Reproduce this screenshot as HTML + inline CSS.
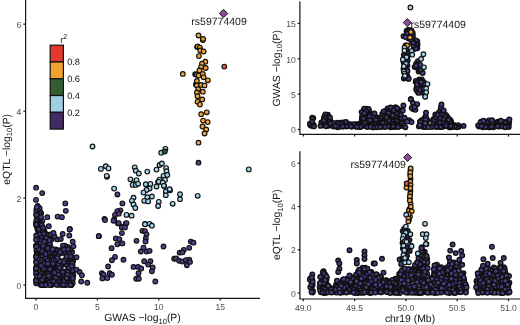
<!DOCTYPE html>
<html><head><meta charset="utf-8"><style>
html,body{margin:0;padding:0;background:#fff;}
svg{display:block;text-rendering:geometricPrecision;}
.tk{font-family:"Liberation Sans",Arial,sans-serif;font-size:8.6px;fill:#4d4d4d;}
.ti{font-family:"Liberation Sans",Arial,sans-serif;font-size:10.4px;fill:#111;}
.lb{font-family:"Liberation Sans",Arial,sans-serif;font-size:10.5px;fill:#1a1a1a;}
.lg{font-family:"Liberation Sans",Arial,sans-serif;font-size:9.2px;fill:#111;}
</style></head><body>
<svg width="520" height="325" viewBox="0 0 520 325">
<rect width="520" height="325" fill="#fff"/>
<g stroke="#111" stroke-width="1.15">
<circle cx="50.8" cy="272.6" r="2.35" fill="#45367c" stroke-width="1.2"/>
<circle cx="62.6" cy="264.2" r="2.35" fill="#45367c" stroke-width="1.2"/>
<circle cx="40.8" cy="222.2" r="2.35" fill="#45367c" stroke-width="1.2"/>
<circle cx="43.0" cy="232.9" r="2.35" fill="#45367c" stroke-width="1.2"/>
<circle cx="68.8" cy="261.2" r="2.35" fill="#45367c" stroke-width="1.2"/>
<circle cx="43.5" cy="274.4" r="2.35" fill="#45367c" stroke-width="1.2"/>
<circle cx="53.3" cy="254.8" r="2.35" fill="#45367c" stroke-width="1.2"/>
<circle cx="52.2" cy="283.2" r="2.35" fill="#45367c" stroke-width="1.2"/>
<circle cx="54.1" cy="261.3" r="2.35" fill="#45367c" stroke-width="1.2"/>
<circle cx="37.9" cy="234.5" r="2.35" fill="#45367c" stroke-width="1.2"/>
<circle cx="68.0" cy="246.9" r="2.35" fill="#45367c" stroke-width="1.2"/>
<circle cx="49.5" cy="277.7" r="2.35" fill="#45367c" stroke-width="1.2"/>
<circle cx="65.4" cy="271.5" r="2.35" fill="#45367c" stroke-width="1.2"/>
<circle cx="70.5" cy="268.9" r="2.35" fill="#45367c" stroke-width="1.2"/>
<circle cx="39.8" cy="273.0" r="2.35" fill="#45367c" stroke-width="1.2"/>
<circle cx="69.0" cy="268.7" r="2.35" fill="#45367c" stroke-width="1.2"/>
<circle cx="46.2" cy="234.2" r="2.35" fill="#45367c" stroke-width="1.2"/>
<circle cx="40.2" cy="225.7" r="2.35" fill="#45367c" stroke-width="1.2"/>
<circle cx="53.2" cy="278.5" r="2.35" fill="#45367c" stroke-width="1.2"/>
<circle cx="64.8" cy="245.7" r="2.35" fill="#45367c" stroke-width="1.2"/>
<circle cx="41.1" cy="266.0" r="2.35" fill="#45367c" stroke-width="1.2"/>
<circle cx="55.9" cy="279.1" r="2.35" fill="#45367c" stroke-width="1.2"/>
<circle cx="61.0" cy="278.1" r="2.35" fill="#45367c" stroke-width="1.2"/>
<circle cx="38.4" cy="267.5" r="2.35" fill="#45367c" stroke-width="1.2"/>
<circle cx="50.6" cy="236.8" r="2.35" fill="#45367c" stroke-width="1.2"/>
<circle cx="66.1" cy="276.8" r="2.35" fill="#45367c" stroke-width="1.2"/>
<circle cx="65.7" cy="284.6" r="2.35" fill="#45367c" stroke-width="1.2"/>
<circle cx="39.3" cy="250.6" r="2.35" fill="#45367c" stroke-width="1.2"/>
<circle cx="60.9" cy="284.3" r="2.35" fill="#45367c" stroke-width="1.2"/>
<circle cx="50.3" cy="247.3" r="2.35" fill="#45367c" stroke-width="1.2"/>
<circle cx="67.7" cy="266.1" r="2.35" fill="#45367c" stroke-width="1.2"/>
<circle cx="38.0" cy="273.8" r="2.35" fill="#45367c" stroke-width="1.2"/>
<circle cx="72.1" cy="252.0" r="2.35" fill="#45367c" stroke-width="1.2"/>
<circle cx="44.3" cy="254.2" r="2.35" fill="#45367c" stroke-width="1.2"/>
<circle cx="66.5" cy="252.5" r="2.35" fill="#45367c" stroke-width="1.2"/>
<circle cx="54.6" cy="266.4" r="2.35" fill="#45367c" stroke-width="1.2"/>
<circle cx="37.9" cy="282.1" r="2.35" fill="#45367c" stroke-width="1.2"/>
<circle cx="66.0" cy="273.2" r="2.35" fill="#45367c" stroke-width="1.2"/>
<circle cx="59.2" cy="273.2" r="2.35" fill="#45367c" stroke-width="1.2"/>
<circle cx="49.2" cy="262.0" r="2.35" fill="#45367c" stroke-width="1.2"/>
<circle cx="40.4" cy="226.8" r="2.35" fill="#45367c" stroke-width="1.2"/>
<circle cx="57.7" cy="255.9" r="2.35" fill="#45367c" stroke-width="1.2"/>
<circle cx="53.4" cy="277.3" r="2.35" fill="#45367c" stroke-width="1.2"/>
<circle cx="37.6" cy="239.1" r="2.35" fill="#45367c" stroke-width="1.2"/>
<circle cx="69.2" cy="272.5" r="2.35" fill="#45367c" stroke-width="1.2"/>
<circle cx="67.7" cy="281.8" r="2.35" fill="#45367c" stroke-width="1.2"/>
<circle cx="49.5" cy="259.4" r="2.35" fill="#45367c" stroke-width="1.2"/>
<circle cx="73.1" cy="261.3" r="2.35" fill="#45367c" stroke-width="1.2"/>
<circle cx="53.9" cy="254.6" r="2.35" fill="#45367c" stroke-width="1.2"/>
<circle cx="37.8" cy="241.1" r="2.35" fill="#45367c" stroke-width="1.2"/>
<circle cx="47.2" cy="273.4" r="2.35" fill="#45367c" stroke-width="1.2"/>
<circle cx="42.1" cy="267.1" r="2.35" fill="#45367c" stroke-width="1.2"/>
<circle cx="71.1" cy="278.5" r="2.35" fill="#45367c" stroke-width="1.2"/>
<circle cx="41.9" cy="243.2" r="2.35" fill="#45367c" stroke-width="1.2"/>
<circle cx="47.4" cy="284.2" r="2.35" fill="#45367c" stroke-width="1.2"/>
<circle cx="38.0" cy="247.2" r="2.35" fill="#45367c" stroke-width="1.2"/>
<circle cx="53.1" cy="257.7" r="2.35" fill="#45367c" stroke-width="1.2"/>
<circle cx="53.3" cy="252.7" r="2.35" fill="#45367c" stroke-width="1.2"/>
<circle cx="62.8" cy="279.7" r="2.35" fill="#45367c" stroke-width="1.2"/>
<circle cx="42.3" cy="270.7" r="2.35" fill="#45367c" stroke-width="1.2"/>
<circle cx="41.1" cy="213.1" r="2.35" fill="#45367c" stroke-width="1.2"/>
<circle cx="67.8" cy="265.3" r="2.35" fill="#45367c" stroke-width="1.2"/>
<circle cx="46.2" cy="272.2" r="2.35" fill="#45367c" stroke-width="1.2"/>
<circle cx="69.6" cy="280.4" r="2.35" fill="#45367c" stroke-width="1.2"/>
<circle cx="46.3" cy="280.2" r="2.35" fill="#45367c" stroke-width="1.2"/>
<circle cx="39.7" cy="215.1" r="2.35" fill="#45367c" stroke-width="1.2"/>
<circle cx="56.1" cy="281.5" r="2.35" fill="#45367c" stroke-width="1.2"/>
<circle cx="69.4" cy="276.5" r="2.35" fill="#45367c" stroke-width="1.2"/>
<circle cx="38.2" cy="236.1" r="2.35" fill="#45367c" stroke-width="1.2"/>
<circle cx="37.6" cy="255.9" r="2.35" fill="#45367c" stroke-width="1.2"/>
<circle cx="36.6" cy="252.1" r="2.35" fill="#45367c" stroke-width="1.2"/>
<circle cx="43.4" cy="264.5" r="2.35" fill="#45367c" stroke-width="1.2"/>
<circle cx="57.0" cy="267.7" r="2.35" fill="#45367c" stroke-width="1.2"/>
<circle cx="53.8" cy="263.7" r="2.35" fill="#45367c" stroke-width="1.2"/>
<circle cx="56.0" cy="282.6" r="2.35" fill="#45367c" stroke-width="1.2"/>
<circle cx="36.1" cy="279.9" r="2.35" fill="#45367c" stroke-width="1.2"/>
<circle cx="47.9" cy="245.2" r="2.35" fill="#45367c" stroke-width="1.2"/>
<circle cx="36.2" cy="274.4" r="2.35" fill="#45367c" stroke-width="1.2"/>
<circle cx="39.7" cy="252.1" r="2.35" fill="#45367c" stroke-width="1.2"/>
<circle cx="55.2" cy="269.9" r="2.35" fill="#45367c" stroke-width="1.2"/>
<circle cx="60.5" cy="281.4" r="2.35" fill="#45367c" stroke-width="1.2"/>
<circle cx="45.2" cy="238.7" r="2.35" fill="#45367c" stroke-width="1.2"/>
<circle cx="72.6" cy="265.4" r="2.35" fill="#45367c" stroke-width="1.2"/>
<circle cx="43.3" cy="236.6" r="2.35" fill="#45367c" stroke-width="1.2"/>
<circle cx="60.5" cy="276.6" r="2.35" fill="#45367c" stroke-width="1.2"/>
<circle cx="37.5" cy="229.6" r="2.35" fill="#45367c" stroke-width="1.2"/>
<circle cx="40.4" cy="232.9" r="2.35" fill="#45367c" stroke-width="1.2"/>
<circle cx="61.7" cy="253.4" r="2.35" fill="#45367c" stroke-width="1.2"/>
<circle cx="36.8" cy="226.5" r="2.35" fill="#45367c" stroke-width="1.2"/>
<circle cx="51.1" cy="256.6" r="2.35" fill="#45367c" stroke-width="1.2"/>
<circle cx="73.3" cy="275.2" r="2.35" fill="#45367c" stroke-width="1.2"/>
<circle cx="67.3" cy="256.1" r="2.35" fill="#45367c" stroke-width="1.2"/>
<circle cx="64.7" cy="277.5" r="2.35" fill="#45367c" stroke-width="1.2"/>
<circle cx="36.9" cy="254.3" r="2.35" fill="#45367c" stroke-width="1.2"/>
<circle cx="66.8" cy="265.1" r="2.35" fill="#45367c" stroke-width="1.2"/>
<circle cx="53.3" cy="259.7" r="2.35" fill="#45367c" stroke-width="1.2"/>
<circle cx="40.7" cy="246.3" r="2.35" fill="#45367c" stroke-width="1.2"/>
<circle cx="43.6" cy="249.7" r="2.35" fill="#45367c" stroke-width="1.2"/>
<circle cx="41.8" cy="256.7" r="2.35" fill="#45367c" stroke-width="1.2"/>
<circle cx="48.4" cy="281.3" r="2.35" fill="#45367c" stroke-width="1.2"/>
<circle cx="62.9" cy="245.6" r="2.35" fill="#45367c" stroke-width="1.2"/>
<circle cx="71.8" cy="284.5" r="2.35" fill="#45367c" stroke-width="1.2"/>
<circle cx="47.9" cy="266.5" r="2.35" fill="#45367c" stroke-width="1.2"/>
<circle cx="54.4" cy="273.4" r="2.35" fill="#45367c" stroke-width="1.2"/>
<circle cx="51.6" cy="269.3" r="2.35" fill="#45367c" stroke-width="1.2"/>
<circle cx="73.5" cy="270.8" r="2.35" fill="#45367c" stroke-width="1.2"/>
<circle cx="47.8" cy="249.9" r="2.35" fill="#45367c" stroke-width="1.2"/>
<circle cx="40.4" cy="258.3" r="2.35" fill="#45367c" stroke-width="1.2"/>
<circle cx="58.6" cy="262.0" r="2.35" fill="#45367c" stroke-width="1.2"/>
<circle cx="37.6" cy="264.7" r="2.35" fill="#45367c" stroke-width="1.2"/>
<circle cx="40.2" cy="211.9" r="2.35" fill="#45367c" stroke-width="1.2"/>
<circle cx="58.8" cy="281.0" r="2.35" fill="#45367c" stroke-width="1.2"/>
<circle cx="39.0" cy="232.8" r="2.35" fill="#45367c" stroke-width="1.2"/>
<circle cx="55.1" cy="271.3" r="2.35" fill="#45367c" stroke-width="1.2"/>
<circle cx="37.5" cy="271.4" r="2.35" fill="#45367c" stroke-width="1.2"/>
<circle cx="44.4" cy="230.9" r="2.35" fill="#45367c" stroke-width="1.2"/>
<circle cx="37.8" cy="227.2" r="2.35" fill="#45367c" stroke-width="1.2"/>
<circle cx="58.4" cy="278.0" r="2.35" fill="#45367c" stroke-width="1.2"/>
<circle cx="70.1" cy="249.4" r="2.35" fill="#45367c" stroke-width="1.2"/>
<circle cx="37.7" cy="278.8" r="2.35" fill="#45367c" stroke-width="1.2"/>
<circle cx="36.8" cy="218.6" r="2.35" fill="#45367c" stroke-width="1.2"/>
<circle cx="38.0" cy="244.0" r="2.35" fill="#45367c" stroke-width="1.2"/>
<circle cx="50.3" cy="256.3" r="2.35" fill="#45367c" stroke-width="1.2"/>
<circle cx="47.9" cy="280.0" r="2.35" fill="#45367c" stroke-width="1.2"/>
<circle cx="40.4" cy="242.2" r="2.35" fill="#45367c" stroke-width="1.2"/>
<circle cx="65.2" cy="252.4" r="2.35" fill="#45367c" stroke-width="1.2"/>
<circle cx="43.3" cy="240.0" r="2.35" fill="#45367c" stroke-width="1.2"/>
<circle cx="36.6" cy="208.9" r="2.35" fill="#45367c" stroke-width="1.2"/>
<circle cx="36.4" cy="257.2" r="2.35" fill="#45367c" stroke-width="1.2"/>
<circle cx="58.0" cy="271.1" r="2.35" fill="#45367c" stroke-width="1.2"/>
<circle cx="46.7" cy="248.6" r="2.35" fill="#45367c" stroke-width="1.2"/>
<circle cx="70.7" cy="264.2" r="2.35" fill="#45367c" stroke-width="1.2"/>
<circle cx="70.9" cy="273.6" r="2.35" fill="#45367c" stroke-width="1.2"/>
<circle cx="58.5" cy="284.7" r="2.35" fill="#45367c" stroke-width="1.2"/>
<circle cx="51.6" cy="237.9" r="2.35" fill="#45367c" stroke-width="1.2"/>
<circle cx="67.9" cy="271.7" r="2.35" fill="#45367c" stroke-width="1.2"/>
<circle cx="67.7" cy="278.6" r="2.35" fill="#45367c" stroke-width="1.2"/>
<circle cx="68.2" cy="261.5" r="2.35" fill="#45367c" stroke-width="1.2"/>
<circle cx="51.4" cy="239.4" r="2.35" fill="#45367c" stroke-width="1.2"/>
<circle cx="62.3" cy="284.7" r="2.35" fill="#45367c" stroke-width="1.2"/>
<circle cx="48.1" cy="235.2" r="2.35" fill="#45367c" stroke-width="1.2"/>
<circle cx="49.3" cy="238.2" r="2.35" fill="#45367c" stroke-width="1.2"/>
<circle cx="56.9" cy="260.7" r="2.35" fill="#45367c" stroke-width="1.2"/>
<circle cx="46.6" cy="268.2" r="2.35" fill="#45367c" stroke-width="1.2"/>
<circle cx="38.9" cy="229.3" r="2.35" fill="#45367c" stroke-width="1.2"/>
<circle cx="49.3" cy="265.6" r="2.35" fill="#45367c" stroke-width="1.2"/>
<circle cx="50.7" cy="267.1" r="2.35" fill="#45367c" stroke-width="1.2"/>
<circle cx="40.4" cy="242.7" r="2.35" fill="#45367c" stroke-width="1.2"/>
<circle cx="40.7" cy="239.5" r="2.35" fill="#45367c" stroke-width="1.2"/>
<circle cx="50.6" cy="253.2" r="2.35" fill="#45367c" stroke-width="1.2"/>
<circle cx="39.6" cy="214.1" r="2.35" fill="#45367c" stroke-width="1.2"/>
<circle cx="51.2" cy="280.7" r="2.35" fill="#45367c" stroke-width="1.2"/>
<circle cx="42.3" cy="221.1" r="2.35" fill="#45367c" stroke-width="1.2"/>
<circle cx="42.8" cy="271.2" r="2.35" fill="#45367c" stroke-width="1.2"/>
<circle cx="73.0" cy="270.4" r="2.35" fill="#45367c" stroke-width="1.2"/>
<circle cx="46.2" cy="237.9" r="2.35" fill="#45367c" stroke-width="1.2"/>
<circle cx="48.3" cy="242.6" r="2.35" fill="#45367c" stroke-width="1.2"/>
<circle cx="47.9" cy="257.1" r="2.35" fill="#45367c" stroke-width="1.2"/>
<circle cx="36.9" cy="276.6" r="2.35" fill="#45367c" stroke-width="1.2"/>
<circle cx="56.6" cy="262.2" r="2.35" fill="#45367c" stroke-width="1.2"/>
<circle cx="58.9" cy="275.7" r="2.35" fill="#45367c" stroke-width="1.2"/>
<circle cx="39.0" cy="262.2" r="2.35" fill="#45367c" stroke-width="1.2"/>
<circle cx="50.1" cy="263.5" r="2.35" fill="#45367c" stroke-width="1.2"/>
<circle cx="49.4" cy="250.4" r="2.35" fill="#45367c" stroke-width="1.2"/>
<circle cx="65.0" cy="259.9" r="2.35" fill="#45367c" stroke-width="1.2"/>
<circle cx="69.4" cy="282.7" r="2.35" fill="#45367c" stroke-width="1.2"/>
<circle cx="39.3" cy="221.1" r="2.35" fill="#45367c" stroke-width="1.2"/>
<circle cx="39.6" cy="208.2" r="2.35" fill="#45367c" stroke-width="1.2"/>
<circle cx="43.4" cy="277.9" r="2.35" fill="#45367c" stroke-width="1.2"/>
<circle cx="48.8" cy="252.9" r="2.35" fill="#45367c" stroke-width="1.2"/>
<circle cx="50.3" cy="246.1" r="2.35" fill="#45367c" stroke-width="1.2"/>
<circle cx="60.9" cy="265.8" r="2.35" fill="#45367c" stroke-width="1.2"/>
<circle cx="71.6" cy="276.0" r="2.35" fill="#45367c" stroke-width="1.2"/>
<circle cx="67.6" cy="274.6" r="2.35" fill="#45367c" stroke-width="1.2"/>
<circle cx="39.5" cy="222.0" r="2.35" fill="#45367c" stroke-width="1.2"/>
<circle cx="44.4" cy="282.5" r="2.35" fill="#45367c" stroke-width="1.2"/>
<circle cx="46.5" cy="256.5" r="2.35" fill="#45367c" stroke-width="1.2"/>
<circle cx="40.5" cy="273.4" r="2.35" fill="#45367c" stroke-width="1.2"/>
<circle cx="46.0" cy="243.3" r="2.35" fill="#45367c" stroke-width="1.2"/>
<circle cx="36.3" cy="210.9" r="2.35" fill="#45367c" stroke-width="1.2"/>
<circle cx="69.0" cy="267.7" r="2.35" fill="#45367c" stroke-width="1.2"/>
<circle cx="40.9" cy="236.6" r="2.35" fill="#45367c" stroke-width="1.2"/>
<circle cx="41.4" cy="282.4" r="2.35" fill="#45367c" stroke-width="1.2"/>
<circle cx="70.9" cy="261.7" r="2.35" fill="#45367c" stroke-width="1.2"/>
<circle cx="39.7" cy="276.3" r="2.35" fill="#45367c" stroke-width="1.2"/>
<circle cx="57.2" cy="239.4" r="2.35" fill="#45367c" stroke-width="1.2"/>
<circle cx="43.8" cy="233.4" r="2.35" fill="#45367c" stroke-width="1.2"/>
<circle cx="46.0" cy="263.7" r="2.35" fill="#45367c" stroke-width="1.2"/>
<circle cx="60.7" cy="268.5" r="2.35" fill="#45367c" stroke-width="1.2"/>
<circle cx="62.7" cy="274.3" r="2.35" fill="#45367c" stroke-width="1.2"/>
<circle cx="55.2" cy="252.6" r="2.35" fill="#45367c" stroke-width="1.2"/>
<circle cx="47.1" cy="241.9" r="2.35" fill="#45367c" stroke-width="1.2"/>
<circle cx="44.5" cy="259.4" r="2.35" fill="#45367c" stroke-width="1.2"/>
<circle cx="56.1" cy="250.2" r="2.35" fill="#45367c" stroke-width="1.2"/>
<circle cx="36.4" cy="261.1" r="2.35" fill="#45367c" stroke-width="1.2"/>
<circle cx="43.1" cy="229.7" r="2.35" fill="#45367c" stroke-width="1.2"/>
<circle cx="47.8" cy="248.3" r="2.35" fill="#45367c" stroke-width="1.2"/>
<circle cx="51.7" cy="251.3" r="2.35" fill="#45367c" stroke-width="1.2"/>
<circle cx="70.2" cy="259.9" r="2.35" fill="#45367c" stroke-width="1.2"/>
<circle cx="52.6" cy="273.4" r="2.35" fill="#45367c" stroke-width="1.2"/>
<circle cx="38.0" cy="220.3" r="2.35" fill="#45367c" stroke-width="1.2"/>
<circle cx="37.0" cy="214.0" r="2.35" fill="#45367c" stroke-width="1.2"/>
<circle cx="38.0" cy="218.1" r="2.35" fill="#45367c" stroke-width="1.2"/>
<circle cx="53.4" cy="281.4" r="2.35" fill="#45367c" stroke-width="1.2"/>
<circle cx="60.8" cy="261.2" r="2.35" fill="#45367c" stroke-width="1.2"/>
<circle cx="56.0" cy="277.4" r="2.35" fill="#45367c" stroke-width="1.2"/>
<circle cx="45.5" cy="258.0" r="2.35" fill="#45367c" stroke-width="1.2"/>
<circle cx="39.3" cy="234.3" r="2.35" fill="#45367c" stroke-width="1.2"/>
<circle cx="45.1" cy="275.7" r="2.35" fill="#45367c" stroke-width="1.2"/>
<circle cx="64.3" cy="280.5" r="2.35" fill="#45367c" stroke-width="1.2"/>
<circle cx="69.7" cy="258.2" r="2.35" fill="#45367c" stroke-width="1.2"/>
<circle cx="49.5" cy="282.4" r="2.35" fill="#45367c" stroke-width="1.2"/>
<circle cx="69.5" cy="253.0" r="2.35" fill="#45367c" stroke-width="1.2"/>
<circle cx="72.1" cy="263.2" r="2.35" fill="#45367c" stroke-width="1.2"/>
<circle cx="49.6" cy="277.5" r="2.35" fill="#45367c" stroke-width="1.2"/>
<circle cx="41.0" cy="247.9" r="2.35" fill="#45367c" stroke-width="1.2"/>
<circle cx="36.9" cy="237.1" r="2.35" fill="#45367c" stroke-width="1.2"/>
<circle cx="44.2" cy="241.7" r="2.35" fill="#45367c" stroke-width="1.2"/>
<circle cx="36.3" cy="214.7" r="2.35" fill="#45367c" stroke-width="1.2"/>
<circle cx="45.8" cy="269.5" r="2.35" fill="#45367c" stroke-width="1.2"/>
<circle cx="37.7" cy="206.0" r="2.35" fill="#45367c" stroke-width="1.2"/>
<circle cx="71.8" cy="266.1" r="2.35" fill="#45367c" stroke-width="1.2"/>
<circle cx="55.7" cy="249.5" r="2.35" fill="#45367c" stroke-width="1.2"/>
<circle cx="58.6" cy="264.2" r="2.35" fill="#45367c" stroke-width="1.2"/>
<circle cx="43.7" cy="263.4" r="2.35" fill="#45367c" stroke-width="1.2"/>
<circle cx="58.3" cy="274.3" r="2.35" fill="#45367c" stroke-width="1.2"/>
<circle cx="37.7" cy="283.4" r="2.35" fill="#45367c" stroke-width="1.2"/>
<circle cx="52.6" cy="249.2" r="2.35" fill="#45367c" stroke-width="1.2"/>
<circle cx="49.8" cy="243.2" r="2.35" fill="#45367c" stroke-width="1.2"/>
<circle cx="72.3" cy="257.2" r="2.35" fill="#45367c" stroke-width="1.2"/>
<circle cx="62.8" cy="272.0" r="2.35" fill="#45367c" stroke-width="1.2"/>
<circle cx="42.4" cy="248.2" r="2.35" fill="#45367c" stroke-width="1.2"/>
<circle cx="41.0" cy="216.9" r="2.35" fill="#45367c" stroke-width="1.2"/>
<circle cx="72.4" cy="280.2" r="2.35" fill="#45367c" stroke-width="1.2"/>
<circle cx="63.8" cy="262.1" r="2.35" fill="#45367c" stroke-width="1.2"/>
<circle cx="54.4" cy="236.4" r="2.35" fill="#45367c" stroke-width="1.2"/>
<circle cx="43.4" cy="280.0" r="2.35" fill="#45367c" stroke-width="1.2"/>
<circle cx="42.4" cy="255.4" r="2.35" fill="#45367c" stroke-width="1.2"/>
<circle cx="41.8" cy="225.2" r="2.35" fill="#45367c" stroke-width="1.2"/>
<circle cx="58.2" cy="270.3" r="2.35" fill="#45367c" stroke-width="1.2"/>
<circle cx="36.5" cy="249.7" r="2.35" fill="#45367c" stroke-width="1.2"/>
<circle cx="58.0" cy="250.3" r="2.35" fill="#45367c" stroke-width="1.2"/>
<circle cx="50.6" cy="234.4" r="2.35" fill="#45367c" stroke-width="1.2"/>
<circle cx="36.5" cy="261.4" r="2.35" fill="#45367c" stroke-width="1.2"/>
<circle cx="62.2" cy="249.9" r="2.35" fill="#45367c" stroke-width="1.2"/>
<circle cx="68.4" cy="250.1" r="2.35" fill="#45367c" stroke-width="1.2"/>
<circle cx="43.2" cy="246.1" r="2.35" fill="#45367c" stroke-width="1.2"/>
<circle cx="65.0" cy="251.8" r="2.35" fill="#45367c" stroke-width="1.2"/>
<circle cx="49.3" cy="270.8" r="2.35" fill="#45367c" stroke-width="1.2"/>
<circle cx="38.3" cy="270.6" r="2.35" fill="#45367c" stroke-width="1.2"/>
<circle cx="42.1" cy="252.5" r="2.35" fill="#45367c" stroke-width="1.2"/>
<circle cx="48.3" cy="273.7" r="2.35" fill="#45367c" stroke-width="1.2"/>
<circle cx="36.8" cy="264.6" r="2.35" fill="#45367c" stroke-width="1.2"/>
<circle cx="47.5" cy="260.7" r="2.35" fill="#45367c" stroke-width="1.2"/>
<circle cx="66.5" cy="278.1" r="2.35" fill="#45367c" stroke-width="1.2"/>
<circle cx="72.7" cy="283.1" r="2.35" fill="#45367c" stroke-width="1.2"/>
<circle cx="60.8" cy="239.1" r="2.35" fill="#45367c" stroke-width="1.2"/>
<circle cx="43.6" cy="277.7" r="2.35" fill="#45367c" stroke-width="1.2"/>
<circle cx="59.7" cy="267.8" r="2.35" fill="#45367c" stroke-width="1.2"/>
<circle cx="43.1" cy="227.8" r="2.35" fill="#45367c" stroke-width="1.2"/>
<circle cx="49.5" cy="240.2" r="2.35" fill="#45367c" stroke-width="1.2"/>
<circle cx="41.0" cy="259.9" r="2.35" fill="#45367c" stroke-width="1.2"/>
<circle cx="42.0" cy="251.1" r="2.35" fill="#45367c" stroke-width="1.2"/>
<circle cx="50.0" cy="269.3" r="2.35" fill="#45367c" stroke-width="1.2"/>
<circle cx="52.8" cy="263.7" r="2.35" fill="#45367c" stroke-width="1.2"/>
<circle cx="59.8" cy="261.2" r="2.35" fill="#45367c" stroke-width="1.2"/>
<circle cx="68.0" cy="249.2" r="2.35" fill="#45367c" stroke-width="1.2"/>
<circle cx="54.4" cy="272.8" r="2.35" fill="#45367c" stroke-width="1.2"/>
<circle cx="60.4" cy="250.5" r="2.35" fill="#45367c" stroke-width="1.2"/>
<circle cx="45.6" cy="254.0" r="2.35" fill="#45367c" stroke-width="1.2"/>
<circle cx="36.9" cy="225.1" r="2.35" fill="#45367c" stroke-width="1.2"/>
<circle cx="43.5" cy="268.5" r="2.35" fill="#45367c" stroke-width="1.2"/>
<circle cx="41.1" cy="265.8" r="2.35" fill="#45367c" stroke-width="1.2"/>
<circle cx="70.5" cy="256.5" r="2.35" fill="#45367c" stroke-width="1.2"/>
<circle cx="38.9" cy="281.3" r="2.35" fill="#45367c" stroke-width="1.2"/>
<circle cx="38.0" cy="259.0" r="2.35" fill="#45367c" stroke-width="1.2"/>
<circle cx="60.1" cy="252.2" r="2.35" fill="#45367c" stroke-width="1.2"/>
<circle cx="42.1" cy="280.0" r="2.35" fill="#45367c" stroke-width="1.2"/>
<circle cx="72.9" cy="278.2" r="2.35" fill="#45367c" stroke-width="1.2"/>
<circle cx="66.6" cy="256.6" r="2.35" fill="#45367c" stroke-width="1.2"/>
<circle cx="38.4" cy="248.9" r="2.35" fill="#45367c" stroke-width="1.2"/>
<circle cx="48.7" cy="275.8" r="2.35" fill="#45367c" stroke-width="1.2"/>
<circle cx="55.7" cy="259.5" r="2.35" fill="#45367c" stroke-width="1.2"/>
<circle cx="47.8" cy="263.7" r="2.35" fill="#45367c" stroke-width="1.2"/>
<circle cx="64.0" cy="249.5" r="2.35" fill="#45367c" stroke-width="1.2"/>
<circle cx="57.4" cy="258.1" r="2.35" fill="#45367c" stroke-width="1.2"/>
<circle cx="36.3" cy="255.6" r="2.35" fill="#45367c" stroke-width="1.2"/>
<circle cx="36.0" cy="239.8" r="2.35" fill="#45367c" stroke-width="1.2"/>
<circle cx="36.1" cy="267.5" r="2.35" fill="#45367c" stroke-width="1.2"/>
<circle cx="36.1" cy="262.3" r="2.35" fill="#45367c" stroke-width="1.2"/>
<circle cx="36.2" cy="224.7" r="2.35" fill="#45367c" stroke-width="1.2"/>
<circle cx="36.3" cy="215.0" r="2.35" fill="#45367c" stroke-width="1.2"/>
<circle cx="36.2" cy="221.1" r="2.35" fill="#45367c" stroke-width="1.2"/>
<circle cx="36.0" cy="223.6" r="2.35" fill="#45367c" stroke-width="1.2"/>
<circle cx="36.2" cy="283.3" r="2.35" fill="#45367c" stroke-width="1.2"/>
<circle cx="36.0" cy="245.8" r="2.35" fill="#45367c" stroke-width="1.2"/>
<circle cx="36.1" cy="269.4" r="2.35" fill="#45367c" stroke-width="1.2"/>
<circle cx="36.1" cy="246.1" r="2.35" fill="#45367c" stroke-width="1.2"/>
<circle cx="36.1" cy="272.1" r="2.35" fill="#45367c" stroke-width="1.2"/>
<circle cx="36.1" cy="280.7" r="2.35" fill="#45367c" stroke-width="1.2"/>
<circle cx="36.1" cy="224.5" r="2.35" fill="#45367c" stroke-width="1.2"/>
<circle cx="36.2" cy="246.4" r="2.35" fill="#45367c" stroke-width="1.2"/>
<circle cx="36.0" cy="257.0" r="2.35" fill="#45367c" stroke-width="1.2"/>
<circle cx="36.0" cy="268.7" r="2.35" fill="#45367c" stroke-width="1.2"/>
<circle cx="36.2" cy="268.6" r="2.35" fill="#45367c" stroke-width="1.2"/>
<circle cx="36.2" cy="235.4" r="2.35" fill="#45367c" stroke-width="1.2"/>
<circle cx="51.6" cy="285.0" r="2.35" fill="#45367c" stroke-width="1.2"/>
<circle cx="70.7" cy="285.1" r="2.35" fill="#45367c" stroke-width="1.2"/>
<circle cx="70.6" cy="285.1" r="2.35" fill="#45367c" stroke-width="1.2"/>
<circle cx="44.0" cy="285.0" r="2.35" fill="#45367c" stroke-width="1.2"/>
<circle cx="71.1" cy="284.9" r="2.35" fill="#45367c" stroke-width="1.2"/>
<circle cx="50.8" cy="284.8" r="2.35" fill="#45367c" stroke-width="1.2"/>
<circle cx="45.1" cy="285.0" r="2.35" fill="#45367c" stroke-width="1.2"/>
<circle cx="56.7" cy="284.9" r="2.35" fill="#45367c" stroke-width="1.2"/>
<circle cx="65.4" cy="284.9" r="2.35" fill="#45367c" stroke-width="1.2"/>
<circle cx="49.6" cy="285.0" r="2.35" fill="#45367c" stroke-width="1.2"/>
<circle cx="42.1" cy="284.8" r="2.35" fill="#45367c" stroke-width="1.2"/>
<circle cx="61.8" cy="284.9" r="2.35" fill="#45367c" stroke-width="1.2"/>
<circle cx="42.6" cy="285.0" r="2.35" fill="#45367c" stroke-width="1.2"/>
<circle cx="66.2" cy="284.9" r="2.35" fill="#45367c" stroke-width="1.2"/>
<circle cx="40.9" cy="285.0" r="2.35" fill="#45367c" stroke-width="1.2"/>
<circle cx="70.5" cy="285.0" r="2.35" fill="#45367c" stroke-width="1.2"/>
<circle cx="43.5" cy="285.0" r="2.35" fill="#45367c" stroke-width="1.2"/>
<circle cx="63.4" cy="284.8" r="2.35" fill="#45367c" stroke-width="1.2"/>
<circle cx="42.0" cy="285.1" r="2.35" fill="#45367c" stroke-width="1.2"/>
<circle cx="45.7" cy="285.0" r="2.35" fill="#45367c" stroke-width="1.2"/>
<circle cx="36.1" cy="187.7" r="2.35" fill="#533f8e"/>
<circle cx="42.2" cy="193.1" r="2.35" fill="#533f8e"/>
<circle cx="36.0" cy="199.9" r="2.35" fill="#533f8e"/>
<circle cx="36.9" cy="207.1" r="2.35" fill="#533f8e"/>
<circle cx="65.3" cy="203.4" r="2.35" fill="#533f8e"/>
<circle cx="65.8" cy="210.8" r="2.35" fill="#533f8e"/>
<circle cx="47.3" cy="217.2" r="2.35" fill="#533f8e"/>
<circle cx="57.6" cy="216.6" r="2.35" fill="#533f8e"/>
<circle cx="61.9" cy="217.2" r="2.35" fill="#533f8e"/>
<circle cx="48.8" cy="226.2" r="2.35" fill="#533f8e"/>
<circle cx="69.9" cy="228.9" r="2.35" fill="#533f8e"/>
<circle cx="53.5" cy="233.0" r="2.35" fill="#533f8e"/>
<circle cx="62.7" cy="234.0" r="2.35" fill="#533f8e"/>
<circle cx="69.6" cy="229.4" r="2.35" fill="#533f8e"/>
<circle cx="69.3" cy="235.5" r="2.35" fill="#533f8e"/>
<circle cx="72.7" cy="241.7" r="2.35" fill="#533f8e"/>
<circle cx="73.5" cy="246.3" r="2.35" fill="#533f8e"/>
<circle cx="98.8" cy="236.2" r="2.35" fill="#533f8e"/>
<circle cx="76.5" cy="257.3" r="2.35" fill="#533f8e"/>
<circle cx="76.5" cy="269.6" r="2.35" fill="#533f8e"/>
<circle cx="79.6" cy="271.9" r="2.35" fill="#533f8e"/>
<circle cx="81.9" cy="275.3" r="2.35" fill="#533f8e"/>
<circle cx="81.2" cy="281.5" r="2.35" fill="#533f8e"/>
<circle cx="87.3" cy="282.7" r="2.35" fill="#533f8e"/>
<circle cx="117.4" cy="194.5" r="2.35" fill="#533f8e"/>
<circle cx="122.4" cy="203.4" r="2.35" fill="#533f8e"/>
<circle cx="120.4" cy="210.3" r="2.35" fill="#533f8e"/>
<circle cx="117.3" cy="211.1" r="2.35" fill="#533f8e"/>
<circle cx="115.0" cy="214.9" r="2.35" fill="#533f8e"/>
<circle cx="118.8" cy="213.7" r="2.35" fill="#533f8e"/>
<circle cx="114.2" cy="219.5" r="2.35" fill="#533f8e"/>
<circle cx="118.1" cy="223.4" r="2.35" fill="#533f8e"/>
<circle cx="104.5" cy="218.8" r="2.35" fill="#533f8e"/>
<circle cx="125.8" cy="223.4" r="2.35" fill="#533f8e"/>
<circle cx="121.9" cy="226.9" r="2.35" fill="#533f8e"/>
<circle cx="107.0" cy="176.8" r="2.35" fill="#533f8e"/>
<circle cx="105.0" cy="220.0" r="2.35" fill="#533f8e"/>
<circle cx="113.5" cy="220.8" r="2.35" fill="#533f8e"/>
<circle cx="118.8" cy="223.1" r="2.35" fill="#533f8e"/>
<circle cx="126.5" cy="223.1" r="2.35" fill="#533f8e"/>
<circle cx="121.9" cy="227.4" r="2.35" fill="#533f8e"/>
<circle cx="125.0" cy="227.4" r="2.35" fill="#533f8e"/>
<circle cx="121.9" cy="233.1" r="2.35" fill="#533f8e"/>
<circle cx="98.8" cy="236.2" r="2.35" fill="#533f8e"/>
<circle cx="115.8" cy="238.5" r="2.35" fill="#533f8e"/>
<circle cx="119.3" cy="239.2" r="2.35" fill="#533f8e"/>
<circle cx="117.3" cy="244.3" r="2.35" fill="#533f8e"/>
<circle cx="122.4" cy="243.4" r="2.35" fill="#533f8e"/>
<circle cx="111.6" cy="248.2" r="2.35" fill="#533f8e"/>
<circle cx="136.5" cy="240.8" r="2.35" fill="#533f8e"/>
<circle cx="142.4" cy="230.8" r="2.35" fill="#533f8e"/>
<circle cx="145.0" cy="231.1" r="2.35" fill="#533f8e"/>
<circle cx="146.5" cy="234.3" r="2.35" fill="#533f8e"/>
<circle cx="145.8" cy="238.5" r="2.35" fill="#533f8e"/>
<circle cx="145.5" cy="241.5" r="2.35" fill="#533f8e"/>
<circle cx="143.5" cy="247.7" r="2.35" fill="#533f8e"/>
<circle cx="140.8" cy="251.5" r="2.35" fill="#533f8e"/>
<circle cx="146.5" cy="251.5" r="2.35" fill="#533f8e"/>
<circle cx="149.6" cy="250.8" r="2.35" fill="#533f8e"/>
<circle cx="163.5" cy="246.5" r="2.35" fill="#533f8e"/>
<circle cx="174.2" cy="258.8" r="2.35" fill="#533f8e"/>
<circle cx="115.0" cy="256.9" r="2.35" fill="#533f8e"/>
<circle cx="111.9" cy="260.3" r="2.35" fill="#533f8e"/>
<circle cx="123.5" cy="259.7" r="2.35" fill="#533f8e"/>
<circle cx="108.1" cy="266.5" r="2.35" fill="#533f8e"/>
<circle cx="133.5" cy="266.9" r="2.35" fill="#533f8e"/>
<circle cx="138.1" cy="266.9" r="2.35" fill="#533f8e"/>
<circle cx="141.2" cy="268.5" r="2.35" fill="#533f8e"/>
<circle cx="144.2" cy="261.2" r="2.35" fill="#533f8e"/>
<circle cx="150.4" cy="261.2" r="2.35" fill="#533f8e"/>
<circle cx="148.1" cy="264.6" r="2.35" fill="#533f8e"/>
<circle cx="152.7" cy="267.4" r="2.35" fill="#533f8e"/>
<circle cx="101.9" cy="273.2" r="2.35" fill="#533f8e"/>
<circle cx="103.5" cy="274.7" r="2.35" fill="#533f8e"/>
<circle cx="109.6" cy="273.2" r="2.35" fill="#533f8e"/>
<circle cx="111.9" cy="274.7" r="2.35" fill="#533f8e"/>
<circle cx="102.4" cy="278.4" r="2.35" fill="#533f8e"/>
<circle cx="107.3" cy="278.1" r="2.35" fill="#533f8e"/>
<circle cx="138.5" cy="273.2" r="2.35" fill="#533f8e"/>
<circle cx="136.2" cy="278.8" r="2.35" fill="#533f8e"/>
<circle cx="138.8" cy="278.8" r="2.35" fill="#533f8e"/>
<circle cx="151.9" cy="271.2" r="2.35" fill="#533f8e"/>
<circle cx="155.3" cy="281.5" r="2.35" fill="#533f8e"/>
<circle cx="190.8" cy="241.6" r="2.35" fill="#533f8e"/>
<circle cx="193.5" cy="242.7" r="2.35" fill="#533f8e"/>
<circle cx="189.2" cy="247.8" r="2.35" fill="#533f8e"/>
<circle cx="183.8" cy="249.9" r="2.35" fill="#533f8e"/>
<circle cx="179.7" cy="252.7" r="2.35" fill="#533f8e"/>
<circle cx="182.3" cy="252.4" r="2.35" fill="#533f8e"/>
<circle cx="176.2" cy="258.5" r="2.35" fill="#533f8e"/>
<circle cx="179.2" cy="260.7" r="2.35" fill="#533f8e"/>
<circle cx="182.3" cy="261.6" r="2.35" fill="#533f8e"/>
<circle cx="185.8" cy="260.1" r="2.35" fill="#533f8e"/>
<circle cx="189.2" cy="259.6" r="2.35" fill="#533f8e"/>
<circle cx="186.9" cy="265.3" r="2.35" fill="#533f8e"/>
<circle cx="190.0" cy="261.9" r="2.35" fill="#533f8e"/>
<circle cx="198.5" cy="162.7" r="2.35" fill="#533f8e"/>
<circle cx="195.3" cy="74.3" r="2.4" fill="#3a2d66" stroke-width="1.3"/>
<circle cx="196.0" cy="84.6" r="2.4" fill="#3a2d66" stroke-width="1.3"/>
<circle cx="197.2" cy="47.0" r="2.4" fill="#3a2d66" stroke-width="1.3"/>
<circle cx="92.5" cy="146.5" r="2.35" fill="#a2d3ec"/>
<circle cx="100.9" cy="168.9" r="2.35" fill="#a2d3ec"/>
<circle cx="105.8" cy="166.2" r="2.35" fill="#a2d3ec"/>
<circle cx="108.5" cy="168.4" r="2.35" fill="#a2d3ec"/>
<circle cx="106.7" cy="175.8" r="2.35" fill="#a2d3ec"/>
<circle cx="114.1" cy="188.6" r="2.35" fill="#a2d3ec"/>
<circle cx="134.7" cy="167.3" r="2.35" fill="#a2d3ec"/>
<circle cx="135.8" cy="170.7" r="2.35" fill="#a2d3ec"/>
<circle cx="138.8" cy="173.5" r="2.35" fill="#a2d3ec"/>
<circle cx="147.3" cy="171.6" r="2.35" fill="#a2d3ec"/>
<circle cx="130.4" cy="179.3" r="2.35" fill="#a2d3ec"/>
<circle cx="136.5" cy="180.1" r="2.35" fill="#a2d3ec"/>
<circle cx="156.5" cy="169.6" r="2.35" fill="#a2d3ec"/>
<circle cx="159.6" cy="165.0" r="2.35" fill="#a2d3ec"/>
<circle cx="161.9" cy="163.5" r="2.35" fill="#a2d3ec"/>
<circle cx="166.1" cy="168.1" r="2.35" fill="#a2d3ec"/>
<circle cx="166.5" cy="171.2" r="2.35" fill="#a2d3ec"/>
<circle cx="163.5" cy="175.8" r="2.35" fill="#a2d3ec"/>
<circle cx="167.3" cy="175.0" r="2.35" fill="#a2d3ec"/>
<circle cx="165.0" cy="179.9" r="2.35" fill="#a2d3ec"/>
<circle cx="161.2" cy="152.7" r="2.35" fill="#a2d3ec"/>
<circle cx="165.4" cy="148.8" r="2.35" fill="#a2d3ec"/>
<circle cx="159.6" cy="179.6" r="2.35" fill="#a2d3ec"/>
<circle cx="158.0" cy="182.0" r="2.35" fill="#a2d3ec"/>
<circle cx="145.8" cy="184.2" r="2.35" fill="#a2d3ec"/>
<circle cx="150.4" cy="183.9" r="2.35" fill="#a2d3ec"/>
<circle cx="133.5" cy="184.2" r="2.35" fill="#a2d3ec"/>
<circle cx="132.7" cy="184.9" r="2.35" fill="#a2d3ec"/>
<circle cx="135.8" cy="184.9" r="2.35" fill="#a2d3ec"/>
<circle cx="138.1" cy="183.8" r="2.35" fill="#a2d3ec"/>
<circle cx="149.6" cy="188.5" r="2.35" fill="#a2d3ec"/>
<circle cx="146.5" cy="190.0" r="2.35" fill="#a2d3ec"/>
<circle cx="143.5" cy="192.6" r="2.35" fill="#a2d3ec"/>
<circle cx="147.3" cy="197.2" r="2.35" fill="#a2d3ec"/>
<circle cx="151.9" cy="196.5" r="2.35" fill="#a2d3ec"/>
<circle cx="144.2" cy="200.8" r="2.35" fill="#a2d3ec"/>
<circle cx="148.1" cy="201.4" r="2.35" fill="#a2d3ec"/>
<circle cx="156.5" cy="186.5" r="2.35" fill="#a2d3ec"/>
<circle cx="158.8" cy="181.8" r="2.35" fill="#a2d3ec"/>
<circle cx="162.7" cy="182.6" r="2.35" fill="#a2d3ec"/>
<circle cx="164.2" cy="186.0" r="2.35" fill="#a2d3ec"/>
<circle cx="165.8" cy="191.5" r="2.35" fill="#a2d3ec"/>
<circle cx="170.1" cy="190.3" r="2.35" fill="#a2d3ec"/>
<circle cx="165.8" cy="195.2" r="2.35" fill="#a2d3ec"/>
<circle cx="158.8" cy="201.8" r="2.35" fill="#a2d3ec"/>
<circle cx="158.1" cy="206.0" r="2.35" fill="#a2d3ec"/>
<circle cx="172.7" cy="203.8" r="2.35" fill="#a2d3ec"/>
<circle cx="133.5" cy="197.7" r="2.35" fill="#a2d3ec"/>
<circle cx="131.9" cy="200.8" r="2.35" fill="#a2d3ec"/>
<circle cx="133.5" cy="204.5" r="2.35" fill="#a2d3ec"/>
<circle cx="135.3" cy="208.0" r="2.35" fill="#a2d3ec"/>
<circle cx="126.5" cy="214.9" r="2.35" fill="#a2d3ec"/>
<circle cx="131.6" cy="215.7" r="2.35" fill="#a2d3ec"/>
<circle cx="145.0" cy="223.8" r="2.35" fill="#a2d3ec"/>
<circle cx="149.6" cy="223.8" r="2.35" fill="#a2d3ec"/>
<circle cx="151.9" cy="225.7" r="2.35" fill="#a2d3ec"/>
<circle cx="145.0" cy="224.3" r="2.35" fill="#a2d3ec"/>
<circle cx="163.8" cy="185.8" r="2.35" fill="#a2d3ec"/>
<circle cx="169.6" cy="189.2" r="2.35" fill="#a2d3ec"/>
<circle cx="248.8" cy="169.4" r="2.35" fill="#a2d3ec"/>
<circle cx="180.0" cy="194.2" r="2.35" fill="#a2d3ec"/>
<circle cx="180.0" cy="199.2" r="2.35" fill="#a2d3ec"/>
<circle cx="197.7" cy="195.8" r="2.35" fill="#a2d3ec"/>
<circle cx="164.8" cy="151.5" r="2.35" fill="#2f5f2f"/>
<circle cx="202.8" cy="40.0" r="2.35" fill="#f5a331"/>
<circle cx="198.5" cy="35.5" r="2.35" fill="#f5a331"/>
<circle cx="203.1" cy="38.9" r="2.35" fill="#f5a331"/>
<circle cx="197.7" cy="46.4" r="2.35" fill="#f5a331"/>
<circle cx="199.9" cy="47.6" r="2.35" fill="#f5a331"/>
<circle cx="200.3" cy="50.5" r="2.35" fill="#f5a331"/>
<circle cx="203.6" cy="51.5" r="2.35" fill="#f5a331"/>
<circle cx="198.9" cy="56.1" r="2.35" fill="#f5a331"/>
<circle cx="205.3" cy="61.7" r="2.35" fill="#f5a331"/>
<circle cx="202.0" cy="63.7" r="2.35" fill="#f5a331"/>
<circle cx="201.1" cy="67.1" r="2.35" fill="#f5a331"/>
<circle cx="205.7" cy="68.0" r="2.35" fill="#f5a331"/>
<circle cx="199.4" cy="70.5" r="2.35" fill="#f5a331"/>
<circle cx="196.9" cy="74.7" r="2.35" fill="#f5a331"/>
<circle cx="198.6" cy="75.6" r="2.35" fill="#f5a331"/>
<circle cx="202.8" cy="73.9" r="2.35" fill="#f5a331"/>
<circle cx="203.6" cy="77.3" r="2.35" fill="#f5a331"/>
<circle cx="207.9" cy="80.3" r="2.35" fill="#f5a331"/>
<circle cx="196.9" cy="81.0" r="2.35" fill="#f5a331"/>
<circle cx="196.9" cy="85.4" r="2.35" fill="#f5a331"/>
<circle cx="201.1" cy="84.9" r="2.35" fill="#f5a331"/>
<circle cx="204.5" cy="85.4" r="2.35" fill="#f5a331"/>
<circle cx="198.2" cy="89.2" r="2.35" fill="#f5a331"/>
<circle cx="196.9" cy="92.5" r="2.35" fill="#f5a331"/>
<circle cx="202.8" cy="91.7" r="2.35" fill="#f5a331"/>
<circle cx="182.8" cy="73.9" r="2.35" fill="#f5a331"/>
<circle cx="197.5" cy="96.2" r="2.35" fill="#f5a331"/>
<circle cx="202.2" cy="99.4" r="2.35" fill="#f5a331"/>
<circle cx="197.5" cy="101.8" r="2.35" fill="#f5a331"/>
<circle cx="199.9" cy="104.6" r="2.35" fill="#f5a331"/>
<circle cx="201.2" cy="114.2" r="2.35" fill="#f5a331"/>
<circle cx="206.8" cy="112.3" r="2.35" fill="#f5a331"/>
<circle cx="203.1" cy="120.6" r="2.35" fill="#f5a331"/>
<circle cx="207.7" cy="122.1" r="2.35" fill="#f5a331"/>
<circle cx="202.5" cy="126.5" r="2.35" fill="#f5a331"/>
<circle cx="206.2" cy="129.5" r="2.35" fill="#f5a331"/>
<circle cx="204.6" cy="133.5" r="2.35" fill="#f5a331"/>
<circle cx="198.5" cy="142.7" r="2.35" fill="#f5a331"/>
<circle cx="224.3" cy="66.6" r="2.35" fill="#ec4a33"/>
<circle cx="310.3" cy="125.3" r="2.2" fill="#45367c" stroke-width="1.45"/>
<circle cx="311.8" cy="125.9" r="2.2" fill="#45367c" stroke-width="1.45"/>
<circle cx="313.3" cy="118.1" r="2.2" fill="#45367c" stroke-width="1.45"/>
<circle cx="309.9" cy="123.7" r="2.2" fill="#45367c" stroke-width="1.45"/>
<circle cx="313.7" cy="124.9" r="2.2" fill="#45367c" stroke-width="1.45"/>
<circle cx="312.2" cy="117.7" r="2.2" fill="#45367c" stroke-width="1.45"/>
<circle cx="312.6" cy="124.0" r="2.2" fill="#45367c" stroke-width="1.45"/>
<circle cx="312.6" cy="118.8" r="2.2" fill="#45367c" stroke-width="1.45"/>
<circle cx="312.1" cy="121.6" r="2.2" fill="#45367c" stroke-width="1.45"/>
<circle cx="362.8" cy="114.7" r="2.2" fill="#45367c" stroke-width="1.45"/>
<circle cx="401.6" cy="116.7" r="2.2" fill="#45367c" stroke-width="1.45"/>
<circle cx="399.4" cy="122.5" r="2.2" fill="#45367c" stroke-width="1.45"/>
<circle cx="322.6" cy="123.2" r="2.2" fill="#45367c" stroke-width="1.45"/>
<circle cx="391.3" cy="118.5" r="2.2" fill="#45367c" stroke-width="1.45"/>
<circle cx="364.1" cy="109.3" r="2.2" fill="#45367c" stroke-width="1.45"/>
<circle cx="321.3" cy="122.4" r="2.2" fill="#45367c" stroke-width="1.45"/>
<circle cx="371.8" cy="123.4" r="2.2" fill="#45367c" stroke-width="1.45"/>
<circle cx="370.2" cy="125.4" r="2.2" fill="#45367c" stroke-width="1.45"/>
<circle cx="366.2" cy="108.7" r="2.2" fill="#45367c" stroke-width="1.45"/>
<circle cx="402.5" cy="124.7" r="2.2" fill="#45367c" stroke-width="1.45"/>
<circle cx="367.3" cy="114.7" r="2.2" fill="#45367c" stroke-width="1.45"/>
<circle cx="395.6" cy="107.1" r="2.2" fill="#45367c" stroke-width="1.45"/>
<circle cx="399.5" cy="112.6" r="2.2" fill="#45367c" stroke-width="1.45"/>
<circle cx="363.2" cy="124.2" r="2.2" fill="#45367c" stroke-width="1.45"/>
<circle cx="372.6" cy="121.3" r="2.2" fill="#45367c" stroke-width="1.45"/>
<circle cx="398.4" cy="109.3" r="2.2" fill="#45367c" stroke-width="1.45"/>
<circle cx="362.6" cy="120.2" r="2.2" fill="#45367c" stroke-width="1.45"/>
<circle cx="398.5" cy="115.2" r="2.2" fill="#45367c" stroke-width="1.45"/>
<circle cx="374.0" cy="116.2" r="2.2" fill="#45367c" stroke-width="1.45"/>
<circle cx="389.6" cy="112.0" r="2.2" fill="#45367c" stroke-width="1.45"/>
<circle cx="331.3" cy="125.4" r="2.2" fill="#45367c" stroke-width="1.45"/>
<circle cx="345.8" cy="124.1" r="2.2" fill="#45367c" stroke-width="1.45"/>
<circle cx="340.5" cy="126.5" r="2.2" fill="#45367c" stroke-width="1.45"/>
<circle cx="364.3" cy="111.7" r="2.2" fill="#45367c" stroke-width="1.45"/>
<circle cx="376.2" cy="124.2" r="2.2" fill="#45367c" stroke-width="1.45"/>
<circle cx="394.3" cy="108.7" r="2.2" fill="#45367c" stroke-width="1.45"/>
<circle cx="365.0" cy="118.9" r="2.2" fill="#45367c" stroke-width="1.45"/>
<circle cx="395.3" cy="121.5" r="2.2" fill="#45367c" stroke-width="1.45"/>
<circle cx="362.5" cy="116.6" r="2.2" fill="#45367c" stroke-width="1.45"/>
<circle cx="377.2" cy="120.9" r="2.2" fill="#45367c" stroke-width="1.45"/>
<circle cx="390.8" cy="121.4" r="2.2" fill="#45367c" stroke-width="1.45"/>
<circle cx="362.1" cy="123.8" r="2.2" fill="#45367c" stroke-width="1.45"/>
<circle cx="380.0" cy="122.4" r="2.2" fill="#45367c" stroke-width="1.45"/>
<circle cx="374.5" cy="123.4" r="2.2" fill="#45367c" stroke-width="1.45"/>
<circle cx="361.8" cy="118.9" r="2.2" fill="#45367c" stroke-width="1.45"/>
<circle cx="388.1" cy="118.2" r="2.2" fill="#45367c" stroke-width="1.45"/>
<circle cx="324.3" cy="123.0" r="2.2" fill="#45367c" stroke-width="1.45"/>
<circle cx="385.6" cy="115.1" r="2.2" fill="#45367c" stroke-width="1.45"/>
<circle cx="328.0" cy="121.2" r="2.2" fill="#45367c" stroke-width="1.45"/>
<circle cx="366.7" cy="121.3" r="2.2" fill="#45367c" stroke-width="1.45"/>
<circle cx="368.8" cy="121.8" r="2.2" fill="#45367c" stroke-width="1.45"/>
<circle cx="366.4" cy="117.2" r="2.2" fill="#45367c" stroke-width="1.45"/>
<circle cx="340.8" cy="122.6" r="2.2" fill="#45367c" stroke-width="1.45"/>
<circle cx="393.6" cy="123.5" r="2.2" fill="#45367c" stroke-width="1.45"/>
<circle cx="368.8" cy="115.1" r="2.2" fill="#45367c" stroke-width="1.45"/>
<circle cx="359.2" cy="123.6" r="2.2" fill="#45367c" stroke-width="1.45"/>
<circle cx="333.8" cy="125.7" r="2.2" fill="#45367c" stroke-width="1.45"/>
<circle cx="329.1" cy="122.0" r="2.2" fill="#45367c" stroke-width="1.45"/>
<circle cx="366.0" cy="116.3" r="2.2" fill="#45367c" stroke-width="1.45"/>
<circle cx="392.4" cy="126.1" r="2.2" fill="#45367c" stroke-width="1.45"/>
<circle cx="329.7" cy="119.6" r="2.2" fill="#45367c" stroke-width="1.45"/>
<circle cx="381.5" cy="125.5" r="2.2" fill="#45367c" stroke-width="1.45"/>
<circle cx="322.5" cy="125.3" r="2.2" fill="#45367c" stroke-width="1.45"/>
<circle cx="362.0" cy="116.7" r="2.2" fill="#45367c" stroke-width="1.45"/>
<circle cx="403.1" cy="126.1" r="2.2" fill="#45367c" stroke-width="1.45"/>
<circle cx="396.5" cy="119.6" r="2.2" fill="#45367c" stroke-width="1.45"/>
<circle cx="389.5" cy="110.6" r="2.2" fill="#45367c" stroke-width="1.45"/>
<circle cx="369.9" cy="124.1" r="2.2" fill="#45367c" stroke-width="1.45"/>
<circle cx="399.6" cy="110.6" r="2.2" fill="#45367c" stroke-width="1.45"/>
<circle cx="349.7" cy="125.6" r="2.2" fill="#45367c" stroke-width="1.45"/>
<circle cx="387.6" cy="108.5" r="2.2" fill="#45367c" stroke-width="1.45"/>
<circle cx="369.1" cy="110.6" r="2.2" fill="#45367c" stroke-width="1.45"/>
<circle cx="382.5" cy="120.0" r="2.2" fill="#45367c" stroke-width="1.45"/>
<circle cx="395.0" cy="114.2" r="2.2" fill="#45367c" stroke-width="1.45"/>
<circle cx="384.6" cy="121.1" r="2.2" fill="#45367c" stroke-width="1.45"/>
<circle cx="353.9" cy="126.2" r="2.2" fill="#45367c" stroke-width="1.45"/>
<circle cx="370.3" cy="112.8" r="2.2" fill="#45367c" stroke-width="1.45"/>
<circle cx="384.3" cy="113.4" r="2.2" fill="#45367c" stroke-width="1.45"/>
<circle cx="345.5" cy="122.5" r="2.2" fill="#45367c" stroke-width="1.45"/>
<circle cx="366.3" cy="123.9" r="2.2" fill="#45367c" stroke-width="1.45"/>
<circle cx="383.5" cy="118.1" r="2.2" fill="#45367c" stroke-width="1.45"/>
<circle cx="377.0" cy="117.3" r="2.2" fill="#45367c" stroke-width="1.45"/>
<circle cx="369.9" cy="125.8" r="2.2" fill="#45367c" stroke-width="1.45"/>
<circle cx="375.3" cy="121.3" r="2.2" fill="#45367c" stroke-width="1.45"/>
<circle cx="397.3" cy="110.0" r="2.2" fill="#45367c" stroke-width="1.45"/>
<circle cx="392.6" cy="121.2" r="2.2" fill="#45367c" stroke-width="1.45"/>
<circle cx="368.6" cy="109.0" r="2.2" fill="#45367c" stroke-width="1.45"/>
<circle cx="373.9" cy="125.2" r="2.2" fill="#45367c" stroke-width="1.45"/>
<circle cx="397.2" cy="122.7" r="2.2" fill="#45367c" stroke-width="1.45"/>
<circle cx="362.6" cy="121.0" r="2.2" fill="#45367c" stroke-width="1.45"/>
<circle cx="336.7" cy="126.5" r="2.2" fill="#45367c" stroke-width="1.45"/>
<circle cx="334.3" cy="124.6" r="2.2" fill="#45367c" stroke-width="1.45"/>
<circle cx="390.6" cy="110.9" r="2.2" fill="#45367c" stroke-width="1.45"/>
<circle cx="355.8" cy="124.2" r="2.2" fill="#45367c" stroke-width="1.45"/>
<circle cx="337.5" cy="123.0" r="2.2" fill="#45367c" stroke-width="1.45"/>
<circle cx="397.2" cy="115.3" r="2.2" fill="#45367c" stroke-width="1.45"/>
<circle cx="400.3" cy="125.8" r="2.2" fill="#45367c" stroke-width="1.45"/>
<circle cx="394.0" cy="120.5" r="2.2" fill="#45367c" stroke-width="1.45"/>
<circle cx="325.1" cy="124.4" r="2.2" fill="#45367c" stroke-width="1.45"/>
<circle cx="386.8" cy="125.6" r="2.2" fill="#45367c" stroke-width="1.45"/>
<circle cx="402.7" cy="119.7" r="2.2" fill="#45367c" stroke-width="1.45"/>
<circle cx="371.2" cy="117.3" r="2.2" fill="#45367c" stroke-width="1.45"/>
<circle cx="337.4" cy="122.7" r="2.2" fill="#45367c" stroke-width="1.45"/>
<circle cx="373.2" cy="118.7" r="2.2" fill="#45367c" stroke-width="1.45"/>
<circle cx="370.4" cy="121.0" r="2.2" fill="#45367c" stroke-width="1.45"/>
<circle cx="394.5" cy="124.8" r="2.2" fill="#45367c" stroke-width="1.45"/>
<circle cx="342.8" cy="122.4" r="2.2" fill="#45367c" stroke-width="1.45"/>
<circle cx="394.4" cy="118.4" r="2.2" fill="#45367c" stroke-width="1.45"/>
<circle cx="338.1" cy="125.4" r="2.2" fill="#45367c" stroke-width="1.45"/>
<circle cx="400.8" cy="124.5" r="2.2" fill="#45367c" stroke-width="1.45"/>
<circle cx="379.5" cy="123.6" r="2.2" fill="#45367c" stroke-width="1.45"/>
<circle cx="397.7" cy="123.8" r="2.2" fill="#45367c" stroke-width="1.45"/>
<circle cx="388.8" cy="122.0" r="2.2" fill="#45367c" stroke-width="1.45"/>
<circle cx="368.4" cy="114.3" r="2.2" fill="#45367c" stroke-width="1.45"/>
<circle cx="386.0" cy="111.9" r="2.2" fill="#45367c" stroke-width="1.45"/>
<circle cx="345.3" cy="124.9" r="2.2" fill="#45367c" stroke-width="1.45"/>
<circle cx="328.0" cy="125.9" r="2.2" fill="#45367c" stroke-width="1.45"/>
<circle cx="404.1" cy="121.3" r="2.2" fill="#45367c" stroke-width="1.45"/>
<circle cx="327.3" cy="115.4" r="2.2" fill="#45367c" stroke-width="1.45"/>
<circle cx="344.3" cy="124.3" r="2.2" fill="#45367c" stroke-width="1.45"/>
<circle cx="387.9" cy="112.5" r="2.2" fill="#45367c" stroke-width="1.45"/>
<circle cx="392.4" cy="114.3" r="2.2" fill="#45367c" stroke-width="1.45"/>
<circle cx="384.4" cy="125.1" r="2.2" fill="#45367c" stroke-width="1.45"/>
<circle cx="361.6" cy="112.1" r="2.2" fill="#45367c" stroke-width="1.45"/>
<circle cx="394.8" cy="112.3" r="2.2" fill="#45367c" stroke-width="1.45"/>
<circle cx="389.5" cy="124.3" r="2.2" fill="#45367c" stroke-width="1.45"/>
<circle cx="348.5" cy="124.2" r="2.2" fill="#45367c" stroke-width="1.45"/>
<circle cx="403.5" cy="123.7" r="2.2" fill="#45367c" stroke-width="1.45"/>
<circle cx="382.5" cy="115.5" r="2.2" fill="#45367c" stroke-width="1.45"/>
<circle cx="385.5" cy="123.8" r="2.2" fill="#45367c" stroke-width="1.45"/>
<circle cx="382.3" cy="121.9" r="2.2" fill="#45367c" stroke-width="1.45"/>
<circle cx="328.1" cy="122.8" r="2.2" fill="#45367c" stroke-width="1.45"/>
<circle cx="374.8" cy="118.9" r="2.2" fill="#45367c" stroke-width="1.45"/>
<circle cx="387.7" cy="120.3" r="2.2" fill="#45367c" stroke-width="1.45"/>
<circle cx="327.2" cy="117.2" r="2.2" fill="#45367c" stroke-width="1.45"/>
<circle cx="327.9" cy="114.7" r="2.2" fill="#45367c" stroke-width="1.45"/>
<circle cx="326.9" cy="115.5" r="2.2" fill="#45367c" stroke-width="1.45"/>
<circle cx="366.8" cy="111.3" r="2.2" fill="#45367c" stroke-width="1.45"/>
<circle cx="325.3" cy="114.3" r="2.2" fill="#45367c" stroke-width="1.45"/>
<circle cx="342.2" cy="125.6" r="2.2" fill="#45367c" stroke-width="1.45"/>
<circle cx="371.9" cy="114.9" r="2.2" fill="#45367c" stroke-width="1.45"/>
<circle cx="397.3" cy="118.4" r="2.2" fill="#45367c" stroke-width="1.45"/>
<circle cx="392.7" cy="108.3" r="2.2" fill="#45367c" stroke-width="1.45"/>
<circle cx="361.9" cy="118.9" r="2.2" fill="#45367c" stroke-width="1.45"/>
<circle cx="389.7" cy="125.7" r="2.2" fill="#45367c" stroke-width="1.45"/>
<circle cx="399.5" cy="120.4" r="2.2" fill="#45367c" stroke-width="1.45"/>
<circle cx="396.8" cy="125.6" r="2.2" fill="#45367c" stroke-width="1.45"/>
<circle cx="398.8" cy="118.5" r="2.2" fill="#45367c" stroke-width="1.45"/>
<circle cx="363.5" cy="118.5" r="2.2" fill="#45367c" stroke-width="1.45"/>
<circle cx="331.2" cy="121.8" r="2.2" fill="#45367c" stroke-width="1.45"/>
<circle cx="400.7" cy="114.8" r="2.2" fill="#45367c" stroke-width="1.45"/>
<circle cx="386.8" cy="124.5" r="2.2" fill="#45367c" stroke-width="1.45"/>
<circle cx="367.6" cy="123.6" r="2.2" fill="#45367c" stroke-width="1.45"/>
<circle cx="397.7" cy="120.8" r="2.2" fill="#45367c" stroke-width="1.45"/>
<circle cx="375.9" cy="124.6" r="2.2" fill="#45367c" stroke-width="1.45"/>
<circle cx="392.9" cy="119.6" r="2.2" fill="#45367c" stroke-width="1.45"/>
<circle cx="396.0" cy="111.3" r="2.2" fill="#45367c" stroke-width="1.45"/>
<circle cx="377.3" cy="126.2" r="2.2" fill="#45367c" stroke-width="1.45"/>
<circle cx="380.3" cy="119.6" r="2.2" fill="#45367c" stroke-width="1.45"/>
<circle cx="338.9" cy="123.4" r="2.2" fill="#45367c" stroke-width="1.45"/>
<circle cx="366.9" cy="125.3" r="2.2" fill="#45367c" stroke-width="1.45"/>
<circle cx="386.9" cy="121.7" r="2.2" fill="#45367c" stroke-width="1.45"/>
<circle cx="393.3" cy="117.3" r="2.2" fill="#45367c" stroke-width="1.45"/>
<circle cx="392.6" cy="113.1" r="2.2" fill="#45367c" stroke-width="1.45"/>
<circle cx="328.9" cy="119.6" r="2.2" fill="#45367c" stroke-width="1.45"/>
<circle cx="401.4" cy="121.9" r="2.2" fill="#45367c" stroke-width="1.45"/>
<circle cx="357.7" cy="124.9" r="2.2" fill="#45367c" stroke-width="1.45"/>
<circle cx="367.9" cy="118.6" r="2.2" fill="#45367c" stroke-width="1.45"/>
<circle cx="325.1" cy="125.3" r="2.2" fill="#45367c" stroke-width="1.45"/>
<circle cx="396.6" cy="113.2" r="2.2" fill="#45367c" stroke-width="1.45"/>
<circle cx="368.0" cy="120.0" r="2.2" fill="#45367c" stroke-width="1.45"/>
<circle cx="325.5" cy="119.2" r="2.2" fill="#45367c" stroke-width="1.45"/>
<circle cx="390.7" cy="124.8" r="2.2" fill="#45367c" stroke-width="1.45"/>
<circle cx="329.3" cy="124.8" r="2.2" fill="#45367c" stroke-width="1.45"/>
<circle cx="366.5" cy="112.6" r="2.2" fill="#45367c" stroke-width="1.45"/>
<circle cx="392.7" cy="124.6" r="2.2" fill="#45367c" stroke-width="1.45"/>
<circle cx="363.9" cy="125.8" r="2.2" fill="#45367c" stroke-width="1.45"/>
<circle cx="346.0" cy="122.0" r="2.2" fill="#45367c" stroke-width="1.45"/>
<circle cx="378.8" cy="119.4" r="2.2" fill="#45367c" stroke-width="1.45"/>
<circle cx="380.4" cy="118.4" r="2.2" fill="#45367c" stroke-width="1.45"/>
<circle cx="386.1" cy="119.1" r="2.2" fill="#45367c" stroke-width="1.45"/>
<circle cx="359.7" cy="125.6" r="2.2" fill="#45367c" stroke-width="1.45"/>
<circle cx="356.7" cy="126.3" r="2.2" fill="#45367c" stroke-width="1.45"/>
<circle cx="380.9" cy="123.0" r="2.2" fill="#45367c" stroke-width="1.45"/>
<circle cx="371.4" cy="120.6" r="2.2" fill="#45367c" stroke-width="1.45"/>
<circle cx="382.8" cy="122.9" r="2.2" fill="#45367c" stroke-width="1.45"/>
<circle cx="389.2" cy="115.1" r="2.2" fill="#45367c" stroke-width="1.45"/>
<circle cx="394.8" cy="109.9" r="2.2" fill="#45367c" stroke-width="1.45"/>
<circle cx="364.7" cy="122.6" r="2.2" fill="#45367c" stroke-width="1.45"/>
<circle cx="395.1" cy="116.8" r="2.2" fill="#45367c" stroke-width="1.45"/>
<circle cx="341.7" cy="123.9" r="2.2" fill="#45367c" stroke-width="1.45"/>
<circle cx="389.1" cy="120.5" r="2.2" fill="#45367c" stroke-width="1.45"/>
<circle cx="374.9" cy="118.1" r="2.2" fill="#45367c" stroke-width="1.45"/>
<circle cx="324.9" cy="122.6" r="2.2" fill="#45367c" stroke-width="1.45"/>
<circle cx="364.2" cy="108.6" r="2.2" fill="#45367c" stroke-width="1.45"/>
<circle cx="381.5" cy="117.1" r="2.2" fill="#45367c" stroke-width="1.45"/>
<circle cx="391.2" cy="114.7" r="2.2" fill="#45367c" stroke-width="1.45"/>
<circle cx="333.1" cy="122.9" r="2.2" fill="#45367c" stroke-width="1.45"/>
<circle cx="382.2" cy="113.9" r="2.2" fill="#45367c" stroke-width="1.45"/>
<circle cx="350.5" cy="126.3" r="2.2" fill="#45367c" stroke-width="1.45"/>
<circle cx="373.1" cy="116.4" r="2.2" fill="#45367c" stroke-width="1.45"/>
<circle cx="392.8" cy="115.5" r="2.2" fill="#45367c" stroke-width="1.45"/>
<circle cx="386.6" cy="116.5" r="2.2" fill="#45367c" stroke-width="1.45"/>
<circle cx="350.2" cy="124.2" r="2.2" fill="#45367c" stroke-width="1.45"/>
<circle cx="362.3" cy="124.9" r="2.2" fill="#45367c" stroke-width="1.45"/>
<circle cx="400.5" cy="119.3" r="2.2" fill="#45367c" stroke-width="1.45"/>
<circle cx="366.1" cy="111.1" r="2.2" fill="#45367c" stroke-width="1.45"/>
<circle cx="346.5" cy="126.5" r="2.2" fill="#45367c" stroke-width="1.45"/>
<circle cx="380.1" cy="125.9" r="2.2" fill="#45367c" stroke-width="1.45"/>
<circle cx="375.9" cy="119.8" r="2.2" fill="#45367c" stroke-width="1.45"/>
<circle cx="369.3" cy="116.5" r="2.2" fill="#45367c" stroke-width="1.45"/>
<circle cx="385.6" cy="110.9" r="2.2" fill="#45367c" stroke-width="1.45"/>
<circle cx="390.5" cy="107.4" r="2.2" fill="#45367c" stroke-width="1.45"/>
<circle cx="370.0" cy="120.2" r="2.2" fill="#45367c" stroke-width="1.45"/>
<circle cx="352.8" cy="124.5" r="2.2" fill="#45367c" stroke-width="1.45"/>
<circle cx="323.4" cy="120.9" r="2.2" fill="#45367c" stroke-width="1.45"/>
<circle cx="324.3" cy="116.7" r="2.2" fill="#45367c" stroke-width="1.45"/>
<circle cx="401.6" cy="118.6" r="2.2" fill="#45367c" stroke-width="1.45"/>
<circle cx="393.7" cy="110.4" r="2.2" fill="#45367c" stroke-width="1.45"/>
<circle cx="330.2" cy="123.5" r="2.2" fill="#45367c" stroke-width="1.45"/>
<circle cx="383.6" cy="111.5" r="2.2" fill="#45367c" stroke-width="1.45"/>
<circle cx="353.9" cy="124.4" r="2.2" fill="#45367c" stroke-width="1.45"/>
<circle cx="324.0" cy="118.4" r="2.2" fill="#45367c" stroke-width="1.45"/>
<circle cx="397.1" cy="108.2" r="2.2" fill="#45367c" stroke-width="1.45"/>
<circle cx="388.5" cy="113.3" r="2.2" fill="#45367c" stroke-width="1.45"/>
<circle cx="330.0" cy="117.5" r="2.2" fill="#45367c" stroke-width="1.45"/>
<circle cx="323.8" cy="120.6" r="2.2" fill="#45367c" stroke-width="1.45"/>
<circle cx="384.7" cy="116.4" r="2.2" fill="#45367c" stroke-width="1.45"/>
<circle cx="320.5" cy="125.9" r="2.2" fill="#45367c" stroke-width="1.45"/>
<circle cx="364.4" cy="113.3" r="2.2" fill="#45367c" stroke-width="1.45"/>
<circle cx="386.5" cy="117.5" r="2.2" fill="#45367c" stroke-width="1.45"/>
<circle cx="418.9" cy="126.4" r="2.2" fill="#45367c" stroke-width="1.45"/>
<circle cx="425.5" cy="121.0" r="2.2" fill="#45367c" stroke-width="1.45"/>
<circle cx="426.6" cy="125.3" r="2.2" fill="#45367c" stroke-width="1.45"/>
<circle cx="424.6" cy="122.2" r="2.2" fill="#45367c" stroke-width="1.45"/>
<circle cx="425.3" cy="116.9" r="2.2" fill="#45367c" stroke-width="1.45"/>
<circle cx="424.8" cy="118.2" r="2.2" fill="#45367c" stroke-width="1.45"/>
<circle cx="426.5" cy="124.4" r="2.2" fill="#45367c" stroke-width="1.45"/>
<circle cx="424.4" cy="123.8" r="2.2" fill="#45367c" stroke-width="1.45"/>
<circle cx="424.4" cy="125.0" r="2.2" fill="#45367c" stroke-width="1.45"/>
<circle cx="421.3" cy="123.6" r="2.2" fill="#45367c" stroke-width="1.45"/>
<circle cx="421.8" cy="126.0" r="2.2" fill="#45367c" stroke-width="1.45"/>
<circle cx="426.7" cy="119.4" r="2.2" fill="#45367c" stroke-width="1.45"/>
<circle cx="422.4" cy="125.0" r="2.2" fill="#45367c" stroke-width="1.45"/>
<circle cx="427.5" cy="120.3" r="2.2" fill="#45367c" stroke-width="1.45"/>
<circle cx="422.1" cy="122.9" r="2.2" fill="#45367c" stroke-width="1.45"/>
<circle cx="421.6" cy="120.2" r="2.2" fill="#45367c" stroke-width="1.45"/>
<circle cx="425.6" cy="123.1" r="2.2" fill="#45367c" stroke-width="1.45"/>
<circle cx="419.9" cy="121.6" r="2.2" fill="#45367c" stroke-width="1.45"/>
<circle cx="428.7" cy="126.4" r="2.2" fill="#45367c" stroke-width="1.45"/>
<circle cx="422.6" cy="120.3" r="2.2" fill="#45367c" stroke-width="1.45"/>
<circle cx="444.7" cy="115.0" r="2.2" fill="#45367c" stroke-width="1.45"/>
<circle cx="453.3" cy="125.5" r="2.2" fill="#45367c" stroke-width="1.45"/>
<circle cx="438.0" cy="117.1" r="2.2" fill="#45367c" stroke-width="1.45"/>
<circle cx="435.5" cy="125.0" r="2.2" fill="#45367c" stroke-width="1.45"/>
<circle cx="433.1" cy="121.2" r="2.2" fill="#45367c" stroke-width="1.45"/>
<circle cx="441.2" cy="125.4" r="2.2" fill="#45367c" stroke-width="1.45"/>
<circle cx="449.0" cy="126.8" r="2.2" fill="#45367c" stroke-width="1.45"/>
<circle cx="449.9" cy="119.3" r="2.2" fill="#45367c" stroke-width="1.45"/>
<circle cx="435.3" cy="114.4" r="2.2" fill="#45367c" stroke-width="1.45"/>
<circle cx="458.9" cy="126.8" r="2.2" fill="#45367c" stroke-width="1.45"/>
<circle cx="439.0" cy="114.3" r="2.2" fill="#45367c" stroke-width="1.45"/>
<circle cx="441.0" cy="123.3" r="2.2" fill="#45367c" stroke-width="1.45"/>
<circle cx="443.3" cy="116.8" r="2.2" fill="#45367c" stroke-width="1.45"/>
<circle cx="444.5" cy="119.2" r="2.2" fill="#45367c" stroke-width="1.45"/>
<circle cx="455.2" cy="126.3" r="2.2" fill="#45367c" stroke-width="1.45"/>
<circle cx="453.5" cy="124.6" r="2.2" fill="#45367c" stroke-width="1.45"/>
<circle cx="433.5" cy="126.3" r="2.2" fill="#45367c" stroke-width="1.45"/>
<circle cx="437.7" cy="122.4" r="2.2" fill="#45367c" stroke-width="1.45"/>
<circle cx="449.7" cy="123.2" r="2.2" fill="#45367c" stroke-width="1.45"/>
<circle cx="433.2" cy="119.3" r="2.2" fill="#45367c" stroke-width="1.45"/>
<circle cx="446.2" cy="120.1" r="2.2" fill="#45367c" stroke-width="1.45"/>
<circle cx="448.2" cy="122.2" r="2.2" fill="#45367c" stroke-width="1.45"/>
<circle cx="437.7" cy="121.0" r="2.2" fill="#45367c" stroke-width="1.45"/>
<circle cx="446.8" cy="123.9" r="2.2" fill="#45367c" stroke-width="1.45"/>
<circle cx="441.0" cy="117.4" r="2.2" fill="#45367c" stroke-width="1.45"/>
<circle cx="447.8" cy="119.1" r="2.2" fill="#45367c" stroke-width="1.45"/>
<circle cx="436.1" cy="120.4" r="2.2" fill="#45367c" stroke-width="1.45"/>
<circle cx="433.5" cy="123.8" r="2.2" fill="#45367c" stroke-width="1.45"/>
<circle cx="440.3" cy="119.9" r="2.2" fill="#45367c" stroke-width="1.45"/>
<circle cx="444.9" cy="126.3" r="2.2" fill="#45367c" stroke-width="1.45"/>
<circle cx="434.7" cy="118.3" r="2.2" fill="#45367c" stroke-width="1.45"/>
<circle cx="448.0" cy="120.2" r="2.2" fill="#45367c" stroke-width="1.45"/>
<circle cx="440.3" cy="126.9" r="2.2" fill="#45367c" stroke-width="1.45"/>
<circle cx="436.1" cy="126.5" r="2.2" fill="#45367c" stroke-width="1.45"/>
<circle cx="440.7" cy="108.9" r="2.2" fill="#45367c" stroke-width="1.45"/>
<circle cx="444.0" cy="121.6" r="2.2" fill="#45367c" stroke-width="1.45"/>
<circle cx="436.7" cy="118.1" r="2.2" fill="#45367c" stroke-width="1.45"/>
<circle cx="451.1" cy="121.1" r="2.2" fill="#45367c" stroke-width="1.45"/>
<circle cx="438.9" cy="112.4" r="2.2" fill="#45367c" stroke-width="1.45"/>
<circle cx="441.7" cy="113.3" r="2.2" fill="#45367c" stroke-width="1.45"/>
<circle cx="447.2" cy="122.2" r="2.2" fill="#45367c" stroke-width="1.45"/>
<circle cx="443.4" cy="124.9" r="2.2" fill="#45367c" stroke-width="1.45"/>
<circle cx="463.6" cy="125.9" r="2.2" fill="#45367c" stroke-width="1.45"/>
<circle cx="452.4" cy="124.6" r="2.2" fill="#45367c" stroke-width="1.45"/>
<circle cx="437.5" cy="126.7" r="2.2" fill="#45367c" stroke-width="1.45"/>
<circle cx="446.0" cy="123.2" r="2.2" fill="#45367c" stroke-width="1.45"/>
<circle cx="443.0" cy="112.1" r="2.2" fill="#45367c" stroke-width="1.45"/>
<circle cx="442.8" cy="122.5" r="2.2" fill="#45367c" stroke-width="1.45"/>
<circle cx="450.9" cy="125.2" r="2.2" fill="#45367c" stroke-width="1.45"/>
<circle cx="447.5" cy="116.8" r="2.2" fill="#45367c" stroke-width="1.45"/>
<circle cx="436.0" cy="121.3" r="2.2" fill="#45367c" stroke-width="1.45"/>
<circle cx="446.0" cy="114.8" r="2.2" fill="#45367c" stroke-width="1.45"/>
<circle cx="433.9" cy="119.9" r="2.2" fill="#45367c" stroke-width="1.45"/>
<circle cx="446.2" cy="117.6" r="2.2" fill="#45367c" stroke-width="1.45"/>
<circle cx="443.3" cy="111.1" r="2.2" fill="#45367c" stroke-width="1.45"/>
<circle cx="435.8" cy="116.9" r="2.2" fill="#45367c" stroke-width="1.45"/>
<circle cx="440.6" cy="110.8" r="2.2" fill="#45367c" stroke-width="1.45"/>
<circle cx="450.3" cy="121.4" r="2.2" fill="#45367c" stroke-width="1.45"/>
<circle cx="441.1" cy="115.8" r="2.2" fill="#45367c" stroke-width="1.45"/>
<circle cx="444.7" cy="116.3" r="2.2" fill="#45367c" stroke-width="1.45"/>
<circle cx="458.2" cy="125.1" r="2.2" fill="#45367c" stroke-width="1.45"/>
<circle cx="442.1" cy="113.7" r="2.2" fill="#45367c" stroke-width="1.45"/>
<circle cx="438.3" cy="124.2" r="2.2" fill="#45367c" stroke-width="1.45"/>
<circle cx="442.7" cy="111.1" r="2.2" fill="#45367c" stroke-width="1.45"/>
<circle cx="443.4" cy="119.3" r="2.2" fill="#45367c" stroke-width="1.45"/>
<circle cx="448.8" cy="119.8" r="2.2" fill="#45367c" stroke-width="1.45"/>
<circle cx="439.9" cy="118.1" r="2.2" fill="#45367c" stroke-width="1.45"/>
<circle cx="439.9" cy="122.8" r="2.2" fill="#45367c" stroke-width="1.45"/>
<circle cx="446.1" cy="125.7" r="2.2" fill="#45367c" stroke-width="1.45"/>
<circle cx="437.6" cy="114.8" r="2.2" fill="#45367c" stroke-width="1.45"/>
<circle cx="509.0" cy="123.8" r="2.2" fill="#45367c" stroke-width="1.45"/>
<circle cx="505.9" cy="124.0" r="2.2" fill="#45367c" stroke-width="1.45"/>
<circle cx="506.5" cy="126.2" r="2.2" fill="#45367c" stroke-width="1.45"/>
<circle cx="508.8" cy="126.9" r="2.2" fill="#45367c" stroke-width="1.45"/>
<circle cx="497.8" cy="125.7" r="2.2" fill="#45367c" stroke-width="1.45"/>
<circle cx="487.8" cy="125.2" r="2.2" fill="#45367c" stroke-width="1.45"/>
<circle cx="493.4" cy="122.1" r="2.2" fill="#45367c" stroke-width="1.45"/>
<circle cx="485.4" cy="126.4" r="2.2" fill="#45367c" stroke-width="1.45"/>
<circle cx="482.7" cy="125.0" r="2.2" fill="#45367c" stroke-width="1.45"/>
<circle cx="488.6" cy="122.9" r="2.2" fill="#45367c" stroke-width="1.45"/>
<circle cx="502.0" cy="122.7" r="2.2" fill="#45367c" stroke-width="1.45"/>
<circle cx="501.9" cy="124.2" r="2.2" fill="#45367c" stroke-width="1.45"/>
<circle cx="478.9" cy="126.6" r="2.2" fill="#45367c" stroke-width="1.45"/>
<circle cx="497.8" cy="121.7" r="2.2" fill="#45367c" stroke-width="1.45"/>
<circle cx="494.6" cy="122.6" r="2.2" fill="#45367c" stroke-width="1.45"/>
<circle cx="478.1" cy="125.5" r="2.2" fill="#45367c" stroke-width="1.45"/>
<circle cx="497.2" cy="122.6" r="2.2" fill="#45367c" stroke-width="1.45"/>
<circle cx="501.6" cy="124.6" r="2.2" fill="#45367c" stroke-width="1.45"/>
<circle cx="489.5" cy="125.2" r="2.2" fill="#45367c" stroke-width="1.45"/>
<circle cx="494.3" cy="126.0" r="2.2" fill="#45367c" stroke-width="1.45"/>
<circle cx="486.0" cy="124.3" r="2.2" fill="#45367c" stroke-width="1.45"/>
<circle cx="501.7" cy="126.2" r="2.2" fill="#45367c" stroke-width="1.45"/>
<circle cx="507.2" cy="121.5" r="2.2" fill="#45367c" stroke-width="1.45"/>
<circle cx="508.0" cy="124.3" r="2.2" fill="#45367c" stroke-width="1.45"/>
<circle cx="492.4" cy="126.8" r="2.2" fill="#45367c" stroke-width="1.45"/>
<circle cx="498.9" cy="123.6" r="2.2" fill="#45367c" stroke-width="1.45"/>
<circle cx="482.7" cy="122.2" r="2.2" fill="#45367c" stroke-width="1.45"/>
<circle cx="498.3" cy="126.6" r="2.2" fill="#45367c" stroke-width="1.45"/>
<circle cx="509.1" cy="121.8" r="2.2" fill="#45367c" stroke-width="1.45"/>
<circle cx="482.7" cy="127.3" r="2.2" fill="#45367c" stroke-width="1.45"/>
<circle cx="504.5" cy="122.2" r="2.2" fill="#45367c" stroke-width="1.45"/>
<circle cx="506.2" cy="122.4" r="2.2" fill="#45367c" stroke-width="1.45"/>
<circle cx="481.4" cy="124.6" r="2.2" fill="#45367c" stroke-width="1.45"/>
<circle cx="488.9" cy="120.3" r="2.2" fill="#45367c" stroke-width="1.45"/>
<circle cx="494.8" cy="124.7" r="2.2" fill="#45367c" stroke-width="1.45"/>
<circle cx="482.4" cy="122.2" r="2.2" fill="#45367c" stroke-width="1.45"/>
<circle cx="484.7" cy="121.7" r="2.2" fill="#45367c" stroke-width="1.45"/>
<circle cx="489.8" cy="126.9" r="2.2" fill="#45367c" stroke-width="1.45"/>
<circle cx="489.1" cy="127.3" r="2.2" fill="#45367c" stroke-width="1.45"/>
<circle cx="491.5" cy="124.0" r="2.2" fill="#45367c" stroke-width="1.45"/>
<circle cx="481.1" cy="121.7" r="2.2" fill="#45367c" stroke-width="1.45"/>
<circle cx="480.5" cy="122.3" r="2.2" fill="#45367c" stroke-width="1.45"/>
<circle cx="493.2" cy="122.6" r="2.2" fill="#45367c" stroke-width="1.45"/>
<circle cx="500.2" cy="126.2" r="2.2" fill="#45367c" stroke-width="1.45"/>
<circle cx="487.0" cy="122.2" r="2.2" fill="#45367c" stroke-width="1.45"/>
<circle cx="484.4" cy="122.9" r="2.2" fill="#45367c" stroke-width="1.45"/>
<circle cx="503.8" cy="126.3" r="2.2" fill="#45367c" stroke-width="1.45"/>
<circle cx="491.8" cy="121.3" r="2.2" fill="#45367c" stroke-width="1.45"/>
<circle cx="492.6" cy="124.4" r="2.2" fill="#45367c" stroke-width="1.45"/>
<circle cx="504.9" cy="122.5" r="2.2" fill="#45367c" stroke-width="1.45"/>
<circle cx="496.8" cy="125.7" r="2.2" fill="#45367c" stroke-width="1.45"/>
<circle cx="501.9" cy="121.8" r="2.2" fill="#45367c" stroke-width="1.45"/>
<circle cx="314.0" cy="126.4" r="2.2" fill="#45367c" stroke-width="1.45"/>
<circle cx="376.9" cy="127.3" r="2.2" fill="#45367c" stroke-width="1.45"/>
<circle cx="373.3" cy="127.4" r="2.2" fill="#45367c" stroke-width="1.45"/>
<circle cx="381.4" cy="126.9" r="2.2" fill="#45367c" stroke-width="1.45"/>
<circle cx="368.0" cy="126.6" r="2.2" fill="#45367c" stroke-width="1.45"/>
<circle cx="358.1" cy="126.6" r="2.2" fill="#45367c" stroke-width="1.45"/>
<circle cx="359.2" cy="126.7" r="2.2" fill="#45367c" stroke-width="1.45"/>
<circle cx="360.7" cy="126.6" r="2.2" fill="#45367c" stroke-width="1.45"/>
<circle cx="360.5" cy="127.0" r="2.2" fill="#45367c" stroke-width="1.45"/>
<circle cx="366.9" cy="126.9" r="2.2" fill="#45367c" stroke-width="1.45"/>
<circle cx="390.6" cy="126.5" r="2.2" fill="#45367c" stroke-width="1.45"/>
<circle cx="394.4" cy="127.0" r="2.2" fill="#45367c" stroke-width="1.45"/>
<circle cx="326.0" cy="126.2" r="2.2" fill="#45367c" stroke-width="1.45"/>
<circle cx="343.1" cy="126.6" r="2.2" fill="#45367c" stroke-width="1.45"/>
<circle cx="390.7" cy="127.3" r="2.2" fill="#45367c" stroke-width="1.45"/>
<circle cx="388.3" cy="126.6" r="2.2" fill="#45367c" stroke-width="1.45"/>
<circle cx="399.0" cy="126.5" r="2.2" fill="#45367c" stroke-width="1.45"/>
<circle cx="342.8" cy="126.4" r="2.2" fill="#45367c" stroke-width="1.45"/>
<circle cx="393.4" cy="127.0" r="2.2" fill="#45367c" stroke-width="1.45"/>
<circle cx="370.6" cy="126.7" r="2.2" fill="#45367c" stroke-width="1.45"/>
<circle cx="405.4" cy="127.3" r="2.2" fill="#45367c" stroke-width="1.45"/>
<circle cx="384.9" cy="127.0" r="2.2" fill="#45367c" stroke-width="1.45"/>
<circle cx="337.9" cy="127.2" r="2.2" fill="#45367c" stroke-width="1.45"/>
<circle cx="351.6" cy="126.6" r="2.2" fill="#45367c" stroke-width="1.45"/>
<circle cx="333.5" cy="126.6" r="2.2" fill="#45367c" stroke-width="1.45"/>
<circle cx="335.6" cy="126.3" r="2.2" fill="#45367c" stroke-width="1.45"/>
<circle cx="393.2" cy="126.6" r="2.2" fill="#45367c" stroke-width="1.45"/>
<circle cx="397.9" cy="127.0" r="2.2" fill="#45367c" stroke-width="1.45"/>
<circle cx="351.2" cy="126.4" r="2.2" fill="#45367c" stroke-width="1.45"/>
<circle cx="356.9" cy="126.9" r="2.2" fill="#45367c" stroke-width="1.45"/>
<circle cx="380.2" cy="126.9" r="2.2" fill="#45367c" stroke-width="1.45"/>
<circle cx="422.3" cy="126.6" r="2.2" fill="#45367c" stroke-width="1.45"/>
<circle cx="424.0" cy="127.0" r="2.2" fill="#45367c" stroke-width="1.45"/>
<circle cx="425.5" cy="127.1" r="2.2" fill="#45367c" stroke-width="1.45"/>
<circle cx="442.0" cy="126.9" r="2.2" fill="#45367c" stroke-width="1.45"/>
<circle cx="435.9" cy="126.6" r="2.2" fill="#45367c" stroke-width="1.45"/>
<circle cx="457.2" cy="127.2" r="2.2" fill="#45367c" stroke-width="1.45"/>
<circle cx="449.8" cy="127.4" r="2.2" fill="#45367c" stroke-width="1.45"/>
<circle cx="436.5" cy="126.8" r="2.2" fill="#45367c" stroke-width="1.45"/>
<circle cx="454.8" cy="126.7" r="2.2" fill="#45367c" stroke-width="1.45"/>
<circle cx="450.1" cy="126.4" r="2.2" fill="#45367c" stroke-width="1.45"/>
<circle cx="440.7" cy="126.7" r="2.2" fill="#45367c" stroke-width="1.45"/>
<circle cx="432.0" cy="127.1" r="2.2" fill="#45367c" stroke-width="1.45"/>
<circle cx="452.4" cy="127.0" r="2.2" fill="#45367c" stroke-width="1.45"/>
<circle cx="450.8" cy="126.3" r="2.2" fill="#45367c" stroke-width="1.45"/>
<circle cx="440.8" cy="127.1" r="2.2" fill="#45367c" stroke-width="1.45"/>
<circle cx="491.7" cy="126.8" r="2.2" fill="#45367c" stroke-width="1.45"/>
<circle cx="493.5" cy="127.3" r="2.2" fill="#45367c" stroke-width="1.45"/>
<circle cx="481.7" cy="126.2" r="2.2" fill="#45367c" stroke-width="1.45"/>
<circle cx="486.9" cy="126.5" r="2.2" fill="#45367c" stroke-width="1.45"/>
<circle cx="507.4" cy="126.5" r="2.2" fill="#45367c" stroke-width="1.45"/>
<circle cx="489.7" cy="127.3" r="2.2" fill="#45367c" stroke-width="1.45"/>
<circle cx="502.0" cy="126.2" r="2.2" fill="#45367c" stroke-width="1.45"/>
<circle cx="491.5" cy="126.7" r="2.2" fill="#45367c" stroke-width="1.45"/>
<circle cx="485.8" cy="127.1" r="2.2" fill="#45367c" stroke-width="1.45"/>
<circle cx="505.1" cy="127.2" r="2.2" fill="#45367c" stroke-width="1.45"/>
<circle cx="497.6" cy="126.2" r="2.2" fill="#45367c" stroke-width="1.45"/>
<circle cx="417.4" cy="41.5" r="2.2" fill="#4c3b8a" stroke-width="1.4"/>
<circle cx="414.7" cy="40.6" r="2.2" fill="#4c3b8a" stroke-width="1.4"/>
<circle cx="412.9" cy="43.0" r="2.2" fill="#4c3b8a" stroke-width="1.4"/>
<circle cx="415.0" cy="41.4" r="2.2" fill="#4c3b8a" stroke-width="1.4"/>
<circle cx="417.0" cy="46.7" r="2.2" fill="#4c3b8a" stroke-width="1.4"/>
<circle cx="414.9" cy="45.9" r="2.2" fill="#4c3b8a" stroke-width="1.4"/>
<circle cx="417.6" cy="44.7" r="2.2" fill="#4c3b8a" stroke-width="1.4"/>
<circle cx="416.6" cy="44.3" r="2.2" fill="#4c3b8a" stroke-width="1.4"/>
<circle cx="413.6" cy="49.2" r="2.2" fill="#4c3b8a" stroke-width="1.4"/>
<circle cx="417.4" cy="48.3" r="2.2" fill="#4c3b8a" stroke-width="1.4"/>
<circle cx="414.1" cy="47.1" r="2.2" fill="#4c3b8a" stroke-width="1.4"/>
<circle cx="416.0" cy="40.3" r="2.2" fill="#4c3b8a" stroke-width="1.4"/>
<circle cx="412.4" cy="40.8" r="2.2" fill="#4c3b8a" stroke-width="1.4"/>
<circle cx="414.1" cy="43.3" r="2.2" fill="#4c3b8a" stroke-width="1.4"/>
<circle cx="412.1" cy="42.2" r="2.2" fill="#4c3b8a" stroke-width="1.4"/>
<circle cx="416.0" cy="48.4" r="2.2" fill="#4c3b8a" stroke-width="1.4"/>
<circle cx="413.3" cy="45.4" r="2.2" fill="#4c3b8a" stroke-width="1.4"/>
<circle cx="413.4" cy="42.7" r="2.2" fill="#4c3b8a" stroke-width="1.4"/>
<circle cx="421.6" cy="86.3" r="2.2" fill="#4c3b8a" stroke-width="1.4"/>
<circle cx="422.3" cy="81.2" r="2.2" fill="#4c3b8a" stroke-width="1.4"/>
<circle cx="418.6" cy="84.1" r="2.2" fill="#4c3b8a" stroke-width="1.4"/>
<circle cx="419.1" cy="86.5" r="2.2" fill="#4c3b8a" stroke-width="1.4"/>
<circle cx="422.1" cy="87.1" r="2.2" fill="#4c3b8a" stroke-width="1.4"/>
<circle cx="423.0" cy="83.6" r="2.2" fill="#4c3b8a" stroke-width="1.4"/>
<circle cx="423.9" cy="82.2" r="2.2" fill="#4c3b8a" stroke-width="1.4"/>
<circle cx="421.0" cy="88.8" r="2.2" fill="#4c3b8a" stroke-width="1.4"/>
<circle cx="421.9" cy="79.5" r="2.2" fill="#4c3b8a" stroke-width="1.4"/>
<circle cx="419.4" cy="82.6" r="2.2" fill="#4c3b8a" stroke-width="1.4"/>
<circle cx="423.5" cy="86.2" r="2.2" fill="#4c3b8a" stroke-width="1.4"/>
<circle cx="418.2" cy="92.7" r="2.2" fill="#4c3b8a" stroke-width="1.4"/>
<circle cx="421.1" cy="84.1" r="2.2" fill="#4c3b8a" stroke-width="1.4"/>
<circle cx="420.5" cy="80.8" r="2.2" fill="#4c3b8a" stroke-width="1.4"/>
<circle cx="420.2" cy="91.2" r="2.2" fill="#4c3b8a" stroke-width="1.4"/>
<circle cx="417.0" cy="90.8" r="2.2" fill="#4c3b8a" stroke-width="1.4"/>
<circle cx="420.0" cy="88.2" r="2.2" fill="#4c3b8a" stroke-width="1.4"/>
<circle cx="422.0" cy="91.7" r="2.2" fill="#4c3b8a" stroke-width="1.4"/>
<circle cx="419.2" cy="79.5" r="2.2" fill="#4c3b8a" stroke-width="1.4"/>
<circle cx="423.6" cy="92.3" r="2.2" fill="#4c3b8a" stroke-width="1.4"/>
<circle cx="424.4" cy="84.4" r="2.2" fill="#4c3b8a" stroke-width="1.4"/>
<circle cx="421.7" cy="92.5" r="2.2" fill="#4c3b8a" stroke-width="1.4"/>
<circle cx="418.1" cy="91.2" r="2.2" fill="#4c3b8a" stroke-width="1.4"/>
<circle cx="423.9" cy="88.1" r="2.2" fill="#4c3b8a" stroke-width="1.4"/>
<circle cx="416.9" cy="86.1" r="2.2" fill="#4c3b8a" stroke-width="1.4"/>
<circle cx="416.7" cy="87.4" r="2.2" fill="#4c3b8a" stroke-width="1.4"/>
<circle cx="415.6" cy="81.8" r="2.2" fill="#4c3b8a" stroke-width="1.4"/>
<circle cx="424.3" cy="91.6" r="2.2" fill="#4c3b8a" stroke-width="1.4"/>
<circle cx="418.3" cy="80.7" r="2.2" fill="#4c3b8a" stroke-width="1.4"/>
<circle cx="418.8" cy="92.7" r="2.2" fill="#4c3b8a" stroke-width="1.4"/>
<circle cx="417.7" cy="89.1" r="2.2" fill="#4c3b8a" stroke-width="1.4"/>
<circle cx="415.9" cy="80.8" r="2.2" fill="#4c3b8a" stroke-width="1.4"/>
<circle cx="417.2" cy="82.5" r="2.2" fill="#4c3b8a" stroke-width="1.4"/>
<circle cx="416.1" cy="89.3" r="2.2" fill="#4c3b8a" stroke-width="1.4"/>
<circle cx="418.1" cy="88.1" r="2.2" fill="#4c3b8a" stroke-width="1.4"/>
<circle cx="420.1" cy="89.7" r="2.2" fill="#4c3b8a" stroke-width="1.4"/>
<circle cx="416.8" cy="84.6" r="2.2" fill="#4c3b8a" stroke-width="1.4"/>
<circle cx="421.3" cy="82.1" r="2.2" fill="#4c3b8a" stroke-width="1.4"/>
<circle cx="423.8" cy="88.8" r="2.2" fill="#4c3b8a" stroke-width="1.4"/>
<circle cx="416.9" cy="67.3" r="2.3" fill="#4d3c88" stroke-width="1.35"/>
<circle cx="418.5" cy="63.6" r="2.3" fill="#4d3c88" stroke-width="1.35"/>
<circle cx="417.9" cy="61.1" r="2.3" fill="#4d3c88" stroke-width="1.35"/>
<circle cx="418.6" cy="71.4" r="2.3" fill="#4d3c88" stroke-width="1.35"/>
<circle cx="418.6" cy="69.2" r="2.3" fill="#4d3c88" stroke-width="1.35"/>
<circle cx="418.9" cy="67.7" r="2.3" fill="#4d3c88" stroke-width="1.35"/>
<circle cx="416.2" cy="63.6" r="2.3" fill="#4d3c88" stroke-width="1.35"/>
<circle cx="420.7" cy="70.0" r="2.3" fill="#4d3c88" stroke-width="1.35"/>
<circle cx="414.7" cy="67.0" r="2.3" fill="#4d3c88" stroke-width="1.35"/>
<circle cx="417.9" cy="64.8" r="2.3" fill="#4d3c88" stroke-width="1.35"/>
<circle cx="416.0" cy="65.6" r="2.3" fill="#4d3c88" stroke-width="1.35"/>
<circle cx="420.3" cy="64.9" r="2.3" fill="#4d3c88" stroke-width="1.35"/>
<circle cx="406.5" cy="31.0" r="2.2" fill="#4c3b8a" stroke-width="1.4"/>
<circle cx="408.0" cy="29.8" r="2.2" fill="#4c3b8a" stroke-width="1.4"/>
<circle cx="409.5" cy="30.2" r="2.2" fill="#4c3b8a" stroke-width="1.4"/>
<circle cx="411.5" cy="30.5" r="2.2" fill="#4c3b8a" stroke-width="1.4"/>
<circle cx="412.8" cy="33.0" r="2.2" fill="#4c3b8a" stroke-width="1.4"/>
<circle cx="413.0" cy="36.0" r="2.2" fill="#4c3b8a" stroke-width="1.4"/>
<circle cx="412.5" cy="38.3" r="2.2" fill="#4c3b8a" stroke-width="1.4"/>
<circle cx="408.2" cy="35.5" r="2.2" fill="#4c3b8a" stroke-width="1.4"/>
<circle cx="407.0" cy="33.5" r="2.2" fill="#4c3b8a" stroke-width="1.4"/>
<circle cx="408.5" cy="38.5" r="2.2" fill="#4c3b8a" stroke-width="1.4"/>
<circle cx="410.8" cy="39.5" r="2.2" fill="#4c3b8a" stroke-width="1.4"/>
<circle cx="403.5" cy="36.2" r="2.2" fill="#5f4b9f" stroke-width="1.4"/>
<circle cx="405.5" cy="37.0" r="2.2" fill="#5f4b9f" stroke-width="1.4"/>
<circle cx="406.5" cy="49.0" r="2.2" fill="#2e2450" stroke-width="1.4"/>
<circle cx="407.8" cy="53.0" r="2.2" fill="#2e2450" stroke-width="1.4"/>
<circle cx="403.8" cy="55.0" r="2.2" fill="#2e2450" stroke-width="1.4"/>
<circle cx="407.5" cy="56.5" r="2.2" fill="#2e2450" stroke-width="1.4"/>
<circle cx="407.8" cy="60.5" r="2.2" fill="#2e2450" stroke-width="1.4"/>
<circle cx="403.5" cy="62.0" r="2.2" fill="#2e2450" stroke-width="1.4"/>
<circle cx="407.5" cy="65.5" r="2.2" fill="#2e2450" stroke-width="1.4"/>
<circle cx="406.5" cy="68.5" r="2.2" fill="#2e2450" stroke-width="1.4"/>
<circle cx="403.5" cy="69.0" r="2.2" fill="#2e2450" stroke-width="1.4"/>
<circle cx="406.0" cy="73.5" r="2.2" fill="#2e2450" stroke-width="1.4"/>
<circle cx="403.8" cy="78.5" r="2.2" fill="#2e2450" stroke-width="1.4"/>
<circle cx="407.2" cy="75.5" r="2.2" fill="#2e2450" stroke-width="1.4"/>
<circle cx="405.5" cy="45.5" r="2.2" fill="#2e2450" stroke-width="1.4"/>
<circle cx="407.5" cy="70.9" r="2.2" fill="#5f4b9f" stroke-width="1.4"/>
<circle cx="408.6" cy="78.2" r="2.2" fill="#5f4b9f" stroke-width="1.4"/>
<circle cx="422.7" cy="73.0" r="2.3" fill="#4d3c88" stroke-width="1.35"/>
<circle cx="408.6" cy="78.9" r="2.3" fill="#4d3c88" stroke-width="1.35"/>
<circle cx="410.9" cy="99.2" r="2.3" fill="#4d3c88" stroke-width="1.35"/>
<circle cx="410.8" cy="99.3" r="2.3" fill="#4d3c88" stroke-width="1.35"/>
<circle cx="412.9" cy="103.0" r="2.3" fill="#4d3c88" stroke-width="1.35"/>
<circle cx="417.2" cy="104.2" r="2.3" fill="#4d3c88" stroke-width="1.35"/>
<circle cx="413.5" cy="109.2" r="2.3" fill="#4d3c88" stroke-width="1.35"/>
<circle cx="411.7" cy="107.9" r="2.3" fill="#4d3c88" stroke-width="1.35"/>
<circle cx="415.4" cy="109.8" r="2.3" fill="#4d3c88" stroke-width="1.35"/>
<circle cx="414.5" cy="107.0" r="2.3" fill="#4d3c88" stroke-width="1.35"/>
<circle cx="409.2" cy="120.2" r="2.3" fill="#4d3c88" stroke-width="1.35"/>
<circle cx="411.5" cy="122.0" r="2.3" fill="#4d3c88" stroke-width="1.35"/>
<circle cx="420.3" cy="122.1" r="2.3" fill="#4d3c88" stroke-width="1.35"/>
<circle cx="419.7" cy="125.2" r="2.3" fill="#4d3c88" stroke-width="1.35"/>
<circle cx="425.8" cy="116.5" r="2.3" fill="#4d3c88" stroke-width="1.35"/>
<circle cx="425.8" cy="119.6" r="2.3" fill="#4d3c88" stroke-width="1.35"/>
<circle cx="425.2" cy="123.3" r="2.3" fill="#4d3c88" stroke-width="1.35"/>
<circle cx="428.3" cy="127.0" r="2.3" fill="#4d3c88" stroke-width="1.35"/>
<circle cx="403.4" cy="105.5" r="2.3" fill="#4d3c88" stroke-width="1.35"/>
<circle cx="402.8" cy="110.4" r="2.3" fill="#4d3c88" stroke-width="1.35"/>
<circle cx="404.6" cy="117.8" r="2.3" fill="#4d3c88" stroke-width="1.35"/>
<circle cx="407.1" cy="121.5" r="2.3" fill="#4d3c88" stroke-width="1.35"/>
<circle cx="374.5" cy="113.5" r="2.3" fill="#4d3c88" stroke-width="1.35"/>
<circle cx="441.0" cy="107.3" r="2.3" fill="#4d3c88" stroke-width="1.35"/>
<circle cx="443.7" cy="110.4" r="2.3" fill="#4d3c88" stroke-width="1.35"/>
<circle cx="483.5" cy="120.8" r="2.3" fill="#4d3c88" stroke-width="1.35"/>
<circle cx="492.0" cy="120.3" r="2.3" fill="#4d3c88" stroke-width="1.35"/>
<circle cx="500.8" cy="120.8" r="2.3" fill="#4d3c88" stroke-width="1.35"/>
<circle cx="509.4" cy="119.5" r="2.3" fill="#4d3c88" stroke-width="1.35"/>
<circle cx="426.0" cy="112.8" r="2.3" fill="#4d3c88" stroke-width="1.35"/>
<circle cx="441.5" cy="104.5" r="2.3" fill="#4d3c88" stroke-width="1.35"/>
<circle cx="410.9" cy="32.0" r="2.3" fill="#f5a331"/>
<circle cx="410.0" cy="37.5" r="2.3" fill="#f5a331"/>
<circle cx="407.2" cy="45.4" r="2.3" fill="#f5a331"/>
<circle cx="410.4" cy="7.4" r="2.3" fill="#a2d3ec"/>
<circle cx="404.5" cy="47.7" r="2.3" fill="#a2d3ec"/>
<circle cx="404.4" cy="50.5" r="2.3" fill="#a2d3ec"/>
<circle cx="411.7" cy="51.0" r="2.3" fill="#a2d3ec"/>
<circle cx="412.2" cy="54.7" r="2.3" fill="#a2d3ec"/>
<circle cx="406.5" cy="57.3" r="2.3" fill="#a2d3ec"/>
<circle cx="402.8" cy="59.4" r="2.3" fill="#a2d3ec"/>
<circle cx="405.9" cy="63.6" r="2.3" fill="#a2d3ec"/>
<circle cx="403.8" cy="66.2" r="2.3" fill="#a2d3ec"/>
<circle cx="403.8" cy="71.4" r="2.3" fill="#a2d3ec"/>
<circle cx="404.4" cy="73.5" r="2.3" fill="#a2d3ec"/>
<circle cx="405.4" cy="76.2" r="2.3" fill="#a2d3ec"/>
<circle cx="404.9" cy="75.7" r="2.3" fill="#a2d3ec"/>
<circle cx="423.4" cy="54.2" r="2.3" fill="#a2d3ec"/>
<circle cx="421.1" cy="58.9" r="2.3" fill="#a2d3ec"/>
<circle cx="424.0" cy="67.3" r="2.3" fill="#a2d3ec"/>
<circle cx="427.5" cy="84.0" r="2.3" fill="#a2d3ec"/>
<circle cx="426.2" cy="88.6" r="2.3" fill="#a2d3ec"/>
<circle cx="426.2" cy="92.3" r="2.3" fill="#a2d3ec"/>
<circle cx="425.2" cy="96.5" r="2.3" fill="#a2d3ec"/>
<circle cx="425.2" cy="96.8" r="2.3" fill="#a2d3ec"/>
<circle cx="312.4" cy="279.9" r="2.3" fill="#4d3c88" stroke-width="1.35"/>
<circle cx="310.3" cy="287.2" r="2.3" fill="#4d3c88" stroke-width="1.35"/>
<circle cx="312.3" cy="283.5" r="2.3" fill="#4d3c88" stroke-width="1.35"/>
<circle cx="312.3" cy="274.4" r="2.3" fill="#4d3c88" stroke-width="1.35"/>
<circle cx="312.6" cy="285.3" r="2.3" fill="#4d3c88" stroke-width="1.35"/>
<circle cx="311.5" cy="284.5" r="2.3" fill="#4d3c88" stroke-width="1.35"/>
<circle cx="310.3" cy="278.5" r="2.3" fill="#4d3c88" stroke-width="1.35"/>
<circle cx="309.9" cy="279.7" r="2.3" fill="#4d3c88" stroke-width="1.35"/>
<circle cx="313.0" cy="291.0" r="2.3" fill="#4d3c88" stroke-width="1.35"/>
<circle cx="312.6" cy="281.7" r="2.3" fill="#4d3c88" stroke-width="1.35"/>
<circle cx="312.5" cy="292.5" r="2.3" fill="#4d3c88" stroke-width="1.35"/>
<circle cx="311.8" cy="277.6" r="2.3" fill="#4d3c88" stroke-width="1.35"/>
<circle cx="320.5" cy="282.6" r="2.3" fill="#4d3c88" stroke-width="1.35"/>
<circle cx="365.1" cy="267.8" r="2.3" fill="#4d3c88" stroke-width="1.35"/>
<circle cx="363.9" cy="283.5" r="2.3" fill="#4d3c88" stroke-width="1.35"/>
<circle cx="358.9" cy="277.2" r="2.3" fill="#4d3c88" stroke-width="1.35"/>
<circle cx="341.7" cy="283.2" r="2.3" fill="#4d3c88" stroke-width="1.35"/>
<circle cx="320.9" cy="292.2" r="2.3" fill="#4d3c88" stroke-width="1.35"/>
<circle cx="361.0" cy="281.8" r="2.3" fill="#4d3c88" stroke-width="1.35"/>
<circle cx="356.8" cy="274.4" r="2.3" fill="#4d3c88" stroke-width="1.35"/>
<circle cx="383.4" cy="284.4" r="2.3" fill="#4d3c88" stroke-width="1.35"/>
<circle cx="372.6" cy="292.2" r="2.3" fill="#4d3c88" stroke-width="1.35"/>
<circle cx="322.6" cy="276.1" r="2.3" fill="#4d3c88" stroke-width="1.35"/>
<circle cx="365.4" cy="287.9" r="2.3" fill="#4d3c88" stroke-width="1.35"/>
<circle cx="368.4" cy="289.0" r="2.3" fill="#4d3c88" stroke-width="1.35"/>
<circle cx="366.9" cy="275.7" r="2.3" fill="#4d3c88" stroke-width="1.35"/>
<circle cx="330.3" cy="287.7" r="2.3" fill="#4d3c88" stroke-width="1.35"/>
<circle cx="363.3" cy="283.2" r="2.3" fill="#4d3c88" stroke-width="1.35"/>
<circle cx="371.1" cy="280.8" r="2.3" fill="#4d3c88" stroke-width="1.35"/>
<circle cx="321.4" cy="285.2" r="2.3" fill="#4d3c88" stroke-width="1.35"/>
<circle cx="360.3" cy="279.6" r="2.3" fill="#4d3c88" stroke-width="1.35"/>
<circle cx="391.8" cy="288.6" r="2.3" fill="#4d3c88" stroke-width="1.35"/>
<circle cx="365.1" cy="280.9" r="2.3" fill="#4d3c88" stroke-width="1.35"/>
<circle cx="392.5" cy="287.6" r="2.3" fill="#4d3c88" stroke-width="1.35"/>
<circle cx="351.0" cy="286.7" r="2.3" fill="#4d3c88" stroke-width="1.35"/>
<circle cx="381.4" cy="292.2" r="2.3" fill="#4d3c88" stroke-width="1.35"/>
<circle cx="379.9" cy="280.9" r="2.3" fill="#4d3c88" stroke-width="1.35"/>
<circle cx="367.6" cy="289.6" r="2.3" fill="#4d3c88" stroke-width="1.35"/>
<circle cx="374.6" cy="275.6" r="2.3" fill="#4d3c88" stroke-width="1.35"/>
<circle cx="356.4" cy="278.4" r="2.3" fill="#4d3c88" stroke-width="1.35"/>
<circle cx="371.3" cy="272.6" r="2.3" fill="#4d3c88" stroke-width="1.35"/>
<circle cx="384.0" cy="288.6" r="2.3" fill="#4d3c88" stroke-width="1.35"/>
<circle cx="395.4" cy="280.2" r="2.3" fill="#4d3c88" stroke-width="1.35"/>
<circle cx="388.3" cy="282.9" r="2.3" fill="#4d3c88" stroke-width="1.35"/>
<circle cx="366.7" cy="272.7" r="2.3" fill="#4d3c88" stroke-width="1.35"/>
<circle cx="390.3" cy="281.1" r="2.3" fill="#4d3c88" stroke-width="1.35"/>
<circle cx="380.9" cy="277.4" r="2.3" fill="#4d3c88" stroke-width="1.35"/>
<circle cx="377.9" cy="288.1" r="2.3" fill="#4d3c88" stroke-width="1.35"/>
<circle cx="386.3" cy="280.3" r="2.3" fill="#4d3c88" stroke-width="1.35"/>
<circle cx="371.3" cy="272.0" r="2.3" fill="#4d3c88" stroke-width="1.35"/>
<circle cx="319.7" cy="287.3" r="2.3" fill="#4d3c88" stroke-width="1.35"/>
<circle cx="365.9" cy="279.3" r="2.3" fill="#4d3c88" stroke-width="1.35"/>
<circle cx="367.0" cy="270.3" r="2.3" fill="#4d3c88" stroke-width="1.35"/>
<circle cx="355.3" cy="286.2" r="2.3" fill="#4d3c88" stroke-width="1.35"/>
<circle cx="357.2" cy="292.9" r="2.3" fill="#4d3c88" stroke-width="1.35"/>
<circle cx="336.0" cy="284.7" r="2.3" fill="#4d3c88" stroke-width="1.35"/>
<circle cx="396.6" cy="287.3" r="2.3" fill="#4d3c88" stroke-width="1.35"/>
<circle cx="325.3" cy="274.8" r="2.3" fill="#4d3c88" stroke-width="1.35"/>
<circle cx="370.6" cy="275.9" r="2.3" fill="#4d3c88" stroke-width="1.35"/>
<circle cx="347.4" cy="287.5" r="2.3" fill="#4d3c88" stroke-width="1.35"/>
<circle cx="373.9" cy="291.2" r="2.3" fill="#4d3c88" stroke-width="1.35"/>
<circle cx="364.6" cy="270.0" r="2.3" fill="#4d3c88" stroke-width="1.35"/>
<circle cx="396.8" cy="282.4" r="2.3" fill="#4d3c88" stroke-width="1.35"/>
<circle cx="385.1" cy="281.5" r="2.3" fill="#4d3c88" stroke-width="1.35"/>
<circle cx="393.9" cy="284.0" r="2.3" fill="#4d3c88" stroke-width="1.35"/>
<circle cx="395.4" cy="278.7" r="2.3" fill="#4d3c88" stroke-width="1.35"/>
<circle cx="353.1" cy="279.1" r="2.3" fill="#4d3c88" stroke-width="1.35"/>
<circle cx="364.7" cy="278.4" r="2.3" fill="#4d3c88" stroke-width="1.35"/>
<circle cx="324.2" cy="292.9" r="2.3" fill="#4d3c88" stroke-width="1.35"/>
<circle cx="349.8" cy="278.7" r="2.3" fill="#4d3c88" stroke-width="1.35"/>
<circle cx="343.4" cy="292.3" r="2.3" fill="#4d3c88" stroke-width="1.35"/>
<circle cx="384.1" cy="291.2" r="2.3" fill="#4d3c88" stroke-width="1.35"/>
<circle cx="381.6" cy="285.0" r="2.3" fill="#4d3c88" stroke-width="1.35"/>
<circle cx="362.3" cy="283.9" r="2.3" fill="#4d3c88" stroke-width="1.35"/>
<circle cx="338.9" cy="286.8" r="2.3" fill="#4d3c88" stroke-width="1.35"/>
<circle cx="364.1" cy="272.1" r="2.3" fill="#4d3c88" stroke-width="1.35"/>
<circle cx="374.3" cy="292.0" r="2.3" fill="#4d3c88" stroke-width="1.35"/>
<circle cx="367.3" cy="281.1" r="2.3" fill="#4d3c88" stroke-width="1.35"/>
<circle cx="377.0" cy="275.2" r="2.3" fill="#4d3c88" stroke-width="1.35"/>
<circle cx="387.2" cy="290.7" r="2.3" fill="#4d3c88" stroke-width="1.35"/>
<circle cx="356.7" cy="289.2" r="2.3" fill="#4d3c88" stroke-width="1.35"/>
<circle cx="357.3" cy="291.3" r="2.3" fill="#4d3c88" stroke-width="1.35"/>
<circle cx="380.3" cy="289.8" r="2.3" fill="#4d3c88" stroke-width="1.35"/>
<circle cx="395.5" cy="289.6" r="2.3" fill="#4d3c88" stroke-width="1.35"/>
<circle cx="346.0" cy="288.2" r="2.3" fill="#4d3c88" stroke-width="1.35"/>
<circle cx="328.3" cy="290.8" r="2.3" fill="#4d3c88" stroke-width="1.35"/>
<circle cx="362.1" cy="279.9" r="2.3" fill="#4d3c88" stroke-width="1.35"/>
<circle cx="373.0" cy="274.3" r="2.3" fill="#4d3c88" stroke-width="1.35"/>
<circle cx="334.4" cy="291.8" r="2.3" fill="#4d3c88" stroke-width="1.35"/>
<circle cx="332.4" cy="292.3" r="2.3" fill="#4d3c88" stroke-width="1.35"/>
<circle cx="369.7" cy="291.1" r="2.3" fill="#4d3c88" stroke-width="1.35"/>
<circle cx="326.8" cy="277.6" r="2.3" fill="#4d3c88" stroke-width="1.35"/>
<circle cx="334.9" cy="288.2" r="2.3" fill="#4d3c88" stroke-width="1.35"/>
<circle cx="342.8" cy="289.9" r="2.3" fill="#4d3c88" stroke-width="1.35"/>
<circle cx="378.4" cy="287.7" r="2.3" fill="#4d3c88" stroke-width="1.35"/>
<circle cx="367.4" cy="268.6" r="2.3" fill="#4d3c88" stroke-width="1.35"/>
<circle cx="382.6" cy="280.1" r="2.3" fill="#4d3c88" stroke-width="1.35"/>
<circle cx="326.6" cy="288.9" r="2.3" fill="#4d3c88" stroke-width="1.35"/>
<circle cx="381.0" cy="282.1" r="2.3" fill="#4d3c88" stroke-width="1.35"/>
<circle cx="367.4" cy="285.5" r="2.3" fill="#4d3c88" stroke-width="1.35"/>
<circle cx="364.0" cy="274.0" r="2.3" fill="#4d3c88" stroke-width="1.35"/>
<circle cx="320.1" cy="290.3" r="2.3" fill="#4d3c88" stroke-width="1.35"/>
<circle cx="394.0" cy="290.3" r="2.3" fill="#4d3c88" stroke-width="1.35"/>
<circle cx="326.0" cy="292.7" r="2.3" fill="#4d3c88" stroke-width="1.35"/>
<circle cx="355.0" cy="284.7" r="2.3" fill="#4d3c88" stroke-width="1.35"/>
<circle cx="335.4" cy="292.3" r="2.3" fill="#4d3c88" stroke-width="1.35"/>
<circle cx="326.4" cy="279.7" r="2.3" fill="#4d3c88" stroke-width="1.35"/>
<circle cx="354.3" cy="282.7" r="2.3" fill="#4d3c88" stroke-width="1.35"/>
<circle cx="353.0" cy="288.3" r="2.3" fill="#4d3c88" stroke-width="1.35"/>
<circle cx="372.2" cy="274.6" r="2.3" fill="#4d3c88" stroke-width="1.35"/>
<circle cx="380.5" cy="276.7" r="2.3" fill="#4d3c88" stroke-width="1.35"/>
<circle cx="397.8" cy="290.4" r="2.3" fill="#4d3c88" stroke-width="1.35"/>
<circle cx="348.4" cy="280.7" r="2.3" fill="#4d3c88" stroke-width="1.35"/>
<circle cx="359.6" cy="292.7" r="2.3" fill="#4d3c88" stroke-width="1.35"/>
<circle cx="322.4" cy="277.6" r="2.3" fill="#4d3c88" stroke-width="1.35"/>
<circle cx="349.9" cy="291.5" r="2.3" fill="#4d3c88" stroke-width="1.35"/>
<circle cx="369.8" cy="286.2" r="2.3" fill="#4d3c88" stroke-width="1.35"/>
<circle cx="376.4" cy="274.3" r="2.3" fill="#4d3c88" stroke-width="1.35"/>
<circle cx="371.2" cy="283.6" r="2.3" fill="#4d3c88" stroke-width="1.35"/>
<circle cx="381.7" cy="288.4" r="2.3" fill="#4d3c88" stroke-width="1.35"/>
<circle cx="368.7" cy="292.6" r="2.3" fill="#4d3c88" stroke-width="1.35"/>
<circle cx="383.3" cy="287.3" r="2.3" fill="#4d3c88" stroke-width="1.35"/>
<circle cx="387.0" cy="287.8" r="2.3" fill="#4d3c88" stroke-width="1.35"/>
<circle cx="354.7" cy="276.5" r="2.3" fill="#4d3c88" stroke-width="1.35"/>
<circle cx="368.6" cy="291.2" r="2.3" fill="#4d3c88" stroke-width="1.35"/>
<circle cx="352.5" cy="287.5" r="2.3" fill="#4d3c88" stroke-width="1.35"/>
<circle cx="363.0" cy="275.0" r="2.3" fill="#4d3c88" stroke-width="1.35"/>
<circle cx="326.5" cy="283.9" r="2.3" fill="#4d3c88" stroke-width="1.35"/>
<circle cx="323.1" cy="286.1" r="2.3" fill="#4d3c88" stroke-width="1.35"/>
<circle cx="346.3" cy="284.9" r="2.3" fill="#4d3c88" stroke-width="1.35"/>
<circle cx="350.9" cy="283.3" r="2.3" fill="#4d3c88" stroke-width="1.35"/>
<circle cx="356.1" cy="274.6" r="2.3" fill="#4d3c88" stroke-width="1.35"/>
<circle cx="338.2" cy="281.9" r="2.3" fill="#4d3c88" stroke-width="1.35"/>
<circle cx="359.5" cy="272.4" r="2.3" fill="#4d3c88" stroke-width="1.35"/>
<circle cx="354.6" cy="287.9" r="2.3" fill="#4d3c88" stroke-width="1.35"/>
<circle cx="372.3" cy="287.0" r="2.3" fill="#4d3c88" stroke-width="1.35"/>
<circle cx="362.6" cy="267.7" r="2.3" fill="#4d3c88" stroke-width="1.35"/>
<circle cx="343.6" cy="288.8" r="2.3" fill="#4d3c88" stroke-width="1.35"/>
<circle cx="323.6" cy="271.1" r="2.3" fill="#4d3c88" stroke-width="1.35"/>
<circle cx="322.8" cy="272.2" r="2.3" fill="#4d3c88" stroke-width="1.35"/>
<circle cx="357.2" cy="280.9" r="2.3" fill="#4d3c88" stroke-width="1.35"/>
<circle cx="349.3" cy="291.5" r="2.3" fill="#4d3c88" stroke-width="1.35"/>
<circle cx="361.0" cy="270.0" r="2.3" fill="#4d3c88" stroke-width="1.35"/>
<circle cx="389.2" cy="285.0" r="2.3" fill="#4d3c88" stroke-width="1.35"/>
<circle cx="361.7" cy="272.2" r="2.3" fill="#4d3c88" stroke-width="1.35"/>
<circle cx="363.6" cy="286.8" r="2.3" fill="#4d3c88" stroke-width="1.35"/>
<circle cx="324.2" cy="273.8" r="2.3" fill="#4d3c88" stroke-width="1.35"/>
<circle cx="357.9" cy="287.5" r="2.3" fill="#4d3c88" stroke-width="1.35"/>
<circle cx="340.8" cy="290.8" r="2.3" fill="#4d3c88" stroke-width="1.35"/>
<circle cx="377.2" cy="280.9" r="2.3" fill="#4d3c88" stroke-width="1.35"/>
<circle cx="324.8" cy="285.6" r="2.3" fill="#4d3c88" stroke-width="1.35"/>
<circle cx="362.8" cy="278.5" r="2.3" fill="#4d3c88" stroke-width="1.35"/>
<circle cx="342.9" cy="279.8" r="2.3" fill="#4d3c88" stroke-width="1.35"/>
<circle cx="368.5" cy="276.7" r="2.3" fill="#4d3c88" stroke-width="1.35"/>
<circle cx="390.9" cy="284.9" r="2.3" fill="#4d3c88" stroke-width="1.35"/>
<circle cx="369.2" cy="280.8" r="2.3" fill="#4d3c88" stroke-width="1.35"/>
<circle cx="336.9" cy="292.6" r="2.3" fill="#4d3c88" stroke-width="1.35"/>
<circle cx="330.1" cy="291.1" r="2.3" fill="#4d3c88" stroke-width="1.35"/>
<circle cx="365.5" cy="283.0" r="2.3" fill="#4d3c88" stroke-width="1.35"/>
<circle cx="320.2" cy="276.9" r="2.3" fill="#4d3c88" stroke-width="1.35"/>
<circle cx="364.3" cy="268.9" r="2.3" fill="#4d3c88" stroke-width="1.35"/>
<circle cx="350.1" cy="283.4" r="2.3" fill="#4d3c88" stroke-width="1.35"/>
<circle cx="347.5" cy="278.4" r="2.3" fill="#4d3c88" stroke-width="1.35"/>
<circle cx="385.0" cy="280.8" r="2.3" fill="#4d3c88" stroke-width="1.35"/>
<circle cx="378.0" cy="291.7" r="2.3" fill="#4d3c88" stroke-width="1.35"/>
<circle cx="324.6" cy="282.3" r="2.3" fill="#4d3c88" stroke-width="1.35"/>
<circle cx="343.9" cy="281.1" r="2.3" fill="#4d3c88" stroke-width="1.35"/>
<circle cx="349.0" cy="289.6" r="2.3" fill="#4d3c88" stroke-width="1.35"/>
<circle cx="336.7" cy="286.5" r="2.3" fill="#4d3c88" stroke-width="1.35"/>
<circle cx="396.1" cy="280.0" r="2.3" fill="#4d3c88" stroke-width="1.35"/>
<circle cx="325.6" cy="283.4" r="2.3" fill="#4d3c88" stroke-width="1.35"/>
<circle cx="340.1" cy="292.5" r="2.3" fill="#4d3c88" stroke-width="1.35"/>
<circle cx="396.8" cy="287.7" r="2.3" fill="#4d3c88" stroke-width="1.35"/>
<circle cx="374.9" cy="290.5" r="2.3" fill="#4d3c88" stroke-width="1.35"/>
<circle cx="383.6" cy="282.3" r="2.3" fill="#4d3c88" stroke-width="1.35"/>
<circle cx="359.8" cy="287.3" r="2.3" fill="#4d3c88" stroke-width="1.35"/>
<circle cx="373.4" cy="282.4" r="2.3" fill="#4d3c88" stroke-width="1.35"/>
<circle cx="372.9" cy="289.2" r="2.3" fill="#4d3c88" stroke-width="1.35"/>
<circle cx="367.6" cy="285.1" r="2.3" fill="#4d3c88" stroke-width="1.35"/>
<circle cx="358.0" cy="271.6" r="2.3" fill="#4d3c88" stroke-width="1.35"/>
<circle cx="326.4" cy="276.4" r="2.3" fill="#4d3c88" stroke-width="1.35"/>
<circle cx="355.1" cy="279.3" r="2.3" fill="#4d3c88" stroke-width="1.35"/>
<circle cx="376.3" cy="277.9" r="2.3" fill="#4d3c88" stroke-width="1.35"/>
<circle cx="375.8" cy="285.5" r="2.3" fill="#4d3c88" stroke-width="1.35"/>
<circle cx="378.4" cy="278.1" r="2.3" fill="#4d3c88" stroke-width="1.35"/>
<circle cx="359.5" cy="274.8" r="2.3" fill="#4d3c88" stroke-width="1.35"/>
<circle cx="345.7" cy="290.7" r="2.3" fill="#4d3c88" stroke-width="1.35"/>
<circle cx="356.2" cy="285.2" r="2.3" fill="#4d3c88" stroke-width="1.35"/>
<circle cx="364.0" cy="292.8" r="2.3" fill="#4d3c88" stroke-width="1.35"/>
<circle cx="366.5" cy="291.7" r="2.3" fill="#4d3c88" stroke-width="1.35"/>
<circle cx="345.9" cy="282.3" r="2.3" fill="#4d3c88" stroke-width="1.35"/>
<circle cx="391.3" cy="290.7" r="2.3" fill="#4d3c88" stroke-width="1.35"/>
<circle cx="359.2" cy="287.9" r="2.3" fill="#4d3c88" stroke-width="1.35"/>
<circle cx="364.4" cy="276.3" r="2.3" fill="#4d3c88" stroke-width="1.35"/>
<circle cx="371.1" cy="281.2" r="2.3" fill="#4d3c88" stroke-width="1.35"/>
<circle cx="376.4" cy="282.2" r="2.3" fill="#4d3c88" stroke-width="1.35"/>
<circle cx="386.6" cy="284.4" r="2.3" fill="#4d3c88" stroke-width="1.35"/>
<circle cx="370.4" cy="277.6" r="2.3" fill="#4d3c88" stroke-width="1.35"/>
<circle cx="367.5" cy="274.0" r="2.3" fill="#4d3c88" stroke-width="1.35"/>
<circle cx="390.1" cy="282.6" r="2.3" fill="#4d3c88" stroke-width="1.35"/>
<circle cx="322.9" cy="281.1" r="2.3" fill="#4d3c88" stroke-width="1.35"/>
<circle cx="389.6" cy="288.6" r="2.3" fill="#4d3c88" stroke-width="1.35"/>
<circle cx="340.1" cy="283.7" r="2.3" fill="#4d3c88" stroke-width="1.35"/>
<circle cx="363.3" cy="291.1" r="2.3" fill="#4d3c88" stroke-width="1.35"/>
<circle cx="381.3" cy="286.8" r="2.3" fill="#4d3c88" stroke-width="1.35"/>
<circle cx="341.0" cy="288.1" r="2.3" fill="#4d3c88" stroke-width="1.35"/>
<circle cx="375.3" cy="288.1" r="2.3" fill="#4d3c88" stroke-width="1.35"/>
<circle cx="338.1" cy="289.8" r="2.3" fill="#4d3c88" stroke-width="1.35"/>
<circle cx="323.9" cy="283.0" r="2.3" fill="#4d3c88" stroke-width="1.35"/>
<circle cx="345.5" cy="284.5" r="2.3" fill="#4d3c88" stroke-width="1.35"/>
<circle cx="397.3" cy="282.2" r="2.3" fill="#4d3c88" stroke-width="1.35"/>
<circle cx="359.1" cy="269.8" r="2.3" fill="#4d3c88" stroke-width="1.35"/>
<circle cx="392.5" cy="279.9" r="2.3" fill="#4d3c88" stroke-width="1.35"/>
<circle cx="398.2" cy="286.1" r="2.3" fill="#4d3c88" stroke-width="1.35"/>
<circle cx="374.0" cy="278.1" r="2.3" fill="#4d3c88" stroke-width="1.35"/>
<circle cx="341.7" cy="285.4" r="2.3" fill="#4d3c88" stroke-width="1.35"/>
<circle cx="396.8" cy="291.6" r="2.3" fill="#4d3c88" stroke-width="1.35"/>
<circle cx="366.1" cy="287.0" r="2.3" fill="#4d3c88" stroke-width="1.35"/>
<circle cx="369.6" cy="272.2" r="2.3" fill="#4d3c88" stroke-width="1.35"/>
<circle cx="362.4" cy="289.5" r="2.3" fill="#4d3c88" stroke-width="1.35"/>
<circle cx="336.5" cy="287.6" r="2.3" fill="#4d3c88" stroke-width="1.35"/>
<circle cx="396.3" cy="292.2" r="2.3" fill="#4d3c88" stroke-width="1.35"/>
<circle cx="335.5" cy="289.8" r="2.3" fill="#4d3c88" stroke-width="1.35"/>
<circle cx="322.6" cy="287.8" r="2.3" fill="#4d3c88" stroke-width="1.35"/>
<circle cx="355.3" cy="291.5" r="2.3" fill="#4d3c88" stroke-width="1.35"/>
<circle cx="376.9" cy="284.6" r="2.3" fill="#4d3c88" stroke-width="1.35"/>
<circle cx="348.1" cy="281.1" r="2.3" fill="#4d3c88" stroke-width="1.35"/>
<circle cx="378.7" cy="282.5" r="2.3" fill="#4d3c88" stroke-width="1.35"/>
<circle cx="325.3" cy="280.1" r="2.3" fill="#4d3c88" stroke-width="1.35"/>
<circle cx="377.3" cy="286.6" r="2.3" fill="#4d3c88" stroke-width="1.35"/>
<circle cx="347.5" cy="280.1" r="2.3" fill="#4d3c88" stroke-width="1.35"/>
<circle cx="331.1" cy="289.3" r="2.3" fill="#4d3c88" stroke-width="1.35"/>
<circle cx="360.7" cy="290.3" r="2.3" fill="#4d3c88" stroke-width="1.35"/>
<circle cx="352.2" cy="278.4" r="2.3" fill="#4d3c88" stroke-width="1.35"/>
<circle cx="357.4" cy="282.2" r="2.3" fill="#4d3c88" stroke-width="1.35"/>
<circle cx="328.2" cy="285.8" r="2.3" fill="#4d3c88" stroke-width="1.35"/>
<circle cx="343.7" cy="279.1" r="2.3" fill="#4d3c88" stroke-width="1.35"/>
<circle cx="346.2" cy="286.3" r="2.3" fill="#4d3c88" stroke-width="1.35"/>
<circle cx="361.0" cy="274.2" r="2.3" fill="#4d3c88" stroke-width="1.35"/>
<circle cx="393.8" cy="282.5" r="2.3" fill="#4d3c88" stroke-width="1.35"/>
<circle cx="361.3" cy="278.6" r="2.3" fill="#4d3c88" stroke-width="1.35"/>
<circle cx="396.1" cy="283.6" r="2.3" fill="#4d3c88" stroke-width="1.35"/>
<circle cx="375.5" cy="284.7" r="2.3" fill="#4d3c88" stroke-width="1.35"/>
<circle cx="386.1" cy="291.3" r="2.3" fill="#4d3c88" stroke-width="1.35"/>
<circle cx="350.7" cy="282.1" r="2.3" fill="#4d3c88" stroke-width="1.35"/>
<circle cx="323.1" cy="290.2" r="2.3" fill="#4d3c88" stroke-width="1.35"/>
<circle cx="323.8" cy="288.3" r="2.3" fill="#4d3c88" stroke-width="1.35"/>
<circle cx="343.8" cy="287.4" r="2.3" fill="#4d3c88" stroke-width="1.35"/>
<circle cx="387.5" cy="292.1" r="2.3" fill="#4d3c88" stroke-width="1.35"/>
<circle cx="389.1" cy="285.9" r="2.3" fill="#4d3c88" stroke-width="1.35"/>
<circle cx="360.2" cy="283.3" r="2.3" fill="#4d3c88" stroke-width="1.35"/>
<circle cx="337.0" cy="280.6" r="2.3" fill="#4d3c88" stroke-width="1.35"/>
<circle cx="319.9" cy="283.4" r="2.3" fill="#4d3c88" stroke-width="1.35"/>
<circle cx="349.7" cy="276.6" r="2.3" fill="#4d3c88" stroke-width="1.35"/>
<circle cx="341.1" cy="285.9" r="2.3" fill="#4d3c88" stroke-width="1.35"/>
<circle cx="368.4" cy="284.1" r="2.3" fill="#4d3c88" stroke-width="1.35"/>
<circle cx="339.5" cy="289.4" r="2.3" fill="#4d3c88" stroke-width="1.35"/>
<circle cx="386.7" cy="286.4" r="2.3" fill="#4d3c88" stroke-width="1.35"/>
<circle cx="390.5" cy="286.9" r="2.3" fill="#4d3c88" stroke-width="1.35"/>
<circle cx="325.4" cy="289.8" r="2.3" fill="#4d3c88" stroke-width="1.35"/>
<circle cx="375.5" cy="279.9" r="2.3" fill="#4d3c88" stroke-width="1.35"/>
<circle cx="353.5" cy="289.9" r="2.3" fill="#4d3c88" stroke-width="1.35"/>
<circle cx="356.6" cy="281.2" r="2.3" fill="#4d3c88" stroke-width="1.35"/>
<circle cx="380.1" cy="284.9" r="2.3" fill="#4d3c88" stroke-width="1.35"/>
<circle cx="359.1" cy="272.6" r="2.3" fill="#4d3c88" stroke-width="1.35"/>
<circle cx="458.2" cy="268.4" r="2.3" fill="#4d3c88" stroke-width="1.35"/>
<circle cx="447.2" cy="281.2" r="2.3" fill="#4d3c88" stroke-width="1.35"/>
<circle cx="409.8" cy="276.4" r="2.3" fill="#4d3c88" stroke-width="1.35"/>
<circle cx="424.7" cy="251.7" r="2.3" fill="#4d3c88" stroke-width="1.35"/>
<circle cx="399.0" cy="277.4" r="2.3" fill="#4d3c88" stroke-width="1.35"/>
<circle cx="449.2" cy="281.4" r="2.3" fill="#4d3c88" stroke-width="1.35"/>
<circle cx="422.5" cy="289.3" r="2.3" fill="#4d3c88" stroke-width="1.35"/>
<circle cx="457.1" cy="288.7" r="2.3" fill="#4d3c88" stroke-width="1.35"/>
<circle cx="403.7" cy="291.0" r="2.3" fill="#4d3c88" stroke-width="1.35"/>
<circle cx="461.0" cy="291.5" r="2.3" fill="#4d3c88" stroke-width="1.35"/>
<circle cx="462.7" cy="289.9" r="2.3" fill="#4d3c88" stroke-width="1.35"/>
<circle cx="456.8" cy="290.7" r="2.3" fill="#4d3c88" stroke-width="1.35"/>
<circle cx="428.8" cy="292.3" r="2.3" fill="#4d3c88" stroke-width="1.35"/>
<circle cx="458.8" cy="287.1" r="2.3" fill="#4d3c88" stroke-width="1.35"/>
<circle cx="448.1" cy="283.5" r="2.3" fill="#4d3c88" stroke-width="1.35"/>
<circle cx="440.9" cy="278.1" r="2.3" fill="#4d3c88" stroke-width="1.35"/>
<circle cx="421.7" cy="282.1" r="2.3" fill="#4d3c88" stroke-width="1.35"/>
<circle cx="453.0" cy="279.3" r="2.3" fill="#4d3c88" stroke-width="1.35"/>
<circle cx="424.9" cy="278.3" r="2.3" fill="#4d3c88" stroke-width="1.35"/>
<circle cx="406.2" cy="275.7" r="2.3" fill="#4d3c88" stroke-width="1.35"/>
<circle cx="424.0" cy="289.7" r="2.3" fill="#4d3c88" stroke-width="1.35"/>
<circle cx="446.5" cy="267.7" r="2.3" fill="#4d3c88" stroke-width="1.35"/>
<circle cx="451.3" cy="270.8" r="2.3" fill="#4d3c88" stroke-width="1.35"/>
<circle cx="448.1" cy="289.3" r="2.3" fill="#4d3c88" stroke-width="1.35"/>
<circle cx="440.6" cy="284.0" r="2.3" fill="#4d3c88" stroke-width="1.35"/>
<circle cx="457.1" cy="281.3" r="2.3" fill="#4d3c88" stroke-width="1.35"/>
<circle cx="437.0" cy="266.9" r="2.3" fill="#4d3c88" stroke-width="1.35"/>
<circle cx="425.1" cy="274.9" r="2.3" fill="#4d3c88" stroke-width="1.35"/>
<circle cx="461.1" cy="278.8" r="2.3" fill="#4d3c88" stroke-width="1.35"/>
<circle cx="426.7" cy="263.6" r="2.3" fill="#4d3c88" stroke-width="1.35"/>
<circle cx="417.7" cy="271.7" r="2.3" fill="#4d3c88" stroke-width="1.35"/>
<circle cx="403.2" cy="269.6" r="2.3" fill="#4d3c88" stroke-width="1.35"/>
<circle cx="436.2" cy="283.8" r="2.3" fill="#4d3c88" stroke-width="1.35"/>
<circle cx="405.1" cy="284.5" r="2.3" fill="#4d3c88" stroke-width="1.35"/>
<circle cx="415.2" cy="271.1" r="2.3" fill="#4d3c88" stroke-width="1.35"/>
<circle cx="418.4" cy="287.3" r="2.3" fill="#4d3c88" stroke-width="1.35"/>
<circle cx="403.2" cy="279.7" r="2.3" fill="#4d3c88" stroke-width="1.35"/>
<circle cx="439.5" cy="286.6" r="2.3" fill="#4d3c88" stroke-width="1.35"/>
<circle cx="453.2" cy="277.9" r="2.3" fill="#4d3c88" stroke-width="1.35"/>
<circle cx="411.6" cy="281.4" r="2.3" fill="#4d3c88" stroke-width="1.35"/>
<circle cx="434.6" cy="276.4" r="2.3" fill="#4d3c88" stroke-width="1.35"/>
<circle cx="414.7" cy="267.6" r="2.3" fill="#4d3c88" stroke-width="1.35"/>
<circle cx="425.2" cy="278.3" r="2.3" fill="#4d3c88" stroke-width="1.35"/>
<circle cx="409.1" cy="270.0" r="2.3" fill="#4d3c88" stroke-width="1.35"/>
<circle cx="416.8" cy="279.6" r="2.3" fill="#4d3c88" stroke-width="1.35"/>
<circle cx="404.9" cy="272.2" r="2.3" fill="#4d3c88" stroke-width="1.35"/>
<circle cx="416.2" cy="289.8" r="2.3" fill="#4d3c88" stroke-width="1.35"/>
<circle cx="425.7" cy="262.2" r="2.3" fill="#4d3c88" stroke-width="1.35"/>
<circle cx="424.9" cy="284.0" r="2.3" fill="#4d3c88" stroke-width="1.35"/>
<circle cx="453.3" cy="285.5" r="2.3" fill="#4d3c88" stroke-width="1.35"/>
<circle cx="420.3" cy="288.3" r="2.3" fill="#4d3c88" stroke-width="1.35"/>
<circle cx="414.5" cy="288.4" r="2.3" fill="#4d3c88" stroke-width="1.35"/>
<circle cx="434.0" cy="273.6" r="2.3" fill="#4d3c88" stroke-width="1.35"/>
<circle cx="413.6" cy="291.5" r="2.3" fill="#4d3c88" stroke-width="1.35"/>
<circle cx="439.6" cy="279.6" r="2.3" fill="#4d3c88" stroke-width="1.35"/>
<circle cx="415.6" cy="289.8" r="2.3" fill="#4d3c88" stroke-width="1.35"/>
<circle cx="462.4" cy="278.2" r="2.3" fill="#4d3c88" stroke-width="1.35"/>
<circle cx="441.3" cy="291.1" r="2.3" fill="#4d3c88" stroke-width="1.35"/>
<circle cx="424.6" cy="263.9" r="2.3" fill="#4d3c88" stroke-width="1.35"/>
<circle cx="412.6" cy="277.0" r="2.3" fill="#4d3c88" stroke-width="1.35"/>
<circle cx="457.3" cy="285.4" r="2.3" fill="#4d3c88" stroke-width="1.35"/>
<circle cx="445.1" cy="275.3" r="2.3" fill="#4d3c88" stroke-width="1.35"/>
<circle cx="415.9" cy="273.2" r="2.3" fill="#4d3c88" stroke-width="1.35"/>
<circle cx="435.9" cy="275.0" r="2.3" fill="#4d3c88" stroke-width="1.35"/>
<circle cx="437.0" cy="271.7" r="2.3" fill="#4d3c88" stroke-width="1.35"/>
<circle cx="421.6" cy="284.7" r="2.3" fill="#4d3c88" stroke-width="1.35"/>
<circle cx="414.4" cy="281.0" r="2.3" fill="#4d3c88" stroke-width="1.35"/>
<circle cx="420.6" cy="284.0" r="2.3" fill="#4d3c88" stroke-width="1.35"/>
<circle cx="415.7" cy="282.5" r="2.3" fill="#4d3c88" stroke-width="1.35"/>
<circle cx="464.2" cy="284.3" r="2.3" fill="#4d3c88" stroke-width="1.35"/>
<circle cx="400.5" cy="289.4" r="2.3" fill="#4d3c88" stroke-width="1.35"/>
<circle cx="409.7" cy="282.0" r="2.3" fill="#4d3c88" stroke-width="1.35"/>
<circle cx="398.9" cy="288.3" r="2.3" fill="#4d3c88" stroke-width="1.35"/>
<circle cx="402.6" cy="271.6" r="2.3" fill="#4d3c88" stroke-width="1.35"/>
<circle cx="437.7" cy="266.9" r="2.3" fill="#4d3c88" stroke-width="1.35"/>
<circle cx="423.2" cy="279.7" r="2.3" fill="#4d3c88" stroke-width="1.35"/>
<circle cx="431.9" cy="280.4" r="2.3" fill="#4d3c88" stroke-width="1.35"/>
<circle cx="398.5" cy="292.3" r="2.3" fill="#4d3c88" stroke-width="1.35"/>
<circle cx="441.6" cy="286.7" r="2.3" fill="#4d3c88" stroke-width="1.35"/>
<circle cx="410.5" cy="273.2" r="2.3" fill="#4d3c88" stroke-width="1.35"/>
<circle cx="423.4" cy="261.6" r="2.3" fill="#4d3c88" stroke-width="1.35"/>
<circle cx="421.3" cy="258.3" r="2.3" fill="#4d3c88" stroke-width="1.35"/>
<circle cx="434.4" cy="280.0" r="2.3" fill="#4d3c88" stroke-width="1.35"/>
<circle cx="408.2" cy="292.8" r="2.3" fill="#4d3c88" stroke-width="1.35"/>
<circle cx="418.2" cy="284.2" r="2.3" fill="#4d3c88" stroke-width="1.35"/>
<circle cx="401.3" cy="271.7" r="2.3" fill="#4d3c88" stroke-width="1.35"/>
<circle cx="418.2" cy="276.0" r="2.3" fill="#4d3c88" stroke-width="1.35"/>
<circle cx="408.2" cy="288.5" r="2.3" fill="#4d3c88" stroke-width="1.35"/>
<circle cx="425.5" cy="270.4" r="2.3" fill="#4d3c88" stroke-width="1.35"/>
<circle cx="399.2" cy="282.4" r="2.3" fill="#4d3c88" stroke-width="1.35"/>
<circle cx="445.2" cy="283.0" r="2.3" fill="#4d3c88" stroke-width="1.35"/>
<circle cx="442.0" cy="279.5" r="2.3" fill="#4d3c88" stroke-width="1.35"/>
<circle cx="425.1" cy="281.9" r="2.3" fill="#4d3c88" stroke-width="1.35"/>
<circle cx="441.9" cy="280.6" r="2.3" fill="#4d3c88" stroke-width="1.35"/>
<circle cx="442.7" cy="269.0" r="2.3" fill="#4d3c88" stroke-width="1.35"/>
<circle cx="450.2" cy="290.1" r="2.3" fill="#4d3c88" stroke-width="1.35"/>
<circle cx="461.9" cy="285.6" r="2.3" fill="#4d3c88" stroke-width="1.35"/>
<circle cx="404.3" cy="281.3" r="2.3" fill="#4d3c88" stroke-width="1.35"/>
<circle cx="425.5" cy="257.2" r="2.3" fill="#4d3c88" stroke-width="1.35"/>
<circle cx="455.4" cy="284.4" r="2.3" fill="#4d3c88" stroke-width="1.35"/>
<circle cx="434.9" cy="293.0" r="2.3" fill="#4d3c88" stroke-width="1.35"/>
<circle cx="450.6" cy="264.4" r="2.3" fill="#4d3c88" stroke-width="1.35"/>
<circle cx="436.3" cy="277.2" r="2.3" fill="#4d3c88" stroke-width="1.35"/>
<circle cx="421.5" cy="278.4" r="2.3" fill="#4d3c88" stroke-width="1.35"/>
<circle cx="452.7" cy="282.4" r="2.3" fill="#4d3c88" stroke-width="1.35"/>
<circle cx="455.7" cy="271.7" r="2.3" fill="#4d3c88" stroke-width="1.35"/>
<circle cx="460.2" cy="277.6" r="2.3" fill="#4d3c88" stroke-width="1.35"/>
<circle cx="440.3" cy="274.0" r="2.3" fill="#4d3c88" stroke-width="1.35"/>
<circle cx="416.9" cy="292.2" r="2.3" fill="#4d3c88" stroke-width="1.35"/>
<circle cx="457.9" cy="283.8" r="2.3" fill="#4d3c88" stroke-width="1.35"/>
<circle cx="452.9" cy="274.2" r="2.3" fill="#4d3c88" stroke-width="1.35"/>
<circle cx="427.6" cy="281.9" r="2.3" fill="#4d3c88" stroke-width="1.35"/>
<circle cx="415.1" cy="276.2" r="2.3" fill="#4d3c88" stroke-width="1.35"/>
<circle cx="451.0" cy="276.0" r="2.3" fill="#4d3c88" stroke-width="1.35"/>
<circle cx="451.2" cy="288.5" r="2.3" fill="#4d3c88" stroke-width="1.35"/>
<circle cx="412.0" cy="269.5" r="2.3" fill="#4d3c88" stroke-width="1.35"/>
<circle cx="417.8" cy="267.7" r="2.3" fill="#4d3c88" stroke-width="1.35"/>
<circle cx="454.2" cy="272.0" r="2.3" fill="#4d3c88" stroke-width="1.35"/>
<circle cx="460.7" cy="282.6" r="2.3" fill="#4d3c88" stroke-width="1.35"/>
<circle cx="456.9" cy="273.2" r="2.3" fill="#4d3c88" stroke-width="1.35"/>
<circle cx="432.9" cy="292.2" r="2.3" fill="#4d3c88" stroke-width="1.35"/>
<circle cx="406.7" cy="271.1" r="2.3" fill="#4d3c88" stroke-width="1.35"/>
<circle cx="420.3" cy="280.8" r="2.3" fill="#4d3c88" stroke-width="1.35"/>
<circle cx="447.6" cy="277.1" r="2.3" fill="#4d3c88" stroke-width="1.35"/>
<circle cx="422.0" cy="262.3" r="2.3" fill="#4d3c88" stroke-width="1.35"/>
<circle cx="420.3" cy="292.8" r="2.3" fill="#4d3c88" stroke-width="1.35"/>
<circle cx="437.6" cy="282.5" r="2.3" fill="#4d3c88" stroke-width="1.35"/>
<circle cx="455.7" cy="265.0" r="2.3" fill="#4d3c88" stroke-width="1.35"/>
<circle cx="450.0" cy="261.5" r="2.3" fill="#4d3c88" stroke-width="1.35"/>
<circle cx="423.8" cy="284.9" r="2.3" fill="#4d3c88" stroke-width="1.35"/>
<circle cx="444.9" cy="270.0" r="2.3" fill="#4d3c88" stroke-width="1.35"/>
<circle cx="446.2" cy="287.3" r="2.3" fill="#4d3c88" stroke-width="1.35"/>
<circle cx="425.1" cy="291.8" r="2.3" fill="#4d3c88" stroke-width="1.35"/>
<circle cx="435.8" cy="281.5" r="2.3" fill="#4d3c88" stroke-width="1.35"/>
<circle cx="404.1" cy="286.1" r="2.3" fill="#4d3c88" stroke-width="1.35"/>
<circle cx="437.7" cy="287.5" r="2.3" fill="#4d3c88" stroke-width="1.35"/>
<circle cx="442.8" cy="279.4" r="2.3" fill="#4d3c88" stroke-width="1.35"/>
<circle cx="454.4" cy="267.7" r="2.3" fill="#4d3c88" stroke-width="1.35"/>
<circle cx="418.6" cy="270.4" r="2.3" fill="#4d3c88" stroke-width="1.35"/>
<circle cx="450.5" cy="265.5" r="2.3" fill="#4d3c88" stroke-width="1.35"/>
<circle cx="402.7" cy="274.2" r="2.3" fill="#4d3c88" stroke-width="1.35"/>
<circle cx="413.1" cy="289.5" r="2.3" fill="#4d3c88" stroke-width="1.35"/>
<circle cx="416.4" cy="288.0" r="2.3" fill="#4d3c88" stroke-width="1.35"/>
<circle cx="444.7" cy="276.5" r="2.3" fill="#4d3c88" stroke-width="1.35"/>
<circle cx="423.3" cy="272.4" r="2.3" fill="#4d3c88" stroke-width="1.35"/>
<circle cx="420.3" cy="269.8" r="2.3" fill="#4d3c88" stroke-width="1.35"/>
<circle cx="445.8" cy="272.6" r="2.3" fill="#4d3c88" stroke-width="1.35"/>
<circle cx="413.3" cy="275.1" r="2.3" fill="#4d3c88" stroke-width="1.35"/>
<circle cx="454.3" cy="266.2" r="2.3" fill="#4d3c88" stroke-width="1.35"/>
<circle cx="454.1" cy="291.2" r="2.3" fill="#4d3c88" stroke-width="1.35"/>
<circle cx="414.5" cy="271.6" r="2.3" fill="#4d3c88" stroke-width="1.35"/>
<circle cx="400.9" cy="287.8" r="2.3" fill="#4d3c88" stroke-width="1.35"/>
<circle cx="422.1" cy="260.9" r="2.3" fill="#4d3c88" stroke-width="1.35"/>
<circle cx="450.4" cy="276.7" r="2.3" fill="#4d3c88" stroke-width="1.35"/>
<circle cx="416.9" cy="267.0" r="2.3" fill="#4d3c88" stroke-width="1.35"/>
<circle cx="423.4" cy="270.6" r="2.3" fill="#4d3c88" stroke-width="1.35"/>
<circle cx="417.1" cy="286.9" r="2.3" fill="#4d3c88" stroke-width="1.35"/>
<circle cx="401.3" cy="277.2" r="2.3" fill="#4d3c88" stroke-width="1.35"/>
<circle cx="411.2" cy="283.1" r="2.3" fill="#4d3c88" stroke-width="1.35"/>
<circle cx="436.4" cy="273.8" r="2.3" fill="#4d3c88" stroke-width="1.35"/>
<circle cx="442.6" cy="274.6" r="2.3" fill="#4d3c88" stroke-width="1.35"/>
<circle cx="457.0" cy="291.6" r="2.3" fill="#4d3c88" stroke-width="1.35"/>
<circle cx="464.1" cy="289.5" r="2.3" fill="#4d3c88" stroke-width="1.35"/>
<circle cx="444.4" cy="285.4" r="2.3" fill="#4d3c88" stroke-width="1.35"/>
<circle cx="436.0" cy="288.2" r="2.3" fill="#4d3c88" stroke-width="1.35"/>
<circle cx="412.9" cy="284.9" r="2.3" fill="#4d3c88" stroke-width="1.35"/>
<circle cx="458.2" cy="264.3" r="2.3" fill="#4d3c88" stroke-width="1.35"/>
<circle cx="443.8" cy="291.5" r="2.3" fill="#4d3c88" stroke-width="1.35"/>
<circle cx="461.5" cy="280.7" r="2.3" fill="#4d3c88" stroke-width="1.35"/>
<circle cx="399.7" cy="286.9" r="2.3" fill="#4d3c88" stroke-width="1.35"/>
<circle cx="459.3" cy="282.5" r="2.3" fill="#4d3c88" stroke-width="1.35"/>
<circle cx="429.8" cy="285.3" r="2.3" fill="#4d3c88" stroke-width="1.35"/>
<circle cx="455.5" cy="282.3" r="2.3" fill="#4d3c88" stroke-width="1.35"/>
<circle cx="409.9" cy="285.6" r="2.3" fill="#4d3c88" stroke-width="1.35"/>
<circle cx="423.1" cy="266.9" r="2.3" fill="#4d3c88" stroke-width="1.35"/>
<circle cx="463.4" cy="273.1" r="2.3" fill="#4d3c88" stroke-width="1.35"/>
<circle cx="464.5" cy="289.0" r="2.3" fill="#4d3c88" stroke-width="1.35"/>
<circle cx="423.8" cy="282.9" r="2.3" fill="#4d3c88" stroke-width="1.35"/>
<circle cx="449.3" cy="292.9" r="2.3" fill="#4d3c88" stroke-width="1.35"/>
<circle cx="440.3" cy="289.5" r="2.3" fill="#4d3c88" stroke-width="1.35"/>
<circle cx="409.7" cy="269.3" r="2.3" fill="#4d3c88" stroke-width="1.35"/>
<circle cx="458.9" cy="278.6" r="2.3" fill="#4d3c88" stroke-width="1.35"/>
<circle cx="401.2" cy="285.5" r="2.3" fill="#4d3c88" stroke-width="1.35"/>
<circle cx="426.4" cy="256.4" r="2.3" fill="#4d3c88" stroke-width="1.35"/>
<circle cx="405.7" cy="291.6" r="2.3" fill="#4d3c88" stroke-width="1.35"/>
<circle cx="402.9" cy="288.6" r="2.3" fill="#4d3c88" stroke-width="1.35"/>
<circle cx="418.5" cy="292.9" r="2.3" fill="#4d3c88" stroke-width="1.35"/>
<circle cx="436.9" cy="264.7" r="2.3" fill="#4d3c88" stroke-width="1.35"/>
<circle cx="419.1" cy="267.0" r="2.3" fill="#4d3c88" stroke-width="1.35"/>
<circle cx="459.0" cy="266.7" r="2.3" fill="#4d3c88" stroke-width="1.35"/>
<circle cx="448.2" cy="279.3" r="2.3" fill="#4d3c88" stroke-width="1.35"/>
<circle cx="419.1" cy="276.9" r="2.3" fill="#4d3c88" stroke-width="1.35"/>
<circle cx="438.2" cy="290.8" r="2.3" fill="#4d3c88" stroke-width="1.35"/>
<circle cx="405.9" cy="288.7" r="2.3" fill="#4d3c88" stroke-width="1.35"/>
<circle cx="423.9" cy="287.4" r="2.3" fill="#4d3c88" stroke-width="1.35"/>
<circle cx="434.4" cy="270.4" r="2.3" fill="#4d3c88" stroke-width="1.35"/>
<circle cx="407.9" cy="286.6" r="2.3" fill="#4d3c88" stroke-width="1.35"/>
<circle cx="436.8" cy="279.5" r="2.3" fill="#4d3c88" stroke-width="1.35"/>
<circle cx="437.3" cy="285.8" r="2.3" fill="#4d3c88" stroke-width="1.35"/>
<circle cx="425.5" cy="266.6" r="2.3" fill="#4d3c88" stroke-width="1.35"/>
<circle cx="454.0" cy="262.5" r="2.3" fill="#4d3c88" stroke-width="1.35"/>
<circle cx="407.3" cy="272.0" r="2.3" fill="#4d3c88" stroke-width="1.35"/>
<circle cx="451.5" cy="268.5" r="2.3" fill="#4d3c88" stroke-width="1.35"/>
<circle cx="454.7" cy="276.3" r="2.3" fill="#4d3c88" stroke-width="1.35"/>
<circle cx="404.4" cy="276.3" r="2.3" fill="#4d3c88" stroke-width="1.35"/>
<circle cx="399.2" cy="273.9" r="2.3" fill="#4d3c88" stroke-width="1.35"/>
<circle cx="402.3" cy="281.2" r="2.3" fill="#4d3c88" stroke-width="1.35"/>
<circle cx="414.9" cy="274.0" r="2.3" fill="#4d3c88" stroke-width="1.35"/>
<circle cx="457.6" cy="292.1" r="2.3" fill="#4d3c88" stroke-width="1.35"/>
<circle cx="425.8" cy="255.9" r="2.3" fill="#4d3c88" stroke-width="1.35"/>
<circle cx="437.7" cy="270.8" r="2.3" fill="#4d3c88" stroke-width="1.35"/>
<circle cx="465.8" cy="285.5" r="2.3" fill="#4d3c88" stroke-width="1.35"/>
<circle cx="461.3" cy="286.9" r="2.3" fill="#4d3c88" stroke-width="1.35"/>
<circle cx="433.6" cy="287.1" r="2.3" fill="#4d3c88" stroke-width="1.35"/>
<circle cx="447.7" cy="271.8" r="2.3" fill="#4d3c88" stroke-width="1.35"/>
<circle cx="417.7" cy="280.1" r="2.3" fill="#4d3c88" stroke-width="1.35"/>
<circle cx="441.2" cy="267.2" r="2.3" fill="#4d3c88" stroke-width="1.35"/>
<circle cx="411.4" cy="292.1" r="2.3" fill="#4d3c88" stroke-width="1.35"/>
<circle cx="407.7" cy="282.2" r="2.3" fill="#4d3c88" stroke-width="1.35"/>
<circle cx="412.6" cy="279.8" r="2.3" fill="#4d3c88" stroke-width="1.35"/>
<circle cx="464.1" cy="279.8" r="2.3" fill="#4d3c88" stroke-width="1.35"/>
<circle cx="399.9" cy="292.9" r="2.3" fill="#4d3c88" stroke-width="1.35"/>
<circle cx="442.1" cy="270.4" r="2.3" fill="#4d3c88" stroke-width="1.35"/>
<circle cx="444.9" cy="290.4" r="2.3" fill="#4d3c88" stroke-width="1.35"/>
<circle cx="399.3" cy="284.5" r="2.3" fill="#4d3c88" stroke-width="1.35"/>
<circle cx="439.5" cy="275.2" r="2.3" fill="#4d3c88" stroke-width="1.35"/>
<circle cx="420.2" cy="267.5" r="2.3" fill="#4d3c88" stroke-width="1.35"/>
<circle cx="412.4" cy="283.4" r="2.3" fill="#4d3c88" stroke-width="1.35"/>
<circle cx="456.5" cy="265.8" r="2.3" fill="#4d3c88" stroke-width="1.35"/>
<circle cx="410.9" cy="278.2" r="2.3" fill="#4d3c88" stroke-width="1.35"/>
<circle cx="448.4" cy="288.7" r="2.3" fill="#4d3c88" stroke-width="1.35"/>
<circle cx="409.9" cy="287.3" r="2.3" fill="#4d3c88" stroke-width="1.35"/>
<circle cx="410.9" cy="271.4" r="2.3" fill="#4d3c88" stroke-width="1.35"/>
<circle cx="423.6" cy="253.0" r="2.3" fill="#4d3c88" stroke-width="1.35"/>
<circle cx="421.8" cy="252.5" r="2.3" fill="#4d3c88" stroke-width="1.35"/>
<circle cx="407.7" cy="275.0" r="2.3" fill="#4d3c88" stroke-width="1.35"/>
<circle cx="459.4" cy="286.6" r="2.3" fill="#4d3c88" stroke-width="1.35"/>
<circle cx="450.7" cy="284.5" r="2.3" fill="#4d3c88" stroke-width="1.35"/>
<circle cx="427.1" cy="273.7" r="2.3" fill="#4d3c88" stroke-width="1.35"/>
<circle cx="446.0" cy="278.9" r="2.3" fill="#4d3c88" stroke-width="1.35"/>
<circle cx="421.9" cy="265.2" r="2.3" fill="#4d3c88" stroke-width="1.35"/>
<circle cx="426.8" cy="291.1" r="2.3" fill="#4d3c88" stroke-width="1.35"/>
<circle cx="428.7" cy="283.2" r="2.3" fill="#4d3c88" stroke-width="1.35"/>
<circle cx="410.2" cy="290.2" r="2.3" fill="#4d3c88" stroke-width="1.35"/>
<circle cx="426.9" cy="276.6" r="2.3" fill="#4d3c88" stroke-width="1.35"/>
<circle cx="401.8" cy="270.5" r="2.3" fill="#4d3c88" stroke-width="1.35"/>
<circle cx="428.8" cy="287.2" r="2.3" fill="#4d3c88" stroke-width="1.35"/>
<circle cx="441.3" cy="277.2" r="2.3" fill="#4d3c88" stroke-width="1.35"/>
<circle cx="453.9" cy="286.2" r="2.3" fill="#4d3c88" stroke-width="1.35"/>
<circle cx="433.9" cy="275.7" r="2.3" fill="#4d3c88" stroke-width="1.35"/>
<circle cx="431.0" cy="287.6" r="2.3" fill="#4d3c88" stroke-width="1.35"/>
<circle cx="432.0" cy="277.6" r="2.3" fill="#4d3c88" stroke-width="1.35"/>
<circle cx="427.2" cy="259.1" r="2.3" fill="#4d3c88" stroke-width="1.35"/>
<circle cx="432.1" cy="278.9" r="2.3" fill="#4d3c88" stroke-width="1.35"/>
<circle cx="438.1" cy="267.4" r="2.3" fill="#4d3c88" stroke-width="1.35"/>
<circle cx="447.5" cy="285.9" r="2.3" fill="#4d3c88" stroke-width="1.35"/>
<circle cx="464.3" cy="282.4" r="2.3" fill="#4d3c88" stroke-width="1.35"/>
<circle cx="418.7" cy="272.6" r="2.3" fill="#4d3c88" stroke-width="1.35"/>
<circle cx="421.6" cy="276.2" r="2.3" fill="#4d3c88" stroke-width="1.35"/>
<circle cx="453.4" cy="292.7" r="2.3" fill="#4d3c88" stroke-width="1.35"/>
<circle cx="434.4" cy="283.0" r="2.3" fill="#4d3c88" stroke-width="1.35"/>
<circle cx="441.1" cy="292.5" r="2.3" fill="#4d3c88" stroke-width="1.35"/>
<circle cx="449.1" cy="265.4" r="2.3" fill="#4d3c88" stroke-width="1.35"/>
<circle cx="408.4" cy="283.4" r="2.3" fill="#4d3c88" stroke-width="1.35"/>
<circle cx="405.7" cy="279.8" r="2.3" fill="#4d3c88" stroke-width="1.35"/>
<circle cx="433.4" cy="290.0" r="2.3" fill="#4d3c88" stroke-width="1.35"/>
<circle cx="445.4" cy="282.0" r="2.3" fill="#4d3c88" stroke-width="1.35"/>
<circle cx="400.8" cy="282.9" r="2.3" fill="#4d3c88" stroke-width="1.35"/>
<circle cx="440.4" cy="280.9" r="2.3" fill="#4d3c88" stroke-width="1.35"/>
<circle cx="408.0" cy="280.4" r="2.3" fill="#4d3c88" stroke-width="1.35"/>
<circle cx="456.9" cy="263.0" r="2.3" fill="#4d3c88" stroke-width="1.35"/>
<circle cx="456.0" cy="279.1" r="2.3" fill="#4d3c88" stroke-width="1.35"/>
<circle cx="400.4" cy="274.2" r="2.3" fill="#4d3c88" stroke-width="1.35"/>
<circle cx="421.6" cy="274.4" r="2.3" fill="#4d3c88" stroke-width="1.35"/>
<circle cx="424.7" cy="260.8" r="2.3" fill="#4d3c88" stroke-width="1.35"/>
<circle cx="435.8" cy="285.1" r="2.3" fill="#4d3c88" stroke-width="1.35"/>
<circle cx="452.6" cy="284.7" r="2.3" fill="#4d3c88" stroke-width="1.35"/>
<circle cx="439.7" cy="268.4" r="2.3" fill="#4d3c88" stroke-width="1.35"/>
<circle cx="428.2" cy="280.2" r="2.3" fill="#4d3c88" stroke-width="1.35"/>
<circle cx="443.8" cy="288.6" r="2.3" fill="#4d3c88" stroke-width="1.35"/>
<circle cx="421.9" cy="255.2" r="2.3" fill="#4d3c88" stroke-width="1.35"/>
<circle cx="453.2" cy="287.9" r="2.3" fill="#4d3c88" stroke-width="1.35"/>
<circle cx="450.5" cy="267.6" r="2.3" fill="#4d3c88" stroke-width="1.35"/>
<circle cx="404.1" cy="283.4" r="2.3" fill="#4d3c88" stroke-width="1.35"/>
<circle cx="448.3" cy="274.5" r="2.3" fill="#4d3c88" stroke-width="1.35"/>
<circle cx="452.9" cy="290.0" r="2.3" fill="#4d3c88" stroke-width="1.35"/>
<circle cx="418.3" cy="274.4" r="2.3" fill="#4d3c88" stroke-width="1.35"/>
<circle cx="465.5" cy="284.3" r="2.3" fill="#4d3c88" stroke-width="1.35"/>
<circle cx="457.2" cy="276.3" r="2.3" fill="#4d3c88" stroke-width="1.35"/>
<circle cx="422.5" cy="250.7" r="2.3" fill="#4d3c88" stroke-width="1.35"/>
<circle cx="459.4" cy="275.4" r="2.3" fill="#4d3c88" stroke-width="1.35"/>
<circle cx="465.7" cy="291.5" r="2.3" fill="#4d3c88" stroke-width="1.35"/>
<circle cx="432.7" cy="285.8" r="2.3" fill="#4d3c88" stroke-width="1.35"/>
<circle cx="407.8" cy="277.6" r="2.3" fill="#4d3c88" stroke-width="1.35"/>
<circle cx="407.9" cy="269.1" r="2.3" fill="#4d3c88" stroke-width="1.35"/>
<circle cx="435.4" cy="289.6" r="2.3" fill="#4d3c88" stroke-width="1.35"/>
<circle cx="462.5" cy="274.1" r="2.3" fill="#4d3c88" stroke-width="1.35"/>
<circle cx="404.6" cy="268.6" r="2.3" fill="#4d3c88" stroke-width="1.35"/>
<circle cx="460.8" cy="273.9" r="2.3" fill="#4d3c88" stroke-width="1.35"/>
<circle cx="455.6" cy="274.6" r="2.3" fill="#4d3c88" stroke-width="1.35"/>
<circle cx="450.5" cy="273.9" r="2.3" fill="#4d3c88" stroke-width="1.35"/>
<circle cx="451.9" cy="263.9" r="2.3" fill="#4d3c88" stroke-width="1.35"/>
<circle cx="460.5" cy="289.6" r="2.3" fill="#4d3c88" stroke-width="1.35"/>
<circle cx="422.1" cy="266.7" r="2.3" fill="#4d3c88" stroke-width="1.35"/>
<circle cx="425.3" cy="267.7" r="2.3" fill="#4d3c88" stroke-width="1.35"/>
<circle cx="441.4" cy="288.1" r="2.3" fill="#4d3c88" stroke-width="1.35"/>
<circle cx="460.8" cy="274.2" r="2.3" fill="#4d3c88" stroke-width="1.35"/>
<circle cx="447.7" cy="270.2" r="2.3" fill="#4d3c88" stroke-width="1.35"/>
<circle cx="401.2" cy="279.8" r="2.3" fill="#4d3c88" stroke-width="1.35"/>
<circle cx="454.5" cy="271.1" r="2.3" fill="#4d3c88" stroke-width="1.35"/>
<circle cx="434.5" cy="265.4" r="2.3" fill="#4d3c88" stroke-width="1.35"/>
<circle cx="418.8" cy="285.7" r="2.3" fill="#4d3c88" stroke-width="1.35"/>
<circle cx="433.8" cy="269.3" r="2.3" fill="#4d3c88" stroke-width="1.35"/>
<circle cx="416.9" cy="282.0" r="2.3" fill="#4d3c88" stroke-width="1.35"/>
<circle cx="451.2" cy="278.7" r="2.3" fill="#4d3c88" stroke-width="1.35"/>
<circle cx="412.7" cy="273.8" r="2.3" fill="#4d3c88" stroke-width="1.35"/>
<circle cx="403.0" cy="290.2" r="2.3" fill="#4d3c88" stroke-width="1.35"/>
<circle cx="424.2" cy="274.4" r="2.3" fill="#4d3c88" stroke-width="1.35"/>
<circle cx="430.7" cy="291.0" r="2.3" fill="#4d3c88" stroke-width="1.35"/>
<circle cx="463.7" cy="277.6" r="2.3" fill="#4d3c88" stroke-width="1.35"/>
<circle cx="411.2" cy="275.1" r="2.3" fill="#4d3c88" stroke-width="1.35"/>
<circle cx="430.3" cy="284.4" r="2.3" fill="#4d3c88" stroke-width="1.35"/>
<circle cx="446.6" cy="291.8" r="2.3" fill="#4d3c88" stroke-width="1.35"/>
<circle cx="427.6" cy="268.2" r="2.3" fill="#4d3c88" stroke-width="1.35"/>
<circle cx="466.5" cy="287.4" r="2.3" fill="#4d3c88" stroke-width="1.35"/>
<circle cx="420.1" cy="265.2" r="2.3" fill="#4d3c88" stroke-width="1.35"/>
<circle cx="443.7" cy="283.7" r="2.3" fill="#4d3c88" stroke-width="1.35"/>
<circle cx="451.4" cy="273.4" r="2.3" fill="#4d3c88" stroke-width="1.35"/>
<circle cx="423.3" cy="257.9" r="2.3" fill="#4d3c88" stroke-width="1.35"/>
<circle cx="423.3" cy="268.6" r="2.3" fill="#4d3c88" stroke-width="1.35"/>
<circle cx="427.0" cy="285.7" r="2.3" fill="#4d3c88" stroke-width="1.35"/>
<circle cx="449.3" cy="284.9" r="2.3" fill="#4d3c88" stroke-width="1.35"/>
<circle cx="430.7" cy="292.5" r="2.3" fill="#4d3c88" stroke-width="1.35"/>
<circle cx="438.1" cy="282.6" r="2.3" fill="#4d3c88" stroke-width="1.35"/>
<circle cx="442.3" cy="272.4" r="2.3" fill="#4d3c88" stroke-width="1.35"/>
<circle cx="426.3" cy="287.2" r="2.3" fill="#4d3c88" stroke-width="1.35"/>
<circle cx="418.8" cy="289.2" r="2.3" fill="#4d3c88" stroke-width="1.35"/>
<circle cx="414.2" cy="286.4" r="2.3" fill="#4d3c88" stroke-width="1.35"/>
<circle cx="458.8" cy="270.7" r="2.3" fill="#4d3c88" stroke-width="1.35"/>
<circle cx="439.2" cy="273.7" r="2.3" fill="#4d3c88" stroke-width="1.35"/>
<circle cx="407.1" cy="290.9" r="2.3" fill="#4d3c88" stroke-width="1.35"/>
<circle cx="424.9" cy="271.7" r="2.3" fill="#4d3c88" stroke-width="1.35"/>
<circle cx="492.8" cy="270.1" r="2.3" fill="#4d3c88" stroke-width="1.35"/>
<circle cx="485.9" cy="270.9" r="2.3" fill="#4d3c88" stroke-width="1.35"/>
<circle cx="491.2" cy="292.2" r="2.3" fill="#4d3c88" stroke-width="1.35"/>
<circle cx="502.9" cy="272.9" r="2.3" fill="#4d3c88" stroke-width="1.35"/>
<circle cx="484.3" cy="285.2" r="2.3" fill="#4d3c88" stroke-width="1.35"/>
<circle cx="485.0" cy="268.2" r="2.3" fill="#4d3c88" stroke-width="1.35"/>
<circle cx="503.8" cy="267.3" r="2.3" fill="#4d3c88" stroke-width="1.35"/>
<circle cx="494.9" cy="282.7" r="2.3" fill="#4d3c88" stroke-width="1.35"/>
<circle cx="491.5" cy="281.3" r="2.3" fill="#4d3c88" stroke-width="1.35"/>
<circle cx="497.8" cy="277.9" r="2.3" fill="#4d3c88" stroke-width="1.35"/>
<circle cx="478.3" cy="279.1" r="2.3" fill="#4d3c88" stroke-width="1.35"/>
<circle cx="487.6" cy="275.1" r="2.3" fill="#4d3c88" stroke-width="1.35"/>
<circle cx="496.3" cy="285.1" r="2.3" fill="#4d3c88" stroke-width="1.35"/>
<circle cx="504.5" cy="280.1" r="2.3" fill="#4d3c88" stroke-width="1.35"/>
<circle cx="498.8" cy="284.6" r="2.3" fill="#4d3c88" stroke-width="1.35"/>
<circle cx="481.5" cy="275.0" r="2.3" fill="#4d3c88" stroke-width="1.35"/>
<circle cx="482.5" cy="268.3" r="2.3" fill="#4d3c88" stroke-width="1.35"/>
<circle cx="502.7" cy="290.7" r="2.3" fill="#4d3c88" stroke-width="1.35"/>
<circle cx="495.7" cy="276.3" r="2.3" fill="#4d3c88" stroke-width="1.35"/>
<circle cx="499.6" cy="284.4" r="2.3" fill="#4d3c88" stroke-width="1.35"/>
<circle cx="481.2" cy="289.8" r="2.3" fill="#4d3c88" stroke-width="1.35"/>
<circle cx="495.9" cy="287.3" r="2.3" fill="#4d3c88" stroke-width="1.35"/>
<circle cx="496.5" cy="289.5" r="2.3" fill="#4d3c88" stroke-width="1.35"/>
<circle cx="486.2" cy="283.8" r="2.3" fill="#4d3c88" stroke-width="1.35"/>
<circle cx="504.9" cy="273.3" r="2.3" fill="#4d3c88" stroke-width="1.35"/>
<circle cx="500.2" cy="280.6" r="2.3" fill="#4d3c88" stroke-width="1.35"/>
<circle cx="480.0" cy="286.1" r="2.3" fill="#4d3c88" stroke-width="1.35"/>
<circle cx="509.2" cy="291.2" r="2.3" fill="#4d3c88" stroke-width="1.35"/>
<circle cx="503.6" cy="284.1" r="2.3" fill="#4d3c88" stroke-width="1.35"/>
<circle cx="509.4" cy="282.6" r="2.3" fill="#4d3c88" stroke-width="1.35"/>
<circle cx="478.4" cy="287.2" r="2.3" fill="#4d3c88" stroke-width="1.35"/>
<circle cx="498.9" cy="274.0" r="2.3" fill="#4d3c88" stroke-width="1.35"/>
<circle cx="484.0" cy="277.3" r="2.3" fill="#4d3c88" stroke-width="1.35"/>
<circle cx="480.8" cy="277.4" r="2.3" fill="#4d3c88" stroke-width="1.35"/>
<circle cx="507.8" cy="292.7" r="2.3" fill="#4d3c88" stroke-width="1.35"/>
<circle cx="496.9" cy="282.3" r="2.3" fill="#4d3c88" stroke-width="1.35"/>
<circle cx="483.8" cy="275.8" r="2.3" fill="#4d3c88" stroke-width="1.35"/>
<circle cx="493.8" cy="267.4" r="2.3" fill="#4d3c88" stroke-width="1.35"/>
<circle cx="493.6" cy="288.2" r="2.3" fill="#4d3c88" stroke-width="1.35"/>
<circle cx="488.7" cy="270.1" r="2.3" fill="#4d3c88" stroke-width="1.35"/>
<circle cx="482.4" cy="272.9" r="2.3" fill="#4d3c88" stroke-width="1.35"/>
<circle cx="505.1" cy="271.8" r="2.3" fill="#4d3c88" stroke-width="1.35"/>
<circle cx="492.0" cy="276.5" r="2.3" fill="#4d3c88" stroke-width="1.35"/>
<circle cx="485.4" cy="287.1" r="2.3" fill="#4d3c88" stroke-width="1.35"/>
<circle cx="490.3" cy="275.5" r="2.3" fill="#4d3c88" stroke-width="1.35"/>
<circle cx="477.7" cy="290.2" r="2.3" fill="#4d3c88" stroke-width="1.35"/>
<circle cx="501.5" cy="278.4" r="2.3" fill="#4d3c88" stroke-width="1.35"/>
<circle cx="493.7" cy="291.8" r="2.3" fill="#4d3c88" stroke-width="1.35"/>
<circle cx="495.0" cy="291.2" r="2.3" fill="#4d3c88" stroke-width="1.35"/>
<circle cx="494.1" cy="279.8" r="2.3" fill="#4d3c88" stroke-width="1.35"/>
<circle cx="487.2" cy="284.5" r="2.3" fill="#4d3c88" stroke-width="1.35"/>
<circle cx="483.5" cy="271.5" r="2.3" fill="#4d3c88" stroke-width="1.35"/>
<circle cx="482.0" cy="281.3" r="2.3" fill="#4d3c88" stroke-width="1.35"/>
<circle cx="476.5" cy="281.0" r="2.3" fill="#4d3c88" stroke-width="1.35"/>
<circle cx="487.4" cy="282.7" r="2.3" fill="#4d3c88" stroke-width="1.35"/>
<circle cx="484.2" cy="273.6" r="2.3" fill="#4d3c88" stroke-width="1.35"/>
<circle cx="491.7" cy="290.1" r="2.3" fill="#4d3c88" stroke-width="1.35"/>
<circle cx="484.4" cy="282.7" r="2.3" fill="#4d3c88" stroke-width="1.35"/>
<circle cx="502.0" cy="275.0" r="2.3" fill="#4d3c88" stroke-width="1.35"/>
<circle cx="499.6" cy="290.9" r="2.3" fill="#4d3c88" stroke-width="1.35"/>
<circle cx="477.2" cy="283.0" r="2.3" fill="#4d3c88" stroke-width="1.35"/>
<circle cx="479.7" cy="281.7" r="2.3" fill="#4d3c88" stroke-width="1.35"/>
<circle cx="491.2" cy="283.2" r="2.3" fill="#4d3c88" stroke-width="1.35"/>
<circle cx="503.8" cy="290.3" r="2.3" fill="#4d3c88" stroke-width="1.35"/>
<circle cx="505.2" cy="278.1" r="2.3" fill="#4d3c88" stroke-width="1.35"/>
<circle cx="479.9" cy="288.5" r="2.3" fill="#4d3c88" stroke-width="1.35"/>
<circle cx="481.2" cy="285.4" r="2.3" fill="#4d3c88" stroke-width="1.35"/>
<circle cx="507.6" cy="276.8" r="2.3" fill="#4d3c88" stroke-width="1.35"/>
<circle cx="479.6" cy="274.0" r="2.3" fill="#4d3c88" stroke-width="1.35"/>
<circle cx="506.0" cy="274.1" r="2.3" fill="#4d3c88" stroke-width="1.35"/>
<circle cx="506.3" cy="290.2" r="2.3" fill="#4d3c88" stroke-width="1.35"/>
<circle cx="502.4" cy="287.8" r="2.3" fill="#4d3c88" stroke-width="1.35"/>
<circle cx="509.0" cy="275.9" r="2.3" fill="#4d3c88" stroke-width="1.35"/>
<circle cx="478.0" cy="275.0" r="2.3" fill="#4d3c88" stroke-width="1.35"/>
<circle cx="486.5" cy="276.4" r="2.3" fill="#4d3c88" stroke-width="1.35"/>
<circle cx="500.0" cy="288.7" r="2.3" fill="#4d3c88" stroke-width="1.35"/>
<circle cx="487.6" cy="287.6" r="2.3" fill="#4d3c88" stroke-width="1.35"/>
<circle cx="483.2" cy="280.4" r="2.3" fill="#4d3c88" stroke-width="1.35"/>
<circle cx="503.5" cy="285.1" r="2.3" fill="#4d3c88" stroke-width="1.35"/>
<circle cx="506.4" cy="286.8" r="2.3" fill="#4d3c88" stroke-width="1.35"/>
<circle cx="490.6" cy="270.3" r="2.3" fill="#4d3c88" stroke-width="1.35"/>
<circle cx="491.2" cy="273.4" r="2.3" fill="#4d3c88" stroke-width="1.35"/>
<circle cx="494.5" cy="278.2" r="2.3" fill="#4d3c88" stroke-width="1.35"/>
<circle cx="501.2" cy="281.6" r="2.3" fill="#4d3c88" stroke-width="1.35"/>
<circle cx="493.0" cy="274.8" r="2.3" fill="#4d3c88" stroke-width="1.35"/>
<circle cx="502.6" cy="280.3" r="2.3" fill="#4d3c88" stroke-width="1.35"/>
<circle cx="498.6" cy="271.1" r="2.3" fill="#4d3c88" stroke-width="1.35"/>
<circle cx="489.1" cy="291.4" r="2.3" fill="#4d3c88" stroke-width="1.35"/>
<circle cx="506.3" cy="275.6" r="2.3" fill="#4d3c88" stroke-width="1.35"/>
<circle cx="492.1" cy="285.1" r="2.3" fill="#4d3c88" stroke-width="1.35"/>
<circle cx="495.5" cy="279.8" r="2.3" fill="#4d3c88" stroke-width="1.35"/>
<circle cx="500.7" cy="271.8" r="2.3" fill="#4d3c88" stroke-width="1.35"/>
<circle cx="478.7" cy="277.6" r="2.3" fill="#4d3c88" stroke-width="1.35"/>
<circle cx="481.3" cy="269.8" r="2.3" fill="#4d3c88" stroke-width="1.35"/>
<circle cx="480.1" cy="284.3" r="2.3" fill="#4d3c88" stroke-width="1.35"/>
<circle cx="491.1" cy="288.6" r="2.3" fill="#4d3c88" stroke-width="1.35"/>
<circle cx="507.5" cy="281.4" r="2.3" fill="#4d3c88" stroke-width="1.35"/>
<circle cx="477.7" cy="273.3" r="2.3" fill="#4d3c88" stroke-width="1.35"/>
<circle cx="498.6" cy="268.1" r="2.3" fill="#4d3c88" stroke-width="1.35"/>
<circle cx="508.3" cy="288.1" r="2.3" fill="#4d3c88" stroke-width="1.35"/>
<circle cx="488.2" cy="268.5" r="2.3" fill="#4d3c88" stroke-width="1.35"/>
<circle cx="500.7" cy="267.8" r="2.3" fill="#4d3c88" stroke-width="1.35"/>
<circle cx="483.8" cy="287.9" r="2.3" fill="#4d3c88" stroke-width="1.35"/>
<circle cx="489.8" cy="278.0" r="2.3" fill="#4d3c88" stroke-width="1.35"/>
<circle cx="498.1" cy="280.0" r="2.3" fill="#4d3c88" stroke-width="1.35"/>
<circle cx="498.2" cy="278.2" r="2.3" fill="#4d3c88" stroke-width="1.35"/>
<circle cx="508.5" cy="285.0" r="2.3" fill="#4d3c88" stroke-width="1.35"/>
<circle cx="501.2" cy="293.0" r="2.3" fill="#4d3c88" stroke-width="1.35"/>
<circle cx="497.7" cy="287.7" r="2.3" fill="#4d3c88" stroke-width="1.35"/>
<circle cx="495.9" cy="273.0" r="2.3" fill="#4d3c88" stroke-width="1.35"/>
<circle cx="497.8" cy="291.8" r="2.3" fill="#4d3c88" stroke-width="1.35"/>
<circle cx="504.7" cy="268.8" r="2.3" fill="#4d3c88" stroke-width="1.35"/>
<circle cx="477.2" cy="286.4" r="2.3" fill="#4d3c88" stroke-width="1.35"/>
<circle cx="485.7" cy="274.6" r="2.3" fill="#4d3c88" stroke-width="1.35"/>
<circle cx="499.4" cy="274.2" r="2.3" fill="#4d3c88" stroke-width="1.35"/>
<circle cx="495.6" cy="269.7" r="2.3" fill="#4d3c88" stroke-width="1.35"/>
<circle cx="503.7" cy="271.0" r="2.3" fill="#4d3c88" stroke-width="1.35"/>
<circle cx="487.6" cy="286.9" r="2.3" fill="#4d3c88" stroke-width="1.35"/>
<circle cx="495.1" cy="268.4" r="2.3" fill="#4d3c88" stroke-width="1.35"/>
<circle cx="483.4" cy="290.3" r="2.3" fill="#4d3c88" stroke-width="1.35"/>
<circle cx="486.3" cy="272.1" r="2.3" fill="#4d3c88" stroke-width="1.35"/>
<circle cx="490.6" cy="280.0" r="2.3" fill="#4d3c88" stroke-width="1.35"/>
<circle cx="506.9" cy="279.8" r="2.3" fill="#4d3c88" stroke-width="1.35"/>
<circle cx="485.6" cy="280.6" r="2.3" fill="#4d3c88" stroke-width="1.35"/>
<circle cx="486.2" cy="268.4" r="2.3" fill="#4d3c88" stroke-width="1.35"/>
<circle cx="496.1" cy="292.4" r="2.3" fill="#4d3c88" stroke-width="1.35"/>
<circle cx="504.9" cy="292.2" r="2.3" fill="#4d3c88" stroke-width="1.35"/>
<circle cx="505.0" cy="289.0" r="2.3" fill="#4d3c88" stroke-width="1.35"/>
<circle cx="494.9" cy="280.9" r="2.3" fill="#4d3c88" stroke-width="1.35"/>
<circle cx="506.2" cy="284.9" r="2.3" fill="#4d3c88" stroke-width="1.35"/>
<circle cx="486.9" cy="279.4" r="2.3" fill="#4d3c88" stroke-width="1.35"/>
<circle cx="505.2" cy="280.9" r="2.3" fill="#4d3c88" stroke-width="1.35"/>
<circle cx="498.8" cy="286.6" r="2.3" fill="#4d3c88" stroke-width="1.35"/>
<circle cx="479.4" cy="291.1" r="2.3" fill="#4d3c88" stroke-width="1.35"/>
<circle cx="480.6" cy="280.5" r="2.3" fill="#4d3c88" stroke-width="1.35"/>
<circle cx="497.3" cy="274.8" r="2.3" fill="#4d3c88" stroke-width="1.35"/>
<circle cx="494.9" cy="286.6" r="2.3" fill="#4d3c88" stroke-width="1.35"/>
<circle cx="483.2" cy="283.0" r="2.3" fill="#4d3c88" stroke-width="1.35"/>
<circle cx="488.7" cy="286.4" r="2.3" fill="#4d3c88" stroke-width="1.35"/>
<circle cx="476.1" cy="287.2" r="2.3" fill="#4d3c88" stroke-width="1.35"/>
<circle cx="495.1" cy="272.2" r="2.3" fill="#4d3c88" stroke-width="1.35"/>
<circle cx="487.4" cy="289.5" r="2.3" fill="#4d3c88" stroke-width="1.35"/>
<circle cx="488.7" cy="281.7" r="2.3" fill="#4d3c88" stroke-width="1.35"/>
<circle cx="496.0" cy="271.0" r="2.3" fill="#4d3c88" stroke-width="1.35"/>
<circle cx="502.1" cy="276.8" r="2.3" fill="#4d3c88" stroke-width="1.35"/>
<circle cx="489.5" cy="273.7" r="2.3" fill="#4d3c88" stroke-width="1.35"/>
<circle cx="507.6" cy="284.6" r="2.3" fill="#4d3c88" stroke-width="1.35"/>
<circle cx="494.0" cy="284.5" r="2.3" fill="#4d3c88" stroke-width="1.35"/>
<circle cx="501.7" cy="286.7" r="2.3" fill="#4d3c88" stroke-width="1.35"/>
<circle cx="311.6" cy="291.9" r="2.3" fill="#4d3c88" stroke-width="1.35"/>
<circle cx="367.8" cy="292.1" r="2.3" fill="#4d3c88" stroke-width="1.35"/>
<circle cx="422.5" cy="292.6" r="2.3" fill="#4d3c88" stroke-width="1.35"/>
<circle cx="421.5" cy="292.8" r="2.3" fill="#4d3c88" stroke-width="1.35"/>
<circle cx="431.8" cy="292.0" r="2.3" fill="#4d3c88" stroke-width="1.35"/>
<circle cx="412.0" cy="292.0" r="2.3" fill="#4d3c88" stroke-width="1.35"/>
<circle cx="361.7" cy="292.4" r="2.3" fill="#4d3c88" stroke-width="1.35"/>
<circle cx="346.7" cy="291.9" r="2.3" fill="#4d3c88" stroke-width="1.35"/>
<circle cx="465.9" cy="292.5" r="2.3" fill="#4d3c88" stroke-width="1.35"/>
<circle cx="322.8" cy="292.6" r="2.3" fill="#4d3c88" stroke-width="1.35"/>
<circle cx="455.2" cy="292.8" r="2.3" fill="#4d3c88" stroke-width="1.35"/>
<circle cx="341.2" cy="292.5" r="2.3" fill="#4d3c88" stroke-width="1.35"/>
<circle cx="361.8" cy="292.6" r="2.3" fill="#4d3c88" stroke-width="1.35"/>
<circle cx="406.8" cy="291.8" r="2.3" fill="#4d3c88" stroke-width="1.35"/>
<circle cx="364.5" cy="292.1" r="2.3" fill="#4d3c88" stroke-width="1.35"/>
<circle cx="380.8" cy="292.2" r="2.3" fill="#4d3c88" stroke-width="1.35"/>
<circle cx="386.9" cy="291.9" r="2.3" fill="#4d3c88" stroke-width="1.35"/>
<circle cx="432.9" cy="292.2" r="2.3" fill="#4d3c88" stroke-width="1.35"/>
<circle cx="455.9" cy="292.6" r="2.3" fill="#4d3c88" stroke-width="1.35"/>
<circle cx="417.1" cy="291.8" r="2.3" fill="#4d3c88" stroke-width="1.35"/>
<circle cx="427.5" cy="292.7" r="2.3" fill="#4d3c88" stroke-width="1.35"/>
<circle cx="353.5" cy="292.1" r="2.3" fill="#4d3c88" stroke-width="1.35"/>
<circle cx="437.7" cy="292.7" r="2.3" fill="#4d3c88" stroke-width="1.35"/>
<circle cx="370.2" cy="292.1" r="2.3" fill="#4d3c88" stroke-width="1.35"/>
<circle cx="415.4" cy="292.7" r="2.3" fill="#4d3c88" stroke-width="1.35"/>
<circle cx="395.5" cy="291.9" r="2.3" fill="#4d3c88" stroke-width="1.35"/>
<circle cx="339.9" cy="292.6" r="2.3" fill="#4d3c88" stroke-width="1.35"/>
<circle cx="414.0" cy="292.6" r="2.3" fill="#4d3c88" stroke-width="1.35"/>
<circle cx="394.8" cy="292.5" r="2.3" fill="#4d3c88" stroke-width="1.35"/>
<circle cx="332.4" cy="291.9" r="2.3" fill="#4d3c88" stroke-width="1.35"/>
<circle cx="393.4" cy="292.6" r="2.3" fill="#4d3c88" stroke-width="1.35"/>
<circle cx="396.2" cy="292.0" r="2.3" fill="#4d3c88" stroke-width="1.35"/>
<circle cx="325.8" cy="292.5" r="2.3" fill="#4d3c88" stroke-width="1.35"/>
<circle cx="411.8" cy="292.7" r="2.3" fill="#4d3c88" stroke-width="1.35"/>
<circle cx="346.4" cy="292.4" r="2.3" fill="#4d3c88" stroke-width="1.35"/>
<circle cx="454.7" cy="292.7" r="2.3" fill="#4d3c88" stroke-width="1.35"/>
<circle cx="357.7" cy="292.2" r="2.3" fill="#4d3c88" stroke-width="1.35"/>
<circle cx="354.4" cy="292.7" r="2.3" fill="#4d3c88" stroke-width="1.35"/>
<circle cx="356.1" cy="292.8" r="2.3" fill="#4d3c88" stroke-width="1.35"/>
<circle cx="397.1" cy="292.8" r="2.3" fill="#4d3c88" stroke-width="1.35"/>
<circle cx="420.4" cy="292.4" r="2.3" fill="#4d3c88" stroke-width="1.35"/>
<circle cx="447.1" cy="292.6" r="2.3" fill="#4d3c88" stroke-width="1.35"/>
<circle cx="328.1" cy="292.2" r="2.3" fill="#4d3c88" stroke-width="1.35"/>
<circle cx="353.7" cy="292.4" r="2.3" fill="#4d3c88" stroke-width="1.35"/>
<circle cx="390.1" cy="292.9" r="2.3" fill="#4d3c88" stroke-width="1.35"/>
<circle cx="370.4" cy="292.9" r="2.3" fill="#4d3c88" stroke-width="1.35"/>
<circle cx="371.3" cy="292.4" r="2.3" fill="#4d3c88" stroke-width="1.35"/>
<circle cx="395.5" cy="291.9" r="2.3" fill="#4d3c88" stroke-width="1.35"/>
<circle cx="460.8" cy="292.2" r="2.3" fill="#4d3c88" stroke-width="1.35"/>
<circle cx="396.1" cy="292.8" r="2.3" fill="#4d3c88" stroke-width="1.35"/>
<circle cx="375.2" cy="292.6" r="2.3" fill="#4d3c88" stroke-width="1.35"/>
<circle cx="405.9" cy="292.6" r="2.3" fill="#4d3c88" stroke-width="1.35"/>
<circle cx="331.2" cy="292.4" r="2.3" fill="#4d3c88" stroke-width="1.35"/>
<circle cx="503.0" cy="292.8" r="2.3" fill="#4d3c88" stroke-width="1.35"/>
<circle cx="502.6" cy="293.0" r="2.3" fill="#4d3c88" stroke-width="1.35"/>
<circle cx="492.7" cy="292.4" r="2.3" fill="#4d3c88" stroke-width="1.35"/>
<circle cx="482.5" cy="292.4" r="2.3" fill="#4d3c88" stroke-width="1.35"/>
<circle cx="509.5" cy="292.2" r="2.3" fill="#4d3c88" stroke-width="1.35"/>
<circle cx="491.6" cy="291.8" r="2.3" fill="#4d3c88" stroke-width="1.35"/>
<circle cx="483.3" cy="292.1" r="2.3" fill="#4d3c88" stroke-width="1.35"/>
<circle cx="487.3" cy="292.8" r="2.3" fill="#4d3c88" stroke-width="1.35"/>
<circle cx="482.2" cy="292.3" r="2.3" fill="#4d3c88" stroke-width="1.35"/>
<circle cx="498.0" cy="292.6" r="2.3" fill="#4d3c88" stroke-width="1.35"/>
<circle cx="478.2" cy="292.9" r="2.3" fill="#4d3c88" stroke-width="1.35"/>
<circle cx="494.4" cy="292.6" r="2.3" fill="#4d3c88" stroke-width="1.35"/>
<circle cx="338.2" cy="260.5" r="2.3" fill="#4d3c88" stroke-width="1.35"/>
<circle cx="339.4" cy="263.4" r="2.3" fill="#4d3c88" stroke-width="1.35"/>
<circle cx="339.4" cy="268.8" r="2.3" fill="#4d3c88" stroke-width="1.35"/>
<circle cx="338.2" cy="272.0" r="2.3" fill="#4d3c88" stroke-width="1.35"/>
<circle cx="349.5" cy="250.3" r="2.3" fill="#4d3c88" stroke-width="1.35"/>
<circle cx="349.5" cy="275.4" r="2.3" fill="#4d3c88" stroke-width="1.35"/>
<circle cx="356.8" cy="260.0" r="2.3" fill="#4d3c88" stroke-width="1.35"/>
<circle cx="356.8" cy="263.4" r="2.3" fill="#4d3c88" stroke-width="1.35"/>
<circle cx="364.5" cy="251.4" r="2.3" fill="#4d3c88" stroke-width="1.35"/>
<circle cx="364.5" cy="255.4" r="2.3" fill="#4d3c88" stroke-width="1.35"/>
<circle cx="364.5" cy="259.1" r="2.3" fill="#4d3c88" stroke-width="1.35"/>
<circle cx="373.7" cy="263.4" r="2.3" fill="#4d3c88" stroke-width="1.35"/>
<circle cx="382.0" cy="258.8" r="2.3" fill="#4d3c88" stroke-width="1.35"/>
<circle cx="374.8" cy="263.4" r="2.3" fill="#4d3c88" stroke-width="1.35"/>
<circle cx="383.5" cy="272.6" r="2.3" fill="#4d3c88" stroke-width="1.35"/>
<circle cx="402.7" cy="231.1" r="2.3" fill="#4d3c88" stroke-width="1.35"/>
<circle cx="399.6" cy="259.5" r="2.3" fill="#4d3c88" stroke-width="1.35"/>
<circle cx="401.2" cy="264.2" r="2.3" fill="#4d3c88" stroke-width="1.35"/>
<circle cx="408.2" cy="280.3" r="2.3" fill="#4d3c88" stroke-width="1.35"/>
<circle cx="421.9" cy="247.2" r="2.3" fill="#4d3c88" stroke-width="1.35"/>
<circle cx="421.2" cy="251.8" r="2.3" fill="#4d3c88" stroke-width="1.35"/>
<circle cx="423.5" cy="256.5" r="2.3" fill="#4d3c88" stroke-width="1.35"/>
<circle cx="425.8" cy="259.5" r="2.3" fill="#4d3c88" stroke-width="1.35"/>
<circle cx="421.9" cy="260.3" r="2.3" fill="#4d3c88" stroke-width="1.35"/>
<circle cx="427.3" cy="262.6" r="2.3" fill="#4d3c88" stroke-width="1.35"/>
<circle cx="419.6" cy="264.2" r="2.3" fill="#4d3c88" stroke-width="1.35"/>
<circle cx="415.0" cy="264.9" r="2.3" fill="#4d3c88" stroke-width="1.35"/>
<circle cx="421.4" cy="248.0" r="2.3" fill="#4d3c88" stroke-width="1.35"/>
<circle cx="452.6" cy="244.5" r="2.3" fill="#4d3c88" stroke-width="1.35"/>
<circle cx="450.2" cy="250.6" r="2.3" fill="#4d3c88" stroke-width="1.35"/>
<circle cx="455.7" cy="253.1" r="2.3" fill="#4d3c88" stroke-width="1.35"/>
<circle cx="461.2" cy="250.9" r="2.3" fill="#4d3c88" stroke-width="1.35"/>
<circle cx="462.2" cy="255.5" r="2.3" fill="#4d3c88" stroke-width="1.35"/>
<circle cx="459.4" cy="259.8" r="2.3" fill="#4d3c88" stroke-width="1.35"/>
<circle cx="462.2" cy="264.8" r="2.3" fill="#4d3c88" stroke-width="1.35"/>
<circle cx="448.9" cy="257.4" r="2.3" fill="#4d3c88" stroke-width="1.35"/>
<circle cx="491.9" cy="246.7" r="2.3" fill="#4d3c88" stroke-width="1.35"/>
<circle cx="483.4" cy="259.2" r="2.3" fill="#4d3c88" stroke-width="1.35"/>
<circle cx="492.7" cy="258.0" r="2.3" fill="#4d3c88" stroke-width="1.35"/>
<circle cx="503.8" cy="258.0" r="2.3" fill="#4d3c88" stroke-width="1.35"/>
<circle cx="500.6" cy="262.9" r="2.3" fill="#4d3c88" stroke-width="1.35"/>
<circle cx="487.7" cy="263.8" r="2.3" fill="#4d3c88" stroke-width="1.35"/>
<circle cx="483.0" cy="265.7" r="2.3" fill="#4d3c88" stroke-width="1.35"/>
<circle cx="410.5" cy="170.5" r="2.3" fill="#f5a331"/>
<circle cx="410.2" cy="174.4" r="2.3" fill="#f5a331"/>
<circle cx="410.6" cy="179.0" r="2.3" fill="#f5a331"/>
<circle cx="410.2" cy="183.5" r="2.3" fill="#f5a331"/>
<circle cx="410.5" cy="190.8" r="2.3" fill="#f5a331"/>
<circle cx="410.0" cy="198.4" r="2.3" fill="#f5a331"/>
<circle cx="410.6" cy="203.5" r="2.3" fill="#f5a331"/>
<circle cx="409.5" cy="208.8" r="2.3" fill="#f5a331"/>
<circle cx="410.0" cy="216.5" r="2.3" fill="#f5a331"/>
<circle cx="409.0" cy="220.0" r="2.3" fill="#f5a331"/>
<circle cx="410.6" cy="168.4" r="2.3" fill="#f5a331"/>
<circle cx="410.3" cy="172.4" r="2.3" fill="#f5a331"/>
<circle cx="410.3" cy="176.3" r="2.3" fill="#f5a331"/>
<circle cx="410.3" cy="181.7" r="2.3" fill="#f5a331"/>
<circle cx="410.6" cy="185.2" r="2.3" fill="#f5a331"/>
<circle cx="410.3" cy="188.1" r="2.3" fill="#f5a331"/>
<circle cx="410.3" cy="193.6" r="2.3" fill="#f5a331"/>
<circle cx="409.8" cy="196.4" r="2.3" fill="#f5a331"/>
<circle cx="409.8" cy="200.4" r="2.3" fill="#f5a331"/>
<circle cx="410.8" cy="206.8" r="2.3" fill="#f5a331"/>
<circle cx="408.8" cy="210.7" r="2.3" fill="#f5a331"/>
<circle cx="411.8" cy="211.2" r="2.3" fill="#f5a331"/>
<circle cx="408.8" cy="214.2" r="2.3" fill="#f5a331"/>
<circle cx="408.3" cy="218.1" r="2.3" fill="#f5a331"/>
<circle cx="408.3" cy="221.6" r="2.3" fill="#f5a331"/>
<circle cx="406.4" cy="187.6" r="2.3" fill="#f5a331"/>
<circle cx="406.6" cy="183.4" r="2.3" fill="#ec4a33"/>
<circle cx="404.0" cy="229.0" r="2.2" fill="#2e2450" stroke-width="1.4"/>
<circle cx="407.0" cy="236.5" r="2.2" fill="#2e2450" stroke-width="1.4"/>
<circle cx="402.5" cy="243.0" r="2.2" fill="#2e2450" stroke-width="1.4"/>
<circle cx="407.5" cy="247.5" r="2.2" fill="#2e2450" stroke-width="1.4"/>
<circle cx="404.5" cy="252.5" r="2.2" fill="#2e2450" stroke-width="1.4"/>
<circle cx="407.0" cy="256.0" r="2.2" fill="#2e2450" stroke-width="1.4"/>
<circle cx="402.5" cy="258.5" r="2.2" fill="#2e2450" stroke-width="1.4"/>
<circle cx="406.5" cy="260.5" r="2.2" fill="#2e2450" stroke-width="1.4"/>
<circle cx="409.5" cy="240.0" r="2.2" fill="#2e2450" stroke-width="1.4"/>
<circle cx="409.8" cy="251.0" r="2.2" fill="#2e2450" stroke-width="1.4"/>
<circle cx="407.8" cy="231.0" r="2.2" fill="#2e2450" stroke-width="1.4"/>
<circle cx="402.8" cy="248.5" r="2.2" fill="#2e2450" stroke-width="1.4"/>
<circle cx="418.5" cy="258.0" r="2.2" fill="#4c3b8a" stroke-width="1.4"/>
<circle cx="420.5" cy="255.0" r="2.2" fill="#4c3b8a" stroke-width="1.4"/>
<circle cx="424.0" cy="262.0" r="2.2" fill="#4c3b8a" stroke-width="1.4"/>
<circle cx="417.0" cy="262.5" r="2.2" fill="#4c3b8a" stroke-width="1.4"/>
<circle cx="426.5" cy="256.0" r="2.2" fill="#4c3b8a" stroke-width="1.4"/>
<circle cx="406.2" cy="214.7" r="2.3" fill="#a2d3ec"/>
<circle cx="405.8" cy="226.5" r="2.3" fill="#a2d3ec"/>
<circle cx="405.8" cy="232.6" r="2.3" fill="#a2d3ec"/>
<circle cx="410.4" cy="234.2" r="2.3" fill="#a2d3ec"/>
<circle cx="403.5" cy="235.7" r="2.3" fill="#a2d3ec"/>
<circle cx="402.7" cy="238.8" r="2.3" fill="#a2d3ec"/>
<circle cx="405.0" cy="241.1" r="2.3" fill="#a2d3ec"/>
<circle cx="406.5" cy="241.8" r="2.3" fill="#a2d3ec"/>
<circle cx="411.2" cy="245.7" r="2.3" fill="#a2d3ec"/>
<circle cx="403.5" cy="245.7" r="2.3" fill="#a2d3ec"/>
<circle cx="404.2" cy="250.3" r="2.3" fill="#a2d3ec"/>
<circle cx="403.5" cy="254.9" r="2.3" fill="#a2d3ec"/>
<circle cx="405.0" cy="258.0" r="2.3" fill="#a2d3ec"/>
<circle cx="405.0" cy="262.6" r="2.3" fill="#a2d3ec"/>
<circle cx="404.3" cy="250.3" r="2.3" fill="#a2d3ec"/>
<circle cx="425.0" cy="223.8" r="2.3" fill="#a2d3ec"/>
<circle cx="422.7" cy="234.2" r="2.3" fill="#a2d3ec"/>
<circle cx="426.5" cy="234.2" r="2.3" fill="#a2d3ec"/>
<circle cx="425.8" cy="238.0" r="2.3" fill="#a2d3ec"/>
<circle cx="426.5" cy="244.2" r="2.3" fill="#a2d3ec"/>
<circle cx="418.1" cy="254.2" r="2.3" fill="#a2d3ec"/>
<circle cx="411.6" cy="246.3" r="2.3" fill="#a2d3ec"/>
<circle cx="425.9" cy="243.9" r="2.3" fill="#a2d3ec"/>
<circle cx="417.8" cy="253.4" r="2.3" fill="#a2d3ec"/>
<circle cx="408.9" cy="262.3" r="2.3" fill="#a2d3ec"/>
</g>
<path d="M223.5 9.3L227.7 13.5L223.5 17.7L219.3 13.5Z" fill="#8e4a9c" stroke="#111" stroke-width="1"/>
<path d="M407.3 18.6L411.3 22.6L407.3 26.6L403.3 22.6Z" fill="#8e4a9c" stroke="#111" stroke-width="1"/>
<path d="M407.6 153.5L411.6 157.5L407.6 161.5L403.6 157.5Z" fill="#8e4a9c" stroke="#111" stroke-width="1"/>
<g stroke="#151515" stroke-width="1.2" fill="none" stroke-linecap="butt">
<path d="M25.6 0V298.4H260" fill="none"/><line x1="23.400000000000002" y1="285.1" x2="25.6" y2="285.1"/><text stroke="none" x="21.400000000000002" y="288.8" class="tk" text-anchor="end">0</text><line x1="23.400000000000002" y1="198.1" x2="25.6" y2="198.1"/><text stroke="none" x="21.400000000000002" y="201.79999999999998" class="tk" text-anchor="end">2</text><line x1="23.400000000000002" y1="111.2" x2="25.6" y2="111.2"/><text stroke="none" x="21.400000000000002" y="114.9" class="tk" text-anchor="end">4</text><line x1="23.400000000000002" y1="24.2" x2="25.6" y2="24.2"/><text stroke="none" x="21.400000000000002" y="27.9" class="tk" text-anchor="end">6</text><line x1="36.0" y1="298.4" x2="36.0" y2="300.59999999999997"/><text stroke="none" x="36.0" y="309.9" class="tk" text-anchor="middle">0</text><line x1="97.4" y1="298.4" x2="97.4" y2="300.59999999999997"/><text stroke="none" x="97.4" y="309.9" class="tk" text-anchor="middle">5</text><line x1="158.8" y1="298.4" x2="158.8" y2="300.59999999999997"/><text stroke="none" x="158.8" y="309.9" class="tk" text-anchor="middle">10</text><line x1="220.2" y1="298.4" x2="220.2" y2="300.59999999999997"/><text stroke="none" x="220.2" y="309.9" class="tk" text-anchor="middle">15</text><path d="M299.9 1.5V134.4H520" fill="none"/><line x1="297.7" y1="129.5" x2="299.9" y2="129.5"/><text stroke="none" x="295.7" y="133.2" class="tk" text-anchor="end">0</text><line x1="297.7" y1="94.15" x2="299.9" y2="94.15"/><text stroke="none" x="295.7" y="97.85000000000001" class="tk" text-anchor="end">5</text><line x1="297.7" y1="58.8" x2="299.9" y2="58.8"/><text stroke="none" x="295.7" y="62.5" class="tk" text-anchor="end">10</text><line x1="297.7" y1="23.44999999999999" x2="299.9" y2="23.44999999999999"/><text stroke="none" x="295.7" y="27.149999999999988" class="tk" text-anchor="end">15</text><line x1="303.3" y1="134.4" x2="303.3" y2="136.6"/><line x1="354.6" y1="134.4" x2="354.6" y2="136.6"/><line x1="405.9" y1="134.4" x2="405.9" y2="136.6"/><line x1="457.2" y1="134.4" x2="457.2" y2="136.6"/><line x1="508.5" y1="134.4" x2="508.5" y2="136.6"/><path d="M299.9 151.2V299.0H520" fill="none"/><line x1="297.7" y1="293.0" x2="299.9" y2="293.0"/><text stroke="none" x="295.7" y="296.7" class="tk" text-anchor="end">0</text><line x1="297.7" y1="249.76" x2="299.9" y2="249.76"/><text stroke="none" x="295.7" y="253.45999999999998" class="tk" text-anchor="end">2</text><line x1="297.7" y1="206.51999999999998" x2="299.9" y2="206.51999999999998"/><text stroke="none" x="295.7" y="210.21999999999997" class="tk" text-anchor="end">4</text><line x1="297.7" y1="163.28" x2="299.9" y2="163.28"/><text stroke="none" x="295.7" y="166.98" class="tk" text-anchor="end">6</text><line x1="303.3" y1="299.0" x2="303.3" y2="301.2"/><text stroke="none" x="303.3" y="310.5" class="tk" text-anchor="middle">49.0</text><line x1="354.6" y1="299.0" x2="354.6" y2="301.2"/><text stroke="none" x="354.6" y="310.5" class="tk" text-anchor="middle">49.5</text><line x1="405.9" y1="299.0" x2="405.9" y2="301.2"/><text stroke="none" x="405.9" y="310.5" class="tk" text-anchor="middle">50.0</text><line x1="457.2" y1="299.0" x2="457.2" y2="301.2"/><text stroke="none" x="457.2" y="310.5" class="tk" text-anchor="middle">50.5</text><line x1="508.5" y1="299.0" x2="508.5" y2="301.2"/><text stroke="none" x="508.5" y="310.5" class="tk" text-anchor="middle">51.0</text>
</g>
<text class="ti" x="142.5" y="321.4" text-anchor="middle">GWAS −log<tspan font-size="7.6" dy="2.2">10</tspan><tspan dy="-2.2">(P)</tspan></text><text class="ti" text-anchor="middle" transform="translate(9.7,149.3) rotate(-90)">eQTL −log<tspan font-size="7.6" dy="2.2">10</tspan><tspan dy="-2.2">(P)</tspan></text><text class="ti" text-anchor="middle" transform="translate(279.5,68.35) rotate(-90)">GWAS −log<tspan font-size="7.6" dy="2.2">10</tspan><tspan dy="-2.2">(P)</tspan></text><text class="ti" text-anchor="middle" transform="translate(280.3,224.75) rotate(-90)">eQTL −log<tspan font-size="7.6" dy="2.2">10</tspan><tspan dy="-2.2">(P)</tspan></text><text class="ti" x="410" y="321.6" text-anchor="middle">chr19 (Mb)</text><text class="lb" x="191.3" y="24.6">rs59774409</text><text class="lb" x="410.4" y="27.6">rs59774409</text><text class="lb" x="350.5" y="168.2">rs59774409</text>
<rect x="50.2" y="45.20" width="13.2" height="16.78" fill="#E5392E" stroke="#111" stroke-width="1.2"/><rect x="50.2" y="61.98" width="13.2" height="16.78" fill="#F2A02E" stroke="#111" stroke-width="1.2"/><rect x="50.2" y="78.76" width="13.2" height="16.78" fill="#325E31" stroke="#111" stroke-width="1.2"/><rect x="50.2" y="95.54" width="13.2" height="16.78" fill="#9FCDE3" stroke="#111" stroke-width="1.2"/><rect x="50.2" y="112.32" width="13.2" height="16.78" fill="#412C66" stroke="#111" stroke-width="1.2"/><text class="lg" x="67.2" y="65.38">0.8</text><text class="lg" x="67.2" y="82.16">0.6</text><text class="lg" x="67.2" y="98.94">0.4</text><text class="lg" x="67.2" y="115.72">0.2</text><text class="lg" x="60.3" y="43.4">r<tspan font-size="7" dy="-4.4">2</tspan></text>
</svg>
</body></html>
